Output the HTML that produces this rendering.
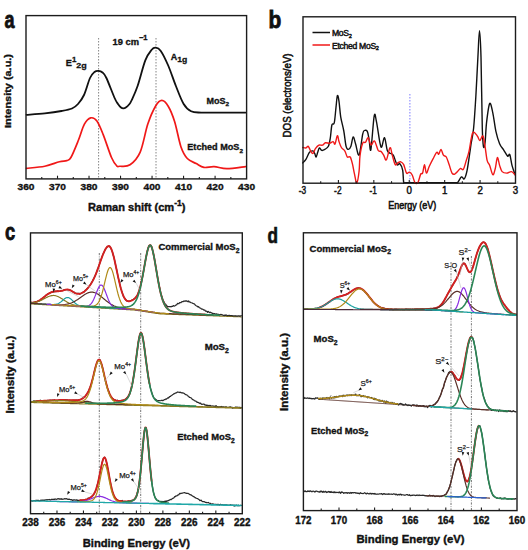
<!DOCTYPE html>
<html><head><meta charset="utf-8"><style>
html,body{margin:0;padding:0;background:#fff;width:528px;height:550px;overflow:hidden}
svg{display:block;font-family:"Liberation Sans", sans-serif}
</style></head><body>
<svg width="528" height="550" viewBox="0 0 528 550">
<line x1="98.6" y1="38" x2="98.6" y2="178.9" stroke="#666" stroke-width="0.8" stroke-dasharray="1.5,1.5"/>
<line x1="156" y1="38" x2="156" y2="178.9" stroke="#666" stroke-width="0.8" stroke-dasharray="1.5,1.5"/>
<path d="M26.5,114.8 C29.55,114.55 38.97,113.93 44.8,113.3 C50.63,112.67 56.97,111.8 61.5,111 C66.03,110.2 69.25,109.67 72,108.5 C74.75,107.33 76,106.25 78,104 C80,101.75 82,99.33 84,95 C86,90.67 88.25,81.83 90,78 C91.75,74.17 93.08,73.18 94.5,72 C95.92,70.82 97.17,70.82 98.5,70.9 C99.83,70.98 101.18,71.32 102.5,72.5 C103.82,73.68 104.38,73.75 106.4,78 C108.42,82.25 112.67,93.67 114.6,98 C116.53,102.33 116.93,102.42 118,104 C119.07,105.58 120.12,106.78 121,107.5 C121.88,108.22 122.5,108.28 123.3,108.3 C124.1,108.32 124.77,108.32 125.8,107.6 C126.83,106.88 128.55,105.18 129.5,104 C130.45,102.82 130.15,103.5 131.5,100.5 C132.85,97.5 135.3,92.68 137.6,86 C139.9,79.32 142.95,66.45 145.3,60.4 C147.65,54.35 150,51.83 151.7,49.7 C153.4,47.57 154.02,47.43 155.5,47.6 C156.98,47.77 158.48,47.72 160.6,50.7 C162.72,53.68 165.65,59.62 168.2,65.5 C170.75,71.38 173.35,79.63 175.9,86 C178.45,92.37 180.97,99.48 183.5,103.7 C186.03,107.92 188.13,109.82 191.1,111.3 C194.07,112.78 196.62,112.38 201.3,112.6 C205.98,112.82 211.83,112.6 219.2,112.6 C226.57,112.6 241.12,112.6 245.5,112.6" fill="none" stroke="#111" stroke-width="1.8" stroke-linejoin="round" stroke-linecap="round"/>
<path d="M26.5,168.3 C29.55,167.96 39.32,167.35 44.8,166.25 C50.28,165.15 55.75,162.64 59.4,161.7 C63.05,160.76 64.78,161.3 66.7,160.6 C68.62,159.9 68.98,160.8 70.9,157.5 C72.82,154.2 75.95,146.35 78.2,140.8 C80.45,135.25 82.32,128.02 84.4,124.2 C86.48,120.38 88.62,118.43 90.7,117.9 C92.78,117.37 94.82,118.22 96.9,121 C98.98,123.78 100.77,128.52 103.2,134.6 C105.63,140.68 109.25,152.3 111.5,157.5 C113.75,162.7 115.32,164.34 116.7,165.8 C118.08,167.26 117.58,166.42 119.8,166.25 C122.02,166.08 126.6,167.16 130,164.8 C133.4,162.44 137.23,158.88 140.2,152.1 C143.17,145.32 145.25,131.75 147.8,124.1 C150.35,116.45 153.17,110.15 155.5,106.2 C157.83,102.25 159.68,100.4 161.8,100.4 C163.92,100.4 166.07,102.68 168.2,106.2 C170.33,109.72 172.47,114.7 174.6,121.5 C176.73,128.3 178.88,140.83 181,147 C183.12,153.17 184.77,155.73 187.3,158.5 C189.83,161.27 193.43,162.12 196.2,163.6 C198.97,165.08 200.92,166.9 203.9,167.4 C206.88,167.9 210.28,166.38 214.1,166.6 C217.92,166.82 221.57,168.7 226.8,168.7 C232.03,168.7 242.38,166.95 245.5,166.6" fill="none" stroke="#f01818" stroke-width="1.7" stroke-linejoin="round" stroke-linecap="round"/>
<rect x="26" y="15.6" width="220.6" height="163.3" fill="none" stroke="#1c1c1c" stroke-width="1.4"/>
<line x1="41.76" y1="178.9" x2="41.76" y2="176.9" stroke="#1c1c1c" stroke-width="1.1" />
<line x1="57.51" y1="178.9" x2="57.51" y2="175.7" stroke="#1c1c1c" stroke-width="1.1" />
<line x1="73.27" y1="178.9" x2="73.27" y2="176.9" stroke="#1c1c1c" stroke-width="1.1" />
<line x1="89.03" y1="178.9" x2="89.03" y2="175.7" stroke="#1c1c1c" stroke-width="1.1" />
<line x1="104.79" y1="178.9" x2="104.79" y2="176.9" stroke="#1c1c1c" stroke-width="1.1" />
<line x1="120.54" y1="178.9" x2="120.54" y2="175.7" stroke="#1c1c1c" stroke-width="1.1" />
<line x1="136.3" y1="178.9" x2="136.3" y2="176.9" stroke="#1c1c1c" stroke-width="1.1" />
<line x1="152.06" y1="178.9" x2="152.06" y2="175.7" stroke="#1c1c1c" stroke-width="1.1" />
<line x1="167.81" y1="178.9" x2="167.81" y2="176.9" stroke="#1c1c1c" stroke-width="1.1" />
<line x1="183.57" y1="178.9" x2="183.57" y2="175.7" stroke="#1c1c1c" stroke-width="1.1" />
<line x1="199.33" y1="178.9" x2="199.33" y2="176.9" stroke="#1c1c1c" stroke-width="1.1" />
<line x1="215.09" y1="178.9" x2="215.09" y2="175.7" stroke="#1c1c1c" stroke-width="1.1" />
<line x1="230.84" y1="178.9" x2="230.84" y2="176.9" stroke="#1c1c1c" stroke-width="1.1" />
<text x="26" y="189.9" font-size="9.5" font-weight="bold" text-anchor="middle" fill="#111" textLength="17" lengthAdjust="spacingAndGlyphs"  stroke="#111" stroke-width="0.33">360</text>
<text x="57.51" y="189.9" font-size="9.5" font-weight="bold" text-anchor="middle" fill="#111" textLength="17" lengthAdjust="spacingAndGlyphs"  stroke="#111" stroke-width="0.33">370</text>
<text x="89.03" y="189.9" font-size="9.5" font-weight="bold" text-anchor="middle" fill="#111" textLength="17" lengthAdjust="spacingAndGlyphs"  stroke="#111" stroke-width="0.33">380</text>
<text x="120.54" y="189.9" font-size="9.5" font-weight="bold" text-anchor="middle" fill="#111" textLength="17" lengthAdjust="spacingAndGlyphs"  stroke="#111" stroke-width="0.33">390</text>
<text x="152.06" y="189.9" font-size="9.5" font-weight="bold" text-anchor="middle" fill="#111" textLength="17" lengthAdjust="spacingAndGlyphs"  stroke="#111" stroke-width="0.33">400</text>
<text x="183.57" y="189.9" font-size="9.5" font-weight="bold" text-anchor="middle" fill="#111" textLength="17" lengthAdjust="spacingAndGlyphs"  stroke="#111" stroke-width="0.33">410</text>
<text x="215.09" y="189.9" font-size="9.5" font-weight="bold" text-anchor="middle" fill="#111" textLength="17" lengthAdjust="spacingAndGlyphs"  stroke="#111" stroke-width="0.33">420</text>
<text x="246.6" y="189.9" font-size="9.5" font-weight="bold" text-anchor="middle" fill="#111" textLength="17" lengthAdjust="spacingAndGlyphs"  stroke="#111" stroke-width="0.33">430</text>
<text x="88" y="211.4" font-size="11" font-weight="bold" text-anchor="start" fill="#111" textLength="97.5" lengthAdjust="spacingAndGlyphs"  stroke="#111" stroke-width="0.39">Raman shift (cm<tspan font-size="8.5" dy="-5">-1</tspan><tspan dy="5">)</tspan></text>
<text x="11.2" y="128" font-size="9.6" font-weight="bold" text-anchor="start" fill="#111" textLength="74" lengthAdjust="spacingAndGlyphs" transform="rotate(-90 11.2 128)" stroke="#111" stroke-width="0.34">Intensity (a.u.)</text>
<text x="4.5" y="27.6" font-size="24" font-weight="bold" text-anchor="start" fill="#111" textLength="10" lengthAdjust="spacingAndGlyphs"  stroke="#111" stroke-width="0.84">a</text>
<text x="112.5" y="44.6" font-size="8.8" font-weight="bold" text-anchor="start" fill="#111" textLength="35" lengthAdjust="spacingAndGlyphs"  stroke="#111" stroke-width="0.31">19 cm<tspan font-size="7" dy="-4.2">−1</tspan></text>
<text x="65.8" y="66.3" font-size="8.3" font-weight="bold" text-anchor="start" fill="#111" textLength="21" lengthAdjust="spacingAndGlyphs"  stroke="#111" stroke-width="0.29">E<tspan font-size="7" dy="-4.5">1</tspan><tspan font-size="8" dy="6.5">2g</tspan></text>
<text x="170.8" y="59.7" font-size="8.3" font-weight="bold" text-anchor="start" fill="#111" textLength="16.5" lengthAdjust="spacingAndGlyphs"  stroke="#111" stroke-width="0.29">A<tspan font-size="8" dy="2">1g</tspan></text>
<text x="206.5" y="103.8" font-size="8.8" font-weight="bold" text-anchor="start" fill="#111" textLength="22.6" lengthAdjust="spacingAndGlyphs"  stroke="#111" stroke-width="0.31">MoS<tspan font-size="6.2" dy="2.2">2</tspan></text>
<text x="187.3" y="150.4" font-size="8.8" font-weight="bold" text-anchor="start" fill="#111" textLength="55.7" lengthAdjust="spacingAndGlyphs"  stroke="#111" stroke-width="0.31">Etched MoS<tspan font-size="6.2" dy="2.2">2</tspan></text>
<line x1="409.9" y1="94" x2="409.9" y2="183.2" stroke="#5a5aff" stroke-width="0.8" stroke-dasharray="1.5,1.5"/>
<path d="M302.8,162.9 C303.32,162.32 304.78,161.17 305.9,159.4 C307.02,157.63 308.32,153.7 309.5,152.3 C310.68,150.9 312.13,150.82 313,151 C313.87,151.18 314.18,152.4 314.7,153.4 C315.22,154.4 315.6,157.18 316.1,157 C316.6,156.82 317.15,153.8 317.7,152.3 C318.25,150.8 318.72,148.32 319.4,148 C320.08,147.68 320.9,150.17 321.8,150.4 C322.7,150.63 323.7,150.08 324.8,149.4 C325.9,148.72 327.48,148.2 328.4,146.3 C329.32,144.4 329.72,141.55 330.3,138 C330.88,134.45 331.23,127.55 331.9,125 C332.57,122.45 333.62,125.65 334.3,122.7 C334.98,119.75 335.48,111.83 336,107.3 C336.52,102.77 336.9,96.48 337.4,95.5 C337.9,94.52 338.45,97.85 339,101.4 C339.55,104.95 339.9,111.87 340.7,116.8 C341.5,121.73 342.9,126.08 343.8,131 C344.7,135.92 345.32,143.23 346.1,146.3 C346.88,149.37 347.7,149.4 348.5,149.4 C349.3,149.4 350.12,148.38 350.9,146.3 C351.68,144.22 352.42,137.28 353.2,136.9 C353.98,136.52 354.62,140.98 355.6,144 C356.58,147.02 357.92,156.65 359.1,155 C360.28,153.35 361.8,138.18 362.7,134.1 C363.6,130.02 363.73,130.95 364.5,130.5 C365.27,130.05 366.53,129.9 367.3,131.4 C368.07,132.9 368.5,136.48 369.1,139.5 C369.7,142.52 370.05,153.43 370.9,149.5 C371.75,145.57 373.28,120.58 374.2,115.9 C375.12,111.22 375.43,116.85 376.4,121.4 C377.37,125.95 379.1,138.97 380,143.2 C380.9,147.43 381.05,147.72 381.8,146.8 C382.55,145.88 383.58,137.08 384.5,137.7 C385.42,138.32 386.38,147.92 387.3,150.5 C388.22,153.08 389,152.42 390,153.2 C391,153.98 392.13,153.3 393.3,155.2 C394.47,157.1 395.9,163.18 397,164.6 C398.1,166.02 398.95,162.75 399.9,163.7 C400.85,164.65 402.07,167.18 402.7,170.3 C403.33,173.42 403.15,180.35 403.7,182.4 C404.25,184.45 401.62,182.57 406,182.6 C410.38,182.63 421.83,182.6 430,182.6 C438.17,182.6 450.38,182.63 455,182.6 C459.62,182.57 456.63,183.35 457.7,182.4 C458.77,181.45 460.3,177.5 461.4,176.9 C462.5,176.3 463.35,179.9 464.3,178.8 C465.25,177.7 466.15,174.87 467.1,170.3 C468.05,165.73 469.33,155.83 470,151.4 C470.67,146.97 470.5,147.55 471.1,143.7 C471.7,139.85 472.82,136.03 473.6,128.3 C474.38,120.57 475.08,109.17 475.8,97.3 C476.52,85.43 477.28,68.18 477.9,57.1 C478.52,46.02 478.98,30.8 479.5,30.8 C480.02,30.8 480.53,40.85 481,57.1 C481.47,73.35 481.88,113.35 482.3,128.3 C482.72,143.25 483.03,144.48 483.5,146.8 C483.97,149.12 484.58,146.32 485.1,142.2 C485.62,138.08 485.83,128.55 486.6,122.1 C487.37,115.65 488.67,105.05 489.7,103.5 C490.73,101.95 491.77,108.15 492.8,112.8 C493.83,117.45 494.77,126.25 495.9,131.4 C497.03,136.55 498.32,140.62 499.6,143.7 C500.88,146.78 502.27,147.83 503.6,149.9 C504.93,151.97 506.57,155.32 507.6,156.1 C508.63,156.88 509.07,153.05 509.8,154.6 C510.53,156.15 511.12,162.05 512,165.4 C512.88,168.75 514.58,173.15 515.1,174.7" fill="none" stroke="#111" stroke-width="1.4" stroke-linejoin="round" stroke-linecap="round"/>
<path d="M302.8,147.5 C303.32,147.58 304.98,148.2 305.9,148 C306.82,147.8 307.52,145.8 308.3,146.3 C309.08,146.8 309.82,149.82 310.6,151 C311.38,152.18 312.2,153.78 313,153.4 C313.8,153.02 314.42,150.07 315.4,148.7 C316.38,147.33 317.72,145.78 318.9,145.2 C320.08,144.62 321.4,145.6 322.5,145.2 C323.6,144.8 324.32,143.12 325.5,142.8 C326.68,142.48 328.33,143.5 329.6,143.3 C330.87,143.1 332.2,141.48 333.1,141.6 C334,141.72 334.28,144.98 335,144 C335.72,143.02 336.73,136.1 337.4,135.7 C338.07,135.3 338.33,139.63 339,141.6 C339.67,143.57 340.42,145.92 341.4,147.5 C342.38,149.08 343.92,149.52 344.9,151.1 C345.88,152.68 346.42,156.02 347.3,157 C348.18,157.98 349.33,155.82 350.2,157 C351.07,158.18 351.8,161.33 352.5,164.1 C353.2,166.87 353.68,170.45 354.4,173.6 C355.12,176.75 356.02,183.4 356.8,183 C357.58,182.6 358.57,175.72 359.1,171.2 C359.63,166.68 359.4,160.57 360,155.9 C360.6,151.23 361.78,145.47 362.7,143.2 C363.62,140.93 364.58,143.22 365.5,142.3 C366.42,141.38 367.3,137.25 368.2,137.7 C369.1,138.15 369.85,144.45 370.9,145 C371.95,145.55 373.28,140.08 374.5,141 C375.72,141.92 377.13,148.77 378.2,150.5 C379.27,152.23 380,150.65 380.9,151.4 C381.8,152.15 382.68,153.58 383.6,155 C384.52,156.42 385.33,161.12 386.4,159.9 C387.47,158.68 389.02,148.48 390,147.7 C390.98,146.92 391.43,152.38 392.3,155.2 C393.17,158.02 394.25,163.35 395.2,164.6 C396.15,165.85 397.07,163.17 398,162.7 C398.93,162.23 399.85,161.48 400.8,161.8 C401.75,162.12 402.75,162.72 403.7,164.6 C404.65,166.48 405.55,171.83 406.5,173.1 C407.45,174.37 408.45,171.88 409.4,172.2 C410.35,172.52 411.27,173.27 412.2,175 C413.13,176.73 414.05,181.33 415,182.6 C415.95,183.87 416.95,184.02 417.9,182.6 C418.85,181.18 419.92,175.68 420.7,174.1 C421.48,172.52 421.97,174.68 422.6,173.1 C423.23,171.52 423.87,164.6 424.5,164.6 C425.13,164.6 425.62,172.78 426.4,173.1 C427.18,173.42 428.1,168.87 429.2,166.5 C430.3,164.13 431.73,161.27 433,158.9 C434.27,156.53 435.85,153.08 436.8,152.3 C437.75,151.52 438,154.67 438.7,154.2 C439.4,153.73 440.22,149.33 441,149.5 C441.78,149.67 442.52,153.95 443.4,155.2 C444.28,156.45 445.35,155.43 446.3,157 C447.25,158.57 448.15,161.92 449.1,164.6 C450.05,167.28 451.05,171.52 452,173.1 C452.95,174.68 453.85,174.4 454.8,174.1 C455.75,173.8 456.75,172.25 457.7,171.3 C458.65,170.35 459.57,168.72 460.5,168.4 C461.43,168.08 462.35,170.67 463.3,169.4 C464.25,168.13 465.25,163.8 466.2,160.8 C467.15,157.8 467.92,156.05 469,151.4 C470.08,146.75 471.32,135.47 472.7,132.9 C474.08,130.33 476.12,134.72 477.3,136 C478.48,137.28 478.87,140.6 479.8,140.6 C480.73,140.6 482.02,134.97 482.9,136 C483.78,137.03 484.38,142.68 485.1,146.8 C485.82,150.92 486.43,157.6 487.2,160.7 C487.97,163.8 488.77,163.07 489.7,165.4 C490.63,167.73 491.87,174.18 492.8,174.7 C493.73,175.22 494.53,171.35 495.3,168.5 C496.07,165.65 496.68,158.12 497.4,157.6 C498.12,157.08 498.82,163.07 499.6,165.4 C500.38,167.73 500.92,170.32 502.1,171.6 C503.28,172.88 505.15,173.1 506.7,173.1 C508.25,173.1 510.02,171.33 511.4,171.6 C512.78,171.87 514.4,174.18 515,174.7" fill="none" stroke="#f01818" stroke-width="1.4" stroke-linejoin="round" stroke-linecap="round"/>
<rect x="303" y="16.8" width="212.5" height="166.4" fill="none" stroke="#1c1c1c" stroke-width="1.4"/>
<line x1="320.71" y1="183.2" x2="320.71" y2="181.2" stroke="#1c1c1c" stroke-width="1.1" />
<line x1="338.42" y1="183.2" x2="338.42" y2="180" stroke="#1c1c1c" stroke-width="1.1" />
<line x1="356.12" y1="183.2" x2="356.12" y2="181.2" stroke="#1c1c1c" stroke-width="1.1" />
<line x1="373.83" y1="183.2" x2="373.83" y2="180" stroke="#1c1c1c" stroke-width="1.1" />
<line x1="391.54" y1="183.2" x2="391.54" y2="181.2" stroke="#1c1c1c" stroke-width="1.1" />
<line x1="409.25" y1="183.2" x2="409.25" y2="180" stroke="#1c1c1c" stroke-width="1.1" />
<line x1="426.96" y1="183.2" x2="426.96" y2="181.2" stroke="#1c1c1c" stroke-width="1.1" />
<line x1="444.67" y1="183.2" x2="444.67" y2="180" stroke="#1c1c1c" stroke-width="1.1" />
<line x1="462.37" y1="183.2" x2="462.37" y2="181.2" stroke="#1c1c1c" stroke-width="1.1" />
<line x1="480.08" y1="183.2" x2="480.08" y2="180" stroke="#1c1c1c" stroke-width="1.1" />
<line x1="497.79" y1="183.2" x2="497.79" y2="181.2" stroke="#1c1c1c" stroke-width="1.1" />
<text x="302.4" y="194.2" font-size="10" font-weight="normal" text-anchor="middle" fill="#111" textLength="7.4" lengthAdjust="spacingAndGlyphs" stroke="#111" stroke-width="0.45">-3</text>
<text x="337.82" y="194.2" font-size="10" font-weight="normal" text-anchor="middle" fill="#111" textLength="7.4" lengthAdjust="spacingAndGlyphs" stroke="#111" stroke-width="0.45">-2</text>
<text x="373.23" y="194.2" font-size="10" font-weight="normal" text-anchor="middle" fill="#111" textLength="7.4" lengthAdjust="spacingAndGlyphs" stroke="#111" stroke-width="0.45">-1</text>
<text x="409.25" y="194.2" font-size="10" font-weight="normal" text-anchor="middle" fill="#111" textLength="5.4" lengthAdjust="spacingAndGlyphs" stroke="#111" stroke-width="0.45">0</text>
<text x="444.67" y="194.2" font-size="10" font-weight="normal" text-anchor="middle" fill="#111" textLength="5.4" lengthAdjust="spacingAndGlyphs" stroke="#111" stroke-width="0.45">1</text>
<text x="480.08" y="194.2" font-size="10" font-weight="normal" text-anchor="middle" fill="#111" textLength="5.4" lengthAdjust="spacingAndGlyphs" stroke="#111" stroke-width="0.45">2</text>
<text x="515.5" y="194.2" font-size="10" font-weight="normal" text-anchor="middle" fill="#111" textLength="5.4" lengthAdjust="spacingAndGlyphs" stroke="#111" stroke-width="0.45">3</text>
<text x="388.2" y="209" font-size="10.8" font-weight="normal" text-anchor="start" fill="#111" textLength="48" lengthAdjust="spacingAndGlyphs" stroke="#111" stroke-width="0.6">Energy (eV)</text>
<text x="291.5" y="137.4" font-size="10" font-weight="normal" text-anchor="start" fill="#111" textLength="84" lengthAdjust="spacingAndGlyphs" transform="rotate(-90 291.5 137.4)" stroke="#111" stroke-width="0.55">DOS (electrons/eV)</text>
<text x="268.5" y="27.6" font-size="24" font-weight="bold" text-anchor="start" fill="#111" textLength="12.8" lengthAdjust="spacingAndGlyphs"  stroke="#111" stroke-width="0.84">b</text>
<line x1="312.5" y1="32.5" x2="330" y2="32.5" stroke="#111" stroke-width="1.5" />
<line x1="312.5" y1="45" x2="330" y2="45" stroke="#f01818" stroke-width="1.5" />
<text x="332" y="36" font-size="8.6" font-weight="normal" text-anchor="start" fill="#111" letter-spacing="-0.3" stroke="#111" stroke-width="0.45">MoS<tspan font-size="5.5" dy="1.8">2</tspan></text>
<text x="332" y="48.5" font-size="8.6" font-weight="normal" text-anchor="start" fill="#111" letter-spacing="-0.3" stroke="#111" stroke-width="0.45">Etched MoS<tspan font-size="5.5" dy="1.8">2</tspan></text>
<line x1="99.3" y1="253" x2="99.3" y2="513.7" stroke="#666" stroke-width="0.9" stroke-dasharray="2.2,1.3,0.8,1.3"/>
<line x1="140.7" y1="253" x2="140.7" y2="513.7" stroke="#666" stroke-width="0.9" stroke-dasharray="2.2,1.3,0.8,1.3"/>
<polyline points="31.2,303.94 31.9,303.98 32.6,304.02 33.3,304.06 34,304.1 34.7,304.14 35.4,304.19 36.1,304.23 36.8,304.27 37.5,304.31 38.2,304.35 38.9,304.39 39.6,304.43 40.3,304.48 41,304.52 41.7,304.56 42.4,304.6 43.1,304.64 43.8,304.68 44.5,304.73 45.2,304.77 45.9,304.81 46.6,304.85 47.3,304.89 48,304.93 48.7,304.97 49.4,305.02 50.1,305.06 50.8,305.1 51.5,305.14 52.2,305.18 52.9,305.22 53.6,305.27 54.3,305.31 55,305.35 55.7,305.39 56.4,305.43 57.1,305.47 57.8,305.52 58.5,305.56 59.2,305.6 59.9,305.64 60.6,305.68 61.3,305.72 62,305.76 62.7,305.81 63.4,305.85 64.1,305.89 64.8,305.93 65.5,305.97 66.2,306.01 66.9,306.06 67.6,306.1 68.3,306.14 69,306.18 69.7,306.22 70.4,306.26 71.1,306.31 71.8,306.35 72.5,306.39 73.2,306.43 73.9,306.47 74.6,306.51 75.3,306.55 76,306.6 76.7,306.64 77.4,306.68 78.1,306.72 78.8,306.76 79.5,306.8 80.2,306.85 80.9,306.89 81.6,306.93 82.3,306.97 83,307.01 83.7,307.05 84.4,307.1 85.1,307.14 85.8,307.18 86.5,307.22 87.2,307.26 87.9,307.3 88.6,307.34 89.3,307.39 90,307.43 90.7,307.47 91.4,307.51 92.1,307.55 92.8,307.59 93.5,307.64 94.2,307.68 94.9,307.72 95.6,307.76 96.3,307.8 97,307.84 97.7,307.88 98.4,307.93 99.1,307.97 99.8,308.01 100.5,308.05 101.2,308.09 101.9,308.13 102.6,308.18 103.3,308.22 104,308.26 104.7,308.3 105.4,308.34 106.1,308.38 106.8,308.43 107.5,308.47 108.2,308.51 108.9,308.55 109.6,308.59 110.3,308.63 111,308.67 111.7,308.72 112.4,308.76 113.1,308.8 113.8,308.84 114.5,308.88 115.2,308.92 115.9,308.97 116.6,309.01 117.3,309.05 118,309.09 118.7,309.13 119.4,309.17 120.1,309.22 120.8,309.26 121.5,309.3 122.2,309.34 122.9,309.38 123.6,309.42 124.3,309.46 125,309.51 125.7,309.55 126.4,309.59 127.1,309.63 127.8,309.67 128.5,309.71 129.2,309.76 129.9,309.8 130.6,309.84 131.3,309.88 132,309.92 132.7,309.96 133.4,310 134.1,310.05 134.8,310.09 135.5,310.18 136.2,310.28 136.9,310.39 137.6,310.5 138.3,310.6 139,310.71 139.7,310.81 140.4,310.92 141.1,311.03 141.8,311.13 142.5,311.24 143.2,311.35 143.9,311.45 144.6,311.56 145.3,311.67 146,311.77 146.7,311.88 147.4,311.98 148.1,312.09 148.8,312.2 149.5,312.3 150.2,312.41 150.9,312.52 151.6,312.62 152.3,312.73 153,312.84 153.7,312.94 154.4,313.05 155.1,313.16 155.8,313.26 156.5,313.37 157.2,313.47 157.9,313.58 158.6,313.69 159.3,313.79 160,313.9 160.7,313.93 161.4,313.95 162.1,313.98 162.8,314 163.5,314.03 164.2,314.05 164.9,314.08 165.6,314.1 166.3,314.13 167,314.16 167.7,314.18 168.4,314.21 169.1,314.23 169.8,314.26 170.5,314.28 171.2,314.31 171.9,314.34 172.6,314.36 173.3,314.39 174,314.41 174.7,314.44 175.4,314.46 176.1,314.49 176.8,314.51 177.5,314.54 178.2,314.57 178.9,314.59 179.6,314.62 180.3,314.64 181,314.67 181.7,314.69 182.4,314.72 183.1,314.75 183.8,314.77 184.5,314.8 185.2,314.82 185.9,314.85 186.6,314.87 187.3,314.9 188,314.92 188.7,314.95 189.4,314.98 190.1,315 190.8,315.03 191.5,315.05 192.2,315.08 192.9,315.1 193.6,315.13 194.3,315.15 195,315.18 195.7,315.21 196.4,315.23 197.1,315.26 197.8,315.28 198.5,315.31 199.2,315.33 199.9,315.36 200.6,315.39 201.3,315.41 202,315.44 202.7,315.46 203.4,315.49 204.1,315.51 204.8,315.54 205.5,315.56 206.2,315.59 206.9,315.62 207.6,315.64 208.3,315.67 209,315.69 209.7,315.72 210.4,315.74 211.1,315.77 211.8,315.8 212.5,315.82 213.2,315.85 213.9,315.87 214.6,315.9 215.3,315.92 216,315.95 216.7,315.97 217.4,316 218.1,316.03 218.8,316.05 219.5,316.08 220.2,316.1 220.9,316.13 221.6,316.15 222.3,316.18 223,316.2 223.7,316.23 224.4,316.26 225.1,316.28 225.8,316.31 226.5,316.33 227.2,316.36 227.9,316.38 228.6,316.41 229.3,316.44 230,316.46 230.7,316.49 231.4,316.51 232.1,316.54 232.8,316.56 233.5,316.59 234.2,316.61 234.9,316.64 235.6,316.67 236.3,316.69 237,316.72 237.7,316.74 238.4,316.77 239.1,316.79 239.8,316.82 240.5,316.85 241.2,316.87" fill="none" stroke="#8a7a20" stroke-width="1.1" stroke-linejoin="round" stroke-linecap="round" />
<polyline points="31.2,302.33 31.9,302.83 32.6,302.74 33.3,302.78 34,302.17 34.7,302.82 35.4,301.64 36.1,302.07 36.8,301.56 37.5,301.43 38.2,300.69 38.9,301.21 39.6,300.38 40.3,299.96 41,299.11 41.7,299.16 42.4,298.39 43.1,298.01 43.8,297.21 44.5,296.5 45.2,296.36 45.9,295.24 46.6,294.77 47.3,294.36 48,293.79 48.7,293.75 49.4,293.21 50.1,293.05 50.8,292.56 51.5,292.08 52.2,292.15 52.9,291.87 53.6,291.78 54.3,291.68 55,291.54 55.7,291.31 56.4,291.54 57.1,291.17 57.8,290.79 58.5,290.99 59.2,291.19 59.9,291.31 60.6,291.19 61.3,290.47 62,290.73 62.7,290.72 63.4,290.32 64.1,289.63 64.8,289.92 65.5,289.62 66.2,289.56 66.9,289.65 67.6,289.84 68.3,289.72 69,289.84 69.7,289.88 70.4,290.13 71.1,290.47 71.8,291.04 72.5,291.32 73.2,292.16 73.9,292.08 74.6,292.65 75.3,293.19 76,293.27 76.7,293.63 77.4,293.47 78.1,293.45 78.8,293.27 79.5,294.09 80.2,293.96 80.9,293.51 81.6,293.06 82.3,292.54 83,292.28 83.7,292.41 84.4,291.47 85.1,290.61 85.8,290.13 86.5,289.31 87.2,288.81 87.9,288.01 88.6,287.05 89.3,286.08 90,285.15 90.7,284.13 91.4,283.22 92.1,281.78 92.8,280.58 93.5,278.99 94.2,277.53 94.9,276.25 95.6,274.75 96.3,273.07 97,270.97 97.7,269.15 98.4,267.28 99.1,265.18 99.8,263.32 100.5,260.99 101.2,259.31 101.9,256.99 102.6,255.37 103.3,253.6 104,252.41 104.7,250.61 105.4,249.13 106.1,248.4 106.8,247.28 107.5,246.51 108.2,246.46 108.9,245.98 109.6,246.18 110.3,247.36 111,248.26 111.7,250.3 112.4,252.01 113.1,254.79 113.8,256.8 114.5,259.93 115.2,263.18 115.9,266.63 116.6,269.44 117.3,272.61 118,276.85 118.7,279.27 119.4,282.23 120.1,285.42 120.8,288.47 121.5,290.39 122.2,292.83 122.9,294.85 123.6,296.66 124.3,297.61 125,298.68 125.7,299.92 126.4,300.3 127.1,301.17 127.8,300.96 128.5,301.26 129.2,301.3 129.9,301.15 130.6,300.69 131.3,300.44 132,300.17 132.7,299.89 133.4,299.47 134.1,298.84 134.8,298.35 135.5,297.57 136.2,297 136.9,296.5 137.6,294.35 138.3,292.48 139,291.02 139.7,288.91 140.4,286.34 141.1,283.41 141.8,280.15 142.5,276.93 143.2,273.07 143.9,269.33 144.6,265.1 145.3,261.35 146,257.41 146.7,254.11 147.4,250.74 148.1,248.39 148.8,245.99 149.5,245.87 150.2,245.24 150.9,245.38 151.6,246.32 152.3,249.12 153,251.8 153.7,255.15 154.4,258.44 155.1,262.8 155.8,266.66 156.5,271.05 157.2,275.39 157.9,278.96 158.6,282.7 159.3,286.06 160,289.69 160.7,292.72 161.4,295.02 162.1,297.39 162.8,299.38 163.5,301.16 164.2,302.29 164.9,303.66 165.6,304.23 166.3,305.18 167,305.85 167.7,306.83 168.4,306.54 169.1,306.74 169.8,306.68 170.5,306.59 171.2,306.83 171.9,306.35 172.6,306.47 173.3,305.56 174,306.08 174.7,305.85 175.4,305.47 176.1,304.92 176.8,304.6 177.5,303.46 178.2,303.66 178.9,303.55 179.6,302.59 180.3,302.7 181,302.56 181.7,301.77 182.4,301.6 183.1,301.67 183.8,301.06 184.5,301.27 185.2,300.84 185.9,301.1 186.6,300.87 187.3,301.31 188,301.76 188.7,301.01 189.4,301.97 190.1,302.14 190.8,302.55 191.5,302.74 192.2,302.98 192.9,303.37 193.6,303.65 194.3,303.78 195,304.69 195.7,305.41 196.4,305.84 197.1,306.16 197.8,306.86 198.5,306.69 199.2,307.46 199.9,307.84 200.6,308.19 201.3,308.95 202,309.22 202.7,309.22 203.4,309.6 204.1,310.22 204.8,310 205.5,311.11 206.2,311.18 206.9,311.44 207.6,312.37 208.3,311.45 209,312.1 209.7,312.69 210.4,312.14 211.1,312.72 211.8,312.96 212.5,313.41 213.2,313.42 213.9,313.99 214.6,313.57 215.3,314.02 216,314.03 216.7,313.9 217.4,314.25 218.1,314.37 218.8,314.48 219.5,314.83 220.2,314.54 220.9,314.45 221.6,314.73 222.3,314.78 223,315.29 223.7,315.36 224.4,315.56 225.1,314.95 225.8,315.38 226.5,315.02 227.2,315.62 227.9,315.58 228.6,315.49 229.3,315.33 230,315.58 230.7,315.59 231.4,315.67 232.1,315.67 232.8,316.03 233.5,315.76 234.2,315.86 234.9,315.86 235.6,315.75 236.3,316.08 237,315.96 237.7,316.04 238.4,315.89 239.1,315.83 239.8,316.3 240.5,315.94 241.2,315.6" fill="none" stroke="#2a2a2a" stroke-width="1.25" stroke-linejoin="round" stroke-linecap="round" />
<polyline points="31.2,302.74 31.9,302.68 32.6,302.6 33.3,302.51 34,302.39 34.7,302.25 35.4,302.08 36.1,301.88 36.8,301.64 37.5,301.36 38.2,301.05 38.9,300.7 39.6,300.3 40.3,299.87 41,299.39 41.7,298.88 42.4,298.35 43.1,297.79 43.8,297.22 44.5,296.65 45.2,296.08 45.9,295.53 46.6,294.99 47.3,294.49 48,294.01 48.7,293.58 49.4,293.18 50.1,292.82 50.8,292.5 51.5,292.22 52.2,291.97 52.9,291.77 53.6,291.6 54.3,291.47 55,291.37 55.7,291.3 56.4,291.26 57.1,291.23 57.8,291.2 58.5,291.18 59.2,291.14 59.9,291.09 60.6,291.01 61.3,290.89 62,290.74 62.7,290.56 63.4,290.36 64.1,290.15 64.8,289.95 65.5,289.77 66.2,289.64 66.9,289.56 67.6,289.56 68.3,289.63 69,289.79 69.7,290.03 70.4,290.34 71.1,290.7 71.8,291.11 72.5,291.54 73.2,291.97 73.9,292.39 74.6,292.78 75.3,293.11 76,293.4 76.7,293.61 77.4,293.76 78.1,293.83 78.8,293.82 79.5,293.74 80.2,293.6 80.9,293.38 81.6,293.1 82.3,292.76 83,292.36 83.7,291.91 84.4,291.39 85.1,290.82 85.8,290.19 86.5,289.5 87.2,288.76 87.9,287.96 88.6,287.1 89.3,286.18 90,285.2 90.7,284.16 91.4,283.06 92.1,281.87 92.8,280.62 93.5,279.27 94.2,277.83 94.9,276.29 95.6,274.65 96.3,272.91 97,271.08 97.7,269.17 98.4,267.2 99.1,265.19 99.8,263.17 100.5,261.16 101.2,259.2 101.9,257.3 102.6,255.47 103.3,253.75 104,252.13 104.7,250.65 105.4,249.32 106.1,248.16 106.8,247.21 107.5,246.52 108.2,246.11 108.9,246.06 109.6,246.39 110.3,247.15 111,248.34 111.7,249.97 112.4,252 113.1,254.39 113.8,257.08 114.5,260.03 115.2,263.17 115.9,266.43 116.6,269.76 117.3,273.1 118,276.39 118.7,279.58 119.4,282.63 120.1,285.51 120.8,288.17 121.5,290.6 122.2,292.79 122.9,294.7 123.6,296.36 124.3,297.75 125,298.88 125.7,299.77 126.4,300.43 127.1,300.89 127.8,301.16 128.5,301.27 129.2,301.25 129.9,301.12 130.6,300.91 131.3,300.63 132,300.3 132.7,299.92 133.4,299.49 134.1,298.99 134.8,298.41 135.5,297.74 136.2,296.92 136.9,295.89 137.6,294.61 138.3,293.03 139,291.13 139.7,288.89 140.4,286.3 141.1,283.38 141.8,280.15 142.5,276.66 143.2,272.94 143.9,269.09 144.6,265.17 145.3,261.28 146,257.54 146.7,254.07 147.4,251 148.1,248.45 148.8,246.56 149.5,245.42 150.2,245.11 150.9,245.64 151.6,247 152.3,249.12 153,251.88 153.7,255.18 154.4,258.89 155.1,262.86 155.8,266.99 156.5,271.17 157.2,275.31 157.9,279.33 158.6,283.18 159.3,286.8 160,290.16 160.7,293.15 161.4,295.86 162.1,298.27 162.8,300.4 163.5,302.25 164.2,303.85 164.9,305.23 165.6,306.39 166.3,307.38 167,308.2 167.7,308.89 168.4,309.47 169.1,309.95 169.8,310.36 170.5,310.7 171.2,310.98 171.9,311.23 172.6,311.44 173.3,311.62 174,311.79 174.7,311.93 175.4,312.07 176.1,312.19 176.8,312.3 177.5,312.4 178.2,312.5 178.9,312.59 179.6,312.68 180.3,312.76 181,312.84 181.7,312.92 182.4,312.99 183.1,313.06 183.8,313.13 184.5,313.2 185.2,313.26 185.9,313.32 186.6,313.38 187.3,313.43 188,313.49 188.7,313.54 189.4,313.6 190.1,313.65 190.8,313.7 191.5,313.75 192.2,313.79 192.9,313.84 193.6,313.89 194.3,313.93 195,313.98 195.7,314.02 196.4,314.06 197.1,314.1 197.8,314.14 198.5,314.19 199.2,314.23 199.9,314.26 200.6,314.3 201.3,314.34 202,314.38 202.7,314.42 203.4,314.45 204.1,314.49 204.8,314.53" fill="none" stroke="#d42020" stroke-width="1.9" stroke-linejoin="round" stroke-linecap="round" />
<polyline points="31.2,302.85 31.9,302.8 32.6,302.73 33.3,302.65 34,302.55 34.7,302.43 35.4,302.29 36.1,302.13 36.8,301.95 37.5,301.74 38.2,301.51 38.9,301.26 39.6,300.98 40.3,300.69 41,300.37 41.7,300.04 42.4,299.69 43.1,299.33 43.8,298.96 44.5,298.58 45.2,298.2 45.9,297.83 46.6,297.47 47.3,297.12 48,296.8 48.7,296.5 49.4,296.22 50.1,295.99 50.8,295.79 51.5,295.64 52.2,295.53 52.9,295.48 53.6,295.47 54.3,295.52 55,295.61 55.7,295.76 56.4,295.96 57.1,296.2 57.8,296.48 58.5,296.81 59.2,297.17 59.9,297.55 60.6,297.97 61.3,298.4 62,298.85 62.7,299.3 63.4,299.76 64.1,300.22 64.8,300.67 65.5,301.12 66.2,301.55 66.9,301.96 67.6,302.36 68.3,302.73 69,303.09 69.7,303.42 70.4,303.73 71.1,304.02 71.8,304.28 72.5,304.52 73.2,304.74 73.9,304.94 74.6,305.12 75.3,305.29 76,305.44 76.7,305.57 77.4,305.69 78.1,305.8 78.8,305.9 79.5,305.99 80.2,306.07 80.9,306.15 81.6,306.22 82.3,306.28 83,306.34 83.7,306.4 84.4,306.45 85.1,306.5 85.8,306.55 86.5,306.6 87.2,306.65 87.9,306.69 88.6,306.74 89.3,306.78 90,306.82 90.7,306.87 91.4,306.91 92.1,306.95 92.8,306.99 93.5,307.03 94.2,307.08 94.9,307.12 95.6,307.16 96.3,307.2 97,307.24 97.7,307.28 98.4,307.33 99.1,307.37 99.8,307.41 100.5,307.45 101.2,307.49 101.9,307.53 102.6,307.58 103.3,307.62 104,307.66 104.7,307.7 105.4,307.74 106.1,307.78 106.8,307.83 107.5,307.87 108.2,307.91 108.9,307.95 109.6,307.99 110.3,308.03 111,308.07 111.7,308.12 112.4,308.16 113.1,308.2 113.8,308.24 114.5,308.28 115.2,308.32 115.9,308.37 116.6,308.41 117.3,308.45 118,308.49 118.7,308.53 119.4,308.57 120.1,308.62 120.8,308.66 121.5,308.7 122.2,308.74 122.9,308.78 123.6,308.82 124.3,308.86 125,308.91 125.7,308.95 126.4,308.99 127.1,309.03 127.8,309.07 128.5,309.11 129.2,309.16 129.9,309.2 130.6,309.24 131.3,309.28 132,309.32 132.7,309.36 133.4,309.4 134.1,309.45 134.8,309.49 135.5,309.58 136.2,309.68 136.9,309.79 137.6,309.9 138.3,310 139,310.11 139.7,310.21 140.4,310.32 141.1,310.43 141.8,310.53 142.5,310.64 143.2,310.75 143.9,310.85 144.6,310.96 145.3,311.07 146,311.17 146.7,311.28 147.4,311.38 148.1,311.49 148.8,311.6 149.5,311.7 150.2,311.81 150.9,311.92 151.6,312.02 152.3,312.13" fill="none" stroke="#8a7a20" stroke-width="1.2" stroke-linejoin="round" stroke-linecap="round" />
<polyline points="31.2,303.34 31.9,303.38 32.6,303.42 33.3,303.46 34,303.5 34.7,303.54 35.4,303.59 36.1,303.63 36.8,303.67 37.5,303.71 38.2,303.75 38.9,303.79 39.6,303.83 40.3,303.88 41,303.92 41.7,303.96 42.4,304 43.1,304.04 43.8,304.08 44.5,304.13 45.2,304.17 45.9,304.21 46.6,304.25 47.3,304.29 48,304.33 48.7,304.37 49.4,304.4 50.1,304.44 50.8,304.47 51.5,304.49 52.2,304.51 52.9,304.51 53.6,304.5 54.3,304.47 55,304.41 55.7,304.31 56.4,304.18 57.1,303.99 57.8,303.75 58.5,303.44 59.2,303.07 59.9,302.63 60.6,302.13 61.3,301.58 62,300.98 62.7,300.36 63.4,299.74 64.1,299.14 64.8,298.6 65.5,298.15 66.2,297.8 66.9,297.58 67.6,297.5 68.3,297.58 69,297.8 69.7,298.16 70.4,298.64 71.1,299.22 71.8,299.87 72.5,300.56 73.2,301.27 73.9,301.96 74.6,302.63 75.3,303.25 76,303.8 76.7,304.3 77.4,304.72 78.1,305.08 78.8,305.38 79.5,305.63 80.2,305.83 80.9,305.99 81.6,306.12 82.3,306.23 83,306.32 83.7,306.39 84.4,306.46 85.1,306.51 85.8,306.56 86.5,306.61 87.2,306.66 87.9,306.7 88.6,306.74 89.3,306.78 90,306.83 90.7,306.87 91.4,306.91 92.1,306.95 92.8,306.99 93.5,307.04 94.2,307.08 94.9,307.12 95.6,307.16 96.3,307.2 97,307.24 97.7,307.28 98.4,307.33 99.1,307.37 99.8,307.41 100.5,307.45 101.2,307.49 101.9,307.53 102.6,307.58 103.3,307.62 104,307.66 104.7,307.7 105.4,307.74 106.1,307.78 106.8,307.83 107.5,307.87 108.2,307.91 108.9,307.95 109.6,307.99 110.3,308.03 111,308.07 111.7,308.12 112.4,308.16 113.1,308.2 113.8,308.24 114.5,308.28 115.2,308.32 115.9,308.37 116.6,308.41 117.3,308.45 118,308.49 118.7,308.53 119.4,308.57 120.1,308.62 120.8,308.66 121.5,308.7" fill="none" stroke="#1aa0a0" stroke-width="1.2" stroke-linejoin="round" stroke-linecap="round" />
<polyline points="31.2,303.34 31.9,303.38 32.6,303.42 33.3,303.46 34,303.5 34.7,303.54 35.4,303.58 36.1,303.63 36.8,303.67 37.5,303.71 38.2,303.75 38.9,303.79 39.6,303.83 40.3,303.88 41,303.92 41.7,303.96 42.4,304 43.1,304.04 43.8,304.08 44.5,304.12 45.2,304.16 45.9,304.2 46.6,304.24 47.3,304.28 48,304.32 48.7,304.36 49.4,304.4 50.1,304.44 50.8,304.48 51.5,304.51 52.2,304.55 52.9,304.58 53.6,304.61 54.3,304.64 55,304.67 55.7,304.7 56.4,304.72 57.1,304.74 57.8,304.75 58.5,304.76 59.2,304.76 59.9,304.76 60.6,304.75 61.3,304.73 62,304.7 62.7,304.67 63.4,304.62 64.1,304.55 64.8,304.48 65.5,304.39 66.2,304.28 66.9,304.16 67.6,304.02 68.3,303.85 69,303.67 69.7,303.46 70.4,303.24 71.1,302.98 71.8,302.71 72.5,302.41 73.2,302.08 73.9,301.73 74.6,301.36 75.3,300.96 76,300.54 76.7,300.1 77.4,299.65 78.1,299.17 78.8,298.69 79.5,298.19 80.2,297.69 80.9,297.18 81.6,296.68 82.3,296.18 83,295.69 83.7,295.21 84.4,294.75 85.1,294.32 85.8,293.91 86.5,293.54 87.2,293.2 87.9,292.91 88.6,292.66 89.3,292.45 90,292.3 90.7,292.2 91.4,292.15 92.1,292.15 92.8,292.21 93.5,292.33 94.2,292.5 94.9,292.72 95.6,293 96.3,293.32 97,293.68 97.7,294.09 98.4,294.54 99.1,295.02 99.8,295.53 100.5,296.06 101.2,296.62 101.9,297.19 102.6,297.77 103.3,298.35 104,298.94 104.7,299.53 105.4,300.11 106.1,300.69 106.8,301.25 107.5,301.79 108.2,302.32 108.9,302.83 109.6,303.31 110.3,303.78 111,304.22 111.7,304.63 112.4,305.02 113.1,305.39 113.8,305.73 114.5,306.05 115.2,306.34 115.9,306.62 116.6,306.87 117.3,307.1 118,307.31 118.7,307.51 119.4,307.69 120.1,307.85 120.8,308 121.5,308.13 122.2,308.26 122.9,308.37 123.6,308.47 124.3,308.57 125,308.66 125.7,308.74 126.4,308.82 127.1,308.89 127.8,308.95 128.5,309.02 129.2,309.07 129.9,309.13 130.6,309.18 131.3,309.24 132,309.29 132.7,309.33 133.4,309.38 134.1,309.43 134.8,309.47 135.5,309.56 136.2,309.67 136.9,309.78 137.6,309.89 138.3,310 139,310.1 139.7,310.21 140.4,310.32 141.1,310.43 141.8,310.53 142.5,310.64 143.2,310.75 143.9,310.85 144.6,310.96 145.3,311.07 146,311.17 146.7,311.28 147.4,311.38 148.1,311.49 148.8,311.6 149.5,311.7 150.2,311.81 150.9,311.92 151.6,312.02 152.3,312.13 153,312.24 153.7,312.34 154.4,312.45 155.1,312.56 155.8,312.66 156.5,312.77 157.2,312.87 157.9,312.98 158.6,313.09 159.3,313.19 160,313.3 160.7,313.33 161.4,313.35 162.1,313.38 162.8,313.4 163.5,313.43 164.2,313.45 164.9,313.48 165.6,313.5 166.3,313.53 167,313.56 167.7,313.58 168.4,313.61 169.1,313.63 169.8,313.66 170.5,313.68 171.2,313.71 171.9,313.74 172.6,313.76 173.3,313.79 174,313.81 174.7,313.84 175.4,313.86 176.1,313.89 176.8,313.91 177.5,313.94 178.2,313.97 178.9,313.99 179.6,314.02 180.3,314.04 181,314.07 181.7,314.09 182.4,314.12 183.1,314.15 183.8,314.17 184.5,314.2 185.2,314.22 185.9,314.25 186.6,314.27 187.3,314.3 188,314.32 188.7,314.35 189.4,314.38 190.1,314.4 190.8,314.43 191.5,314.45 192.2,314.48 192.9,314.5 193.6,314.53 194.3,314.55 195,314.58 195.7,314.61 196.4,314.63 197.1,314.66 197.8,314.68 198.5,314.71 199.2,314.73 199.9,314.76 200.6,314.79 201.3,314.81 202,314.84 202.7,314.86 203.4,314.89 204.1,314.91 204.8,314.94 205.5,314.96 206.2,314.99 206.9,315.02 207.6,315.04 208.3,315.07 209,315.09 209.7,315.12 210.4,315.14 211.1,315.17 211.8,315.2 212.5,315.22 213.2,315.25" fill="none" stroke="#5a3028" stroke-width="1.2" stroke-linejoin="round" stroke-linecap="round" />
<polyline points="47.3,304.29 48,304.33 48.7,304.37 49.4,304.42 50.1,304.46 50.8,304.5 51.5,304.54 52.2,304.58 52.9,304.62 53.6,304.67 54.3,304.71 55,304.75 55.7,304.79 56.4,304.83 57.1,304.87 57.8,304.92 58.5,304.96 59.2,305 59.9,305.04 60.6,305.08 61.3,305.12 62,305.16 62.7,305.21 63.4,305.25 64.1,305.29 64.8,305.33 65.5,305.37 66.2,305.41 66.9,305.46 67.6,305.5 68.3,305.54 69,305.58 69.7,305.62 70.4,305.66 71.1,305.71 71.8,305.75 72.5,305.79 73.2,305.83 73.9,305.87 74.6,305.91 75.3,305.95 76,306 76.7,306.04 77.4,306.08 78.1,306.12 78.8,306.16 79.5,306.2 80.2,306.24 80.9,306.28 81.6,306.31 82.3,306.35 83,306.37 83.7,306.39 84.4,306.4 85.1,306.38 85.8,306.34 86.5,306.27 87.2,306.14 87.9,305.96 88.6,305.69 89.3,305.31 90,304.82 90.7,304.18 91.4,303.37 92.1,302.38 92.8,301.21 93.5,299.85 94.2,298.32 94.9,296.64 95.6,294.86 96.3,293.03 97,291.22 97.7,289.51 98.4,287.98 99.1,286.7 99.8,285.74 100.5,285.16 101.2,284.99 101.9,285.25 102.6,285.91 103.3,286.95 104,288.31 104.7,289.93 105.4,291.72 106.1,293.61 106.8,295.52 107.5,297.39 108.2,299.15 108.9,300.77 109.6,302.21 110.3,303.46 111,304.53 111.7,305.42 112.4,306.15 113.1,306.73 113.8,307.18 114.5,307.54 115.2,307.81 115.9,308.01 116.6,308.17 117.3,308.3 118,308.39 118.7,308.47 119.4,308.54 120.1,308.59 120.8,308.64 121.5,308.69 122.2,308.74 122.9,308.78 123.6,308.82 124.3,308.86 125,308.91 125.7,308.95 126.4,308.99 127.1,309.03 127.8,309.07 128.5,309.11 129.2,309.16 129.9,309.2 130.6,309.24 131.3,309.28 132,309.32 132.7,309.36 133.4,309.4 134.1,309.45 134.8,309.49 135.5,309.58 136.2,309.68 136.9,309.79 137.6,309.9 138.3,310 139,310.11 139.7,310.21 140.4,310.32 141.1,310.43 141.8,310.53 142.5,310.64 143.2,310.75 143.9,310.85 144.6,310.96 145.3,311.07 146,311.17 146.7,311.28 147.4,311.38 148.1,311.49 148.8,311.6 149.5,311.7 150.2,311.81 150.9,311.92 151.6,312.02 152.3,312.13 153,312.24 153.7,312.34 154.4,312.45 155.1,312.56" fill="none" stroke="#8a2be2" stroke-width="1.2" stroke-linejoin="round" stroke-linecap="round" />
<polyline points="52.2,304.53 52.9,304.57 53.6,304.61 54.3,304.65 55,304.69 55.7,304.73 56.4,304.77 57.1,304.81 57.8,304.85 58.5,304.89 59.2,304.93 59.9,304.97 60.6,305.01 61.3,305.05 62,305.09 62.7,305.13 63.4,305.17 64.1,305.21 64.8,305.25 65.5,305.29 66.2,305.33 66.9,305.37 67.6,305.4 68.3,305.44 69,305.48 69.7,305.52 70.4,305.56 71.1,305.6 71.8,305.63 72.5,305.67 73.2,305.71 73.9,305.74 74.6,305.78 75.3,305.82 76,305.85 76.7,305.89 77.4,305.93 78.1,305.96 78.8,306 79.5,306.03 80.2,306.06 80.9,306.1 81.6,306.13 82.3,306.16 83,306.19 83.7,306.22 84.4,306.25 85.1,306.28 85.8,306.31 86.5,306.33 87.2,306.35 87.9,306.37 88.6,306.39 89.3,306.4 90,306.4 90.7,306.38 91.4,306.36 92.1,306.31 92.8,306.22 93.5,306.1 94.2,305.92 94.9,305.67 95.6,305.32 96.3,304.86 97,304.26 97.7,303.49 98.4,302.51 99.1,301.31 99.8,299.86 100.5,298.14 101.2,296.15 101.9,293.88 102.6,291.35 103.3,288.61 104,285.71 104.7,282.71 105.4,279.71 106.1,276.81 106.8,274.12 107.5,271.75 108.2,269.82 108.9,268.43 109.6,267.66 110.3,267.56 111,268.13 111.7,269.35 112.4,271.14 113.1,273.41 113.8,276.06 114.5,278.97 115.2,282.03 115.9,285.12 116.6,288.16 117.3,291.06 118,293.76 118.7,296.23 119.4,298.42 120.1,300.35 120.8,301.99 121.5,303.38 122.2,304.53 122.9,305.47 123.6,306.23 124.3,306.83 125,307.3 125.7,307.68 126.4,307.97 127.1,308.2 127.8,308.38 128.5,308.52 129.2,308.64 129.9,308.74 130.6,308.83 131.3,308.91 132,308.98 132.7,309.05 133.4,309.11 134.1,309.17 134.8,309.22 135.5,309.33 136.2,309.45 136.9,309.56 137.6,309.68 138.3,309.8 139,309.91 139.7,310.03 140.4,310.14 141.1,310.26 141.8,310.37 142.5,310.48 143.2,310.6 143.9,310.71 144.6,310.82 145.3,310.93 146,311.04 146.7,311.15 147.4,311.27 148.1,311.38 148.8,311.49 149.5,311.6 150.2,311.71 150.9,311.82 151.6,311.93 152.3,312.04 153,312.15 153.7,312.25 154.4,312.36 155.1,312.47 155.8,312.58 156.5,312.69 157.2,312.8 157.9,312.91 158.6,313.02 159.3,313.12 160,313.23 160.7,313.26 161.4,313.29 162.1,313.31 162.8,313.34 163.5,313.37 164.2,313.4 164.9,313.42 165.6,313.45 166.3,313.48 167,313.5 167.7,313.53 168.4,313.56" fill="none" stroke="#b08a18" stroke-width="1.2" stroke-linejoin="round" stroke-linecap="round" />
<polyline points="80.9,306.04 81.6,306.08 82.3,306.11 83,306.15 83.7,306.19 84.4,306.22 85.1,306.26 85.8,306.29 86.5,306.33 87.2,306.36 87.9,306.4 88.6,306.43 89.3,306.47 90,306.5 90.7,306.54 91.4,306.57 92.1,306.6 92.8,306.64 93.5,306.67 94.2,306.7 94.9,306.73 95.6,306.77 96.3,306.8 97,306.83 97.7,306.86 98.4,306.89 99.1,306.92 99.8,306.95 100.5,306.98 101.2,307.01 101.9,307.03 102.6,307.06 103.3,307.09 104,307.11 104.7,307.14 105.4,307.16 106.1,307.19 106.8,307.21 107.5,307.23 108.2,307.25 108.9,307.27 109.6,307.29 110.3,307.31 111,307.32 111.7,307.34 112.4,307.35 113.1,307.36 113.8,307.37 114.5,307.38 115.2,307.39 115.9,307.4 116.6,307.4 117.3,307.4 118,307.4 118.7,307.39 119.4,307.38 120.1,307.37 120.8,307.36 121.5,307.34 122.2,307.31 122.9,307.28 123.6,307.25 124.3,307.2 125,307.15 125.7,307.08 126.4,307.01 127.1,306.91 127.8,306.79 128.5,306.65 129.2,306.47 129.9,306.25 130.6,305.98 131.3,305.65 132,305.24 132.7,304.73 133.4,304.1 134.1,303.35 134.8,302.43 135.5,301.38 136.2,300.14 136.9,298.67 137.6,296.95 138.3,294.96 139,292.68 139.7,290.11 140.4,287.24 141.1,284.1 141.8,280.7 142.5,277.07 143.2,273.26 143.9,269.33 144.6,265.37 145.3,261.45 146,257.69 146.7,254.21 147.4,251.12 148.1,248.57 148.8,246.67 149.5,245.53 150.2,245.21 150.9,245.74 151.6,247.1 152.3,249.21 153,251.98 153.7,255.27 154.4,258.97 155.1,262.94 155.8,267.07 156.5,271.25 157.2,275.39 157.9,279.41 158.6,283.25 159.3,286.87 160,290.22 160.7,293.22 161.4,295.92 162.1,298.33 162.8,300.46 163.5,302.31 164.2,303.91 164.9,305.28 165.6,306.45 166.3,307.43 167,308.26 167.7,308.95 168.4,309.52 169.1,310 169.8,310.4 170.5,310.74 171.2,311.03 171.9,311.27 172.6,311.48 173.3,311.67 174,311.83 174.7,311.97 175.4,312.11 176.1,312.23 176.8,312.34 177.5,312.44 178.2,312.54 178.9,312.63 179.6,312.72 180.3,312.8 181,312.88 181.7,312.95 182.4,313.03 183.1,313.09 183.8,313.16 184.5,313.23 185.2,313.29 185.9,313.35 186.6,313.41 187.3,313.46 188,313.52 188.7,313.57 189.4,313.62 190.1,313.67 190.8,313.72 191.5,313.77 192.2,313.82 192.9,313.87 193.6,313.91 194.3,313.96 195,314 195.7,314.04 196.4,314.08 197.1,314.13 197.8,314.17 198.5,314.21 199.2,314.25 199.9,314.29 200.6,314.32 201.3,314.36 202,314.4 202.7,314.44 203.4,314.47 204.1,314.51 204.8,314.54 205.5,314.58 206.2,314.61 206.9,314.65 207.6,314.68 208.3,314.72 209,314.75 209.7,314.78 210.4,314.82 211.1,314.85 211.8,314.88 212.5,314.92 213.2,314.95 213.9,314.98 214.6,315.01 215.3,315.04 216,315.08 216.7,315.11 217.4,315.14 218.1,315.17 218.8,315.2 219.5,315.23" fill="none" stroke="#2a8656" stroke-width="1.6" stroke-linejoin="round" stroke-linecap="round" />
<polyline points="31.2,402.52 31.9,402.54 32.6,402.55 33.3,402.57 34,402.59 34.7,402.61 35.4,402.63 36.1,402.65 36.8,402.67 37.5,402.69 38.2,402.71 38.9,402.73 39.6,402.75 40.3,402.77 41,402.79 41.7,402.8 42.4,402.82 43.1,402.84 43.8,402.86 44.5,402.88 45.2,402.9 45.9,402.92 46.6,402.94 47.3,402.96 48,402.98 48.7,403 49.4,403.02 50.1,403.04 50.8,403.05 51.5,403.07 52.2,403.09 52.9,403.11 53.6,403.13 54.3,403.15 55,403.17 55.7,403.19 56.4,403.21 57.1,403.23 57.8,403.25 58.5,403.27 59.2,403.28 59.9,403.3 60.6,403.32 61.3,403.34 62,403.36 62.7,403.38 63.4,403.4 64.1,403.42 64.8,403.44 65.5,403.46 66.2,403.48 66.9,403.5 67.6,403.52 68.3,403.53 69,403.55 69.7,403.57 70.4,403.59 71.1,403.61 71.8,403.63 72.5,403.65 73.2,403.67 73.9,403.69 74.6,403.71 75.3,403.73 76,403.75 76.7,403.76 77.4,403.78 78.1,403.8 78.8,403.82 79.5,403.84 80.2,403.86 80.9,403.88 81.6,403.9 82.3,403.92 83,403.94 83.7,403.96 84.4,403.98 85.1,404 85.8,404.01 86.5,404.03 87.2,404.05 87.9,404.07 88.6,404.09 89.3,404.11 90,404.13 90.7,404.15 91.4,404.17 92.1,404.19 92.8,404.21 93.5,404.23 94.2,404.24 94.9,404.26 95.6,404.28 96.3,404.3 97,404.32 97.7,404.34 98.4,404.36 99.1,404.38 99.8,404.4 100.5,404.42 101.2,404.44 101.9,404.46 102.6,404.48 103.3,404.49 104,404.51 104.7,404.53 105.4,404.55 106.1,404.57 106.8,404.59 107.5,404.61 108.2,404.63 108.9,404.65 109.6,404.67 110.3,404.69 111,404.71 111.7,404.73 112.4,404.74 113.1,404.76 113.8,404.78 114.5,404.8 115.2,404.82 115.9,404.84 116.6,404.86 117.3,404.88 118,404.9 118.7,404.92 119.4,404.94 120.1,404.96 120.8,404.97 121.5,404.99 122.2,405.01 122.9,405.03 123.6,405.05 124.3,405.07 125,405.09 125.7,405.11 126.4,405.13 127.1,405.15 127.8,405.17 128.5,405.19 129.2,405.21 129.9,405.22 130.6,405.24 131.3,405.26 132,405.28 132.7,405.3 133.4,405.32 134.1,405.34 134.8,405.36 135.5,405.38 136.2,405.4 136.9,405.42 137.6,405.44 138.3,405.45 139,405.47 139.7,405.49 140.4,405.51 141.1,405.53 141.8,405.55 142.5,405.57 143.2,405.59 143.9,405.61 144.6,405.63 145.3,405.65 146,405.67 146.7,405.69 147.4,405.7 148.1,405.72 148.8,405.74 149.5,405.76 150.2,405.78 150.9,405.8 151.6,405.82 152.3,405.84 153,405.86 153.7,405.88 154.4,405.9 155.1,405.92 155.8,405.94 156.5,405.95 157.2,405.97 157.9,405.99 158.6,406.01 159.3,406.03 160,406.05 160.7,406.07 161.4,406.09 162.1,406.11 162.8,406.13 163.5,406.15 164.2,406.17 164.9,406.18 165.6,406.2 166.3,406.22 167,406.24 167.7,406.26 168.4,406.28 169.1,406.3 169.8,406.32 170.5,406.34 171.2,406.36 171.9,406.38 172.6,406.4 173.3,406.42 174,406.43 174.7,406.45 175.4,406.47 176.1,406.49 176.8,406.51 177.5,406.53 178.2,406.55 178.9,406.57 179.6,406.59 180.3,406.61 181,406.63 181.7,406.65 182.4,406.66 183.1,406.68 183.8,406.7 184.5,406.72 185.2,406.74 185.9,406.76 186.6,406.78 187.3,406.8 188,406.82 188.7,406.84 189.4,406.86 190.1,406.88 190.8,406.9 191.5,406.91 192.2,406.93 192.9,406.95 193.6,406.97 194.3,406.99 195,407.01 195.7,407.03 196.4,407.05 197.1,407.07 197.8,407.09 198.5,407.11 199.2,407.13 199.9,407.14 200.6,407.16 201.3,407.18 202,407.2 202.7,407.22 203.4,407.24 204.1,407.26 204.8,407.28 205.5,407.3 206.2,407.32 206.9,407.34 207.6,407.36 208.3,407.38 209,407.39 209.7,407.41 210.4,407.43 211.1,407.45 211.8,407.47 212.5,407.49 213.2,407.51 213.9,407.53 214.6,407.55 215.3,407.57 216,407.59 216.7,407.61 217.4,407.63 218.1,407.64 218.8,407.66 219.5,407.68 220.2,407.7 220.9,407.72 221.6,407.74 222.3,407.76 223,407.78 223.7,407.8 224.4,407.82 225.1,407.84 225.8,407.86 226.5,407.87 227.2,407.89 227.9,407.91 228.6,407.93 229.3,407.95 230,407.97 230.7,407.99 231.4,408.01 232.1,408.03 232.8,408.05 233.5,408.07 234.2,408.09 234.9,408.11 235.6,408.12 236.3,408.14 237,408.16 237.7,408.18 238.4,408.2 239.1,408.22 239.8,408.24 240.5,408.26 241.2,408.28" fill="none" stroke="#8a7a20" stroke-width="1.1" stroke-linejoin="round" stroke-linecap="round" />
<polyline points="31.2,401.67 31.9,401.5 32.6,401.49 33.3,401.33 34,400.83 34.7,401.21 35.4,401.37 36.1,401.02 36.8,401.3 37.5,400.84 38.2,401.02 38.9,400.72 39.6,401.2 40.3,400.24 41,400.76 41.7,400.77 42.4,400.91 43.1,401.04 43.8,401.04 44.5,400.82 45.2,400.94 45.9,400.63 46.6,400.87 47.3,400.47 48,400.34 48.7,400.72 49.4,400.2 50.1,400.52 50.8,400.13 51.5,400.27 52.2,400.06 52.9,400.56 53.6,400.3 54.3,399.88 55,400.36 55.7,400.69 56.4,400.64 57.1,400.76 57.8,400.64 58.5,400.2 59.2,399.76 59.9,400.18 60.6,399.98 61.3,400.08 62,400.05 62.7,400.09 63.4,400.1 64.1,399.95 64.8,400.37 65.5,399.83 66.2,399.87 66.9,400.17 67.6,399.94 68.3,400.33 69,400.31 69.7,400.16 70.4,400.27 71.1,400.35 71.8,400.43 72.5,400.41 73.2,400.05 73.9,400.78 74.6,400.2 75.3,400.34 76,400.08 76.7,400.09 77.4,400.85 78.1,399.93 78.8,399.87 79.5,399.79 80.2,399.71 80.9,399.12 81.6,399.12 82.3,398.17 83,398.04 83.7,397.11 84.4,397.21 85.1,396.74 85.8,395.31 86.5,394.35 87.2,393.51 87.9,392.71 88.6,391.07 89.3,389.24 90,387.65 90.7,385.6 91.4,383.35 92.1,381.04 92.8,378.26 93.5,375.66 94.2,371.97 94.9,369.67 95.6,366.71 96.3,364.61 97,362.08 97.7,361.18 98.4,359.56 99.1,359.58 99.8,359.55 100.5,361.6 101.2,363.07 101.9,365.31 102.6,367.77 103.3,371.11 104,374.02 104.7,377.64 105.4,380.31 106.1,382.85 106.8,385.35 107.5,388.14 108.2,389.76 108.9,391.77 109.6,393.9 110.3,395.93 111,396.98 111.7,397.73 112.4,398.07 113.1,398.93 113.8,400.05 114.5,399.98 115.2,399.83 115.9,400.56 116.6,400.83 117.3,400.24 118,400.81 118.7,400.98 119.4,400.78 120.1,400.83 120.8,400.89 121.5,400.4 122.2,400.3 122.9,400.21 123.6,400.24 124.3,399.66 125,399.62 125.7,399.06 126.4,398.37 127.1,397.72 127.8,396.59 128.5,395.8 129.2,394.95 129.9,393.1 130.6,390.39 131.3,388.31 132,385.18 132.7,382.06 133.4,377.69 134.1,373.66 134.8,368.41 135.5,363.77 136.2,358 136.9,352.69 137.6,347.75 138.3,342.41 139,338.7 139.7,335.45 140.4,333.11 141.1,332.93 141.8,333.92 142.5,336.26 143.2,340.02 143.9,344 144.6,349.2 145.3,354.78 146,360.27 146.7,365.49 147.4,370.26 148.1,375.21 148.8,379.85 149.5,383.35 150.2,386.9 150.9,389.78 151.6,391.67 152.3,394.24 153,395.89 153.7,397.58 154.4,398.48 155.1,398.84 155.8,399.75 156.5,399.93 157.2,400.68 157.9,400.83 158.6,400.63 159.3,400.51 160,400.73 160.7,400.54 161.4,400.31 162.1,400.32 162.8,400.62 163.5,400.17 164.2,399.71 164.9,399.65 165.6,399.07 166.3,399.19 167,398.58 167.7,397.8 168.4,398.02 169.1,397.26 169.8,396.5 170.5,396.44 171.2,395.51 171.9,395.25 172.6,394.66 173.3,394.22 174,393.71 174.7,393.53 175.4,393.05 176.1,392.95 176.8,392.44 177.5,391.98 178.2,392.25 178.9,392.21 179.6,392.56 180.3,392.16 181,392.66 181.7,392.86 182.4,392.75 183.1,393.14 183.8,393.24 184.5,393.53 185.2,394.43 185.9,394.7 186.6,394.75 187.3,395.42 188,395.97 188.7,396.32 189.4,397.29 190.1,397.48 190.8,397.78 191.5,398.2 192.2,399.28 192.9,399.6 193.6,399.88 194.3,400.47 195,400.9 195.7,401.01 196.4,401.64 197.1,402.35 197.8,402.14 198.5,402.65 199.2,403.03 199.9,403.52 200.6,403.14 201.3,404.2 202,404.3 202.7,404.17 203.4,404.01 204.1,404.19 204.8,404.99 205.5,404.93 206.2,405.43 206.9,404.96 207.6,405.73 208.3,405.53 209,405.37 209.7,405.81 210.4,405.5 211.1,406.19 211.8,405.99 212.5,405.96 213.2,406.29 213.9,405.99 214.6,406.28 215.3,406.9 216,405.56 216.7,406.45 217.4,406.65 218.1,407.07 218.8,406.75 219.5,406.94 220.2,406.7 220.9,406.81 221.6,406.48 222.3,406.94 223,406.88 223.7,406.95 224.4,407.11 225.1,407.15 225.8,406.86 226.5,406.96 227.2,407.34 227.9,407.49 228.6,407.25 229.3,406.97 230,407.29 230.7,406.87 231.4,407.52 232.1,407.32 232.8,408 233.5,407.54 234.2,407.5 234.9,407.31 235.6,407.03 236.3,407.47 237,407.14 237.7,407.36 238.4,407.3 239.1,407.69 239.8,407.24 240.5,407.88 241.2,407.51" fill="none" stroke="#2a2a2a" stroke-width="1.25" stroke-linejoin="round" stroke-linecap="round" />
<polyline points="36.1,401.17 36.8,401.15 37.5,401.12 38.2,401.09 38.9,401.06 39.6,401.03 40.3,401 41,400.97 41.7,400.93 42.4,400.9 43.1,400.86 43.8,400.82 44.5,400.78 45.2,400.74 45.9,400.7 46.6,400.66 47.3,400.62 48,400.58 48.7,400.54 49.4,400.5 50.1,400.46 50.8,400.42 51.5,400.38 52.2,400.34 52.9,400.31 53.6,400.27 54.3,400.24 55,400.21 55.7,400.18 56.4,400.16 57.1,400.13 57.8,400.11 58.5,400.09 59.2,400.08 59.9,400.07 60.6,400.06 61.3,400.05 62,400.05 62.7,400.05 63.4,400.06 64.1,400.06 64.8,400.07 65.5,400.09 66.2,400.1 66.9,400.12 67.6,400.14 68.3,400.16 69,400.18 69.7,400.2 70.4,400.22 71.1,400.24 71.8,400.26 72.5,400.27 73.2,400.29 73.9,400.29 74.6,400.29 75.3,400.28 76,400.26 76.7,400.22 77.4,400.16 78.1,400.07 78.8,399.95 79.5,399.79 80.2,399.59 80.9,399.33 81.6,399.02 82.3,398.63 83,398.18 83.7,397.64 84.4,397.02 85.1,396.3 85.8,395.49 86.5,394.57 87.2,393.52 87.9,392.33 88.6,390.96 89.3,389.4 90,387.6 90.7,385.57 91.4,383.3 92.1,380.81 92.8,378.13 93.5,375.3 94.2,372.42 94.9,369.55 95.6,366.82 96.3,364.35 97,362.27 97.7,360.71 98.4,359.79 99.1,359.57 99.8,360.07 100.5,361.28 101.2,363.09 101.9,365.4 102.6,368.08 103.3,371 104,374.05 104.7,377.11 105.4,380.1 106.1,382.96 106.8,385.63 107.5,388.07 108.2,390.27 108.9,392.21 109.6,393.89 110.3,395.33 111,396.53 111.7,397.53 112.4,398.35 113.1,399 113.8,399.52 114.5,399.93 115.2,400.24 115.9,400.47 116.6,400.64 117.3,400.75 118,400.83 118.7,400.86 119.4,400.87 120.1,400.84 120.8,400.78 121.5,400.7 122.2,400.58 122.9,400.42 123.6,400.21 124.3,399.95 125,399.61 125.7,399.18 126.4,398.62 127.1,397.92 127.8,397.03 128.5,395.92 129.2,394.53 129.9,392.81 130.6,390.73 131.3,388.23 132,385.28 132.7,381.85 133.4,377.94 134.1,373.57 134.8,368.77 135.5,363.64 136.2,358.28 136.9,352.86 137.6,347.57 138.3,342.68 139,338.47 139.7,335.25 140.4,333.29 141.1,332.78 141.8,333.78 142.5,336.18 143.2,339.78 143.9,344.28 144.6,349.37 145.3,354.78 146,360.27 146.7,365.64 147.4,370.75 148.1,375.49 148.8,379.8 149.5,383.64" fill="none" stroke="#d42020" stroke-width="1.9" stroke-linejoin="round" stroke-linecap="round" />
<polyline points="31.2,401.52 31.9,401.51 32.6,401.5 33.3,401.49 34,401.47 34.7,401.46 35.4,401.44 36.1,401.42 36.8,401.4 37.5,401.38 38.2,401.36 38.9,401.33 39.6,401.31 40.3,401.28 41,401.25 41.7,401.23 42.4,401.2 43.1,401.17 43.8,401.13 44.5,401.1 45.2,401.07 45.9,401.04 46.6,401 47.3,400.97 48,400.94 48.7,400.91 49.4,400.87 50.1,400.84 50.8,400.81 51.5,400.78 52.2,400.76 52.9,400.73 53.6,400.71 54.3,400.69 55,400.67 55.7,400.65 56.4,400.64 57.1,400.63 57.8,400.62 58.5,400.62 59.2,400.62 59.9,400.62 60.6,400.63 61.3,400.64 62,400.66 62.7,400.68 63.4,400.71 64.1,400.74 64.8,400.77 65.5,400.81 66.2,400.85 66.9,400.9 67.6,400.94 68.3,401 69,401.05 69.7,401.11 70.4,401.17 71.1,401.23 71.8,401.29 72.5,401.36 73.2,401.43 73.9,401.5 74.6,401.57 75.3,401.64 76,401.71 76.7,401.78 77.4,401.85 78.1,401.92 78.8,401.99 79.5,402.06 80.2,402.13 80.9,402.2 81.6,402.27 82.3,402.34 83,402.41 83.7,402.47 84.4,402.54 85.1,402.6 85.8,402.66 86.5,402.73 87.2,402.79 87.9,402.84 88.6,402.9 89.3,402.96 90,403.01 90.7,403.06 91.4,403.11 92.1,403.16 92.8,403.21 93.5,403.26 94.2,403.31 94.9,403.35 95.6,403.39 96.3,403.43 97,403.47 97.7,403.51 98.4,403.55 99.1,403.59 99.8,403.62 100.5,403.66 101.2,403.69 101.9,403.73 102.6,403.76 103.3,403.79 104,403.82 104.7,403.85 105.4,403.88 106.1,403.91 106.8,403.93 107.5,403.96 108.2,403.99 108.9,404.01 109.6,404.04 110.3,404.06 111,404.09 111.7,404.11 112.4,404.14 113.1,404.16 113.8,404.18 114.5,404.21 115.2,404.23 115.9,404.25 116.6,404.27 117.3,404.29 118,404.32 118.7,404.34 119.4,404.36 120.1,404.38 120.8,404.4 121.5,404.42 122.2,404.44 122.9,404.47 123.6,404.49 124.3,404.51 125,404.53 125.7,404.55 126.4,404.57 127.1,404.59 127.8,404.61 128.5,404.63 129.2,404.65 129.9,404.67 130.6,404.69 131.3,404.71 132,404.73 132.7,404.75 133.4,404.77 134.1,404.79 134.8,404.81 135.5,404.83 136.2,404.85 136.9,404.87 137.6,404.89 138.3,404.91 139,404.93 139.7,404.95 140.4,404.97 141.1,404.99 141.8,405.01 142.5,405.03 143.2,405.05 143.9,405.07 144.6,405.09 145.3,405.11 146,405.13 146.7,405.15 147.4,405.17 148.1,405.19 148.8,405.21 149.5,405.23 150.2,405.25 150.9,405.27 151.6,405.29 152.3,405.31 153,405.33 153.7,405.35 154.4,405.37 155.1,405.39 155.8,405.41 156.5,405.43 157.2,405.45 157.9,405.47 158.6,405.48 159.3,405.5 160,405.52 160.7,405.54 161.4,405.56 162.1,405.58 162.8,405.6 163.5,405.62 164.2,405.64 164.9,405.66 165.6,405.68 166.3,405.7 167,405.72 167.7,405.74 168.4,405.76 169.1,405.78 169.8,405.8 170.5,405.82 171.2,405.84 171.9,405.86 172.6,405.88 173.3,405.89 174,405.91 174.7,405.93 175.4,405.95 176.1,405.97 176.8,405.99 177.5,406.01 178.2,406.03 178.9,406.05 179.6,406.07 180.3,406.09 181,406.11 181.7,406.13 182.4,406.15 183.1,406.17 183.8,406.19 184.5,406.21 185.2,406.22 185.9,406.24 186.6,406.26 187.3,406.28 188,406.3 188.7,406.32 189.4,406.34 190.1,406.36 190.8,406.38 191.5,406.4 192.2,406.42 192.9,406.44 193.6,406.46 194.3,406.48 195,406.5 195.7,406.52 196.4,406.53 197.1,406.55 197.8,406.57 198.5,406.59 199.2,406.61 199.9,406.63 200.6,406.65 201.3,406.67 202,406.69 202.7,406.71 203.4,406.73 204.1,406.75 204.8,406.77 205.5,406.79 206.2,406.81 206.9,406.82 207.6,406.84 208.3,406.86 209,406.88 209.7,406.9 210.4,406.92 211.1,406.94 211.8,406.96 212.5,406.98 213.2,407 213.9,407.02 214.6,407.04 215.3,407.06 216,407.08 216.7,407.1 217.4,407.11 218.1,407.13 218.8,407.15 219.5,407.17 220.2,407.19 220.9,407.21 221.6,407.23 222.3,407.25 223,407.27 223.7,407.29 224.4,407.31 225.1,407.33 225.8,407.35 226.5,407.37 227.2,407.38 227.9,407.4 228.6,407.42 229.3,407.44 230,407.46 230.7,407.48 231.4,407.5 232.1,407.52 232.8,407.54 233.5,407.56 234.2,407.58 234.9,407.6 235.6,407.62 236.3,407.64 237,407.65 237.7,407.67 238.4,407.69 239.1,407.71 239.8,407.73 240.5,407.75 241.2,407.77" fill="none" stroke="#8a7a20" stroke-width="1.2" stroke-linejoin="round" stroke-linecap="round" />
<polyline points="42.4,402.32 43.1,402.33 43.8,402.35 44.5,402.37 45.2,402.39 45.9,402.41 46.6,402.43 47.3,402.45 48,402.47 48.7,402.49 49.4,402.5 50.1,402.52 50.8,402.54 51.5,402.56 52.2,402.58 52.9,402.6 53.6,402.62 54.3,402.64 55,402.65 55.7,402.67 56.4,402.69 57.1,402.71 57.8,402.73 58.5,402.75 59.2,402.76 59.9,402.78 60.6,402.8 61.3,402.82 62,402.84 62.7,402.85 63.4,402.87 64.1,402.89 64.8,402.91 65.5,402.92 66.2,402.94 66.9,402.96 67.6,402.97 68.3,402.99 69,403.01 69.7,403.02 70.4,403.04 71.1,403.05 71.8,403.06 72.5,403.07 73.2,403.08 73.9,403.09 74.6,403.09 75.3,403.09 76,403.08 76.7,403.06 77.4,403.02 78.1,402.97 78.8,402.9 79.5,402.81 80.2,402.7 80.9,402.57 81.6,402.41 82.3,402.23 83,402.05 83.7,401.86 84.4,401.68 85.1,401.53 85.8,401.41 86.5,401.35 87.2,401.36 87.9,401.43 88.6,401.56 89.3,401.74 90,401.94 90.7,402.17 91.4,402.4 92.1,402.62 92.8,402.82 93.5,403 94.2,403.16 94.9,403.3 95.6,403.42 96.3,403.51 97,403.59 97.7,403.66 98.4,403.71 99.1,403.76 99.8,403.79 100.5,403.83 101.2,403.86 101.9,403.89 102.6,403.91 103.3,403.94 104,403.96 104.7,403.98 105.4,404.01 106.1,404.03 106.8,404.05 107.5,404.07 108.2,404.09 108.9,404.12 109.6,404.14 110.3,404.16 111,404.18 111.7,404.2 112.4,404.22 113.1,404.24 113.8,404.26 114.5,404.28 115.2,404.3 115.9,404.32 116.6,404.34 117.3,404.36 118,404.38 118.7,404.4 119.4,404.42 120.1,404.44 120.8,404.46 121.5,404.48 122.2,404.5 122.9,404.52 123.6,404.54 124.3,404.56 125,404.58 125.7,404.6 126.4,404.62 127.1,404.64 127.8,404.66 128.5,404.68 129.2,404.7 129.9,404.72 130.6,404.74 131.3,404.75 132,404.77" fill="none" stroke="#5a3028" stroke-width="1.2" stroke-linejoin="round" stroke-linecap="round" />
<polyline points="38.9,402.07 39.6,402.08 40.3,402.1 41,402.11 41.7,402.13 42.4,402.14 43.1,402.16 43.8,402.17 44.5,402.19 45.2,402.2 45.9,402.22 46.6,402.23 47.3,402.24 48,402.26 48.7,402.27 49.4,402.28 50.1,402.3 50.8,402.31 51.5,402.32 52.2,402.33 52.9,402.34 53.6,402.35 54.3,402.36 55,402.38 55.7,402.38 56.4,402.39 57.1,402.4 57.8,402.41 58.5,402.42 59.2,402.43 59.9,402.43 60.6,402.44 61.3,402.44 62,402.45 62.7,402.45 63.4,402.46 64.1,402.46 64.8,402.46 65.5,402.46 66.2,402.46 66.9,402.45 67.6,402.45 68.3,402.44 69,402.44 69.7,402.43 70.4,402.42 71.1,402.4 71.8,402.39 72.5,402.37 73.2,402.35 73.9,402.32 74.6,402.29 75.3,402.26 76,402.22 76.7,402.18 77.4,402.12 78.1,402.06 78.8,401.98 79.5,401.88 80.2,401.77 80.9,401.62 81.6,401.44 82.3,401.21 83,400.92 83.7,400.55 84.4,400.09 85.1,399.51 85.8,398.8 86.5,397.92 87.2,396.86 87.9,395.58 88.6,394.08 89.3,392.32 90,390.32 90.7,388.06 91.4,385.56 92.1,382.85 92.8,379.97 93.5,376.97 94.2,373.92 94.9,370.93 95.6,368.1 96.3,365.54 97,363.4 97.7,361.79 98.4,360.83 99.1,360.59 99.8,361.08 100.5,362.27 101.2,364.08 101.9,366.4 102.6,369.08 103.3,372.01 104,375.07 104.7,378.14 105.4,381.16 106.1,384.04 106.8,386.73 107.5,389.2 108.2,391.42 108.9,393.39 109.6,395.11 110.3,396.59 111,397.84 111.7,398.88 112.4,399.75 113.1,400.46 113.8,401.04 114.5,401.51 115.2,401.9 115.9,402.21 116.6,402.46 117.3,402.67 118,402.85 118.7,402.99 119.4,403.12 120.1,403.23 120.8,403.33 121.5,403.42 122.2,403.51 122.9,403.58 123.6,403.65 124.3,403.72 125,403.78 125.7,403.84 126.4,403.9 127.1,403.95 127.8,404 128.5,404.05 129.2,404.1 129.9,404.14 130.6,404.18 131.3,404.23 132,404.27 132.7,404.31 133.4,404.35 134.1,404.38 134.8,404.42 135.5,404.45 136.2,404.49 136.9,404.52 137.6,404.56 138.3,404.59 139,404.62 139.7,404.65 140.4,404.68 141.1,404.71 141.8,404.74 142.5,404.77 143.2,404.8 143.9,404.83 144.6,404.85 145.3,404.88 146,404.91 146.7,404.93 147.4,404.96 148.1,404.99 148.8,405.01 149.5,405.04 150.2,405.06 150.9,405.09 151.6,405.11 152.3,405.14 153,405.16 153.7,405.19 154.4,405.21 155.1,405.23 155.8,405.26 156.5,405.28 157.2,405.3 157.9,405.33 158.6,405.35 159.3,405.37" fill="none" stroke="#b08a18" stroke-width="1.2" stroke-linejoin="round" stroke-linecap="round" />
<polyline points="85.8,403.16 86.5,403.17 87.2,403.18 87.9,403.19 88.6,403.2 89.3,403.21 90,403.22 90.7,403.23 91.4,403.23 92.1,403.24 92.8,403.25 93.5,403.25 94.2,403.26 94.9,403.26 95.6,403.27 96.3,403.27 97,403.27 97.7,403.27 98.4,403.27 99.1,403.27 99.8,403.27 100.5,403.27 101.2,403.27 101.9,403.26 102.6,403.26 103.3,403.25 104,403.24 104.7,403.23 105.4,403.22 106.1,403.21 106.8,403.19 107.5,403.17 108.2,403.15 108.9,403.13 109.6,403.1 110.3,403.08 111,403.05 111.7,403.01 112.4,402.97 113.1,402.93 113.8,402.88 114.5,402.83 115.2,402.77 115.9,402.71 116.6,402.64 117.3,402.56 118,402.48 118.7,402.38 119.4,402.27 120.1,402.15 120.8,402.01 121.5,401.85 122.2,401.67 122.9,401.45 123.6,401.19 124.3,400.88 125,400.49 125.7,400.02 126.4,399.43 127.1,398.69 127.8,397.77 128.5,396.62 129.2,395.2 129.9,393.46 130.6,391.35 131.3,388.82 132,385.85 132.7,382.4 133.4,378.47 134.1,374.08 134.8,369.27 135.5,364.12 136.2,358.74 136.9,353.3 137.6,348 138.3,343.1 139,338.87 139.7,335.64 140.4,333.67 141.1,333.15 141.8,334.13 142.5,336.53 143.2,340.11 143.9,344.6 144.6,349.69 145.3,355.09 146,360.57 146.7,365.93 147.4,371.03 148.1,375.77 148.8,380.07 149.5,383.9 150.2,387.25 150.9,390.13 151.6,392.57 152.3,394.61 153,396.29 153.7,397.67 154.4,398.79 155.1,399.69 155.8,400.42 156.5,401.01 157.2,401.5 157.9,401.9 158.6,402.23 159.3,402.52 160,402.76 160.7,402.98 161.4,403.17 162.1,403.34 162.8,403.5 163.5,403.64 164.2,403.77 164.9,403.9 165.6,404.01 166.3,404.12 167,404.22 167.7,404.31 168.4,404.4 169.1,404.49 169.8,404.56 170.5,404.64 171.2,404.71 171.9,404.78 172.6,404.85 173.3,404.91 174,404.97 174.7,405.03 175.4,405.08 176.1,405.14 176.8,405.19 177.5,405.24 178.2,405.28 178.9,405.33 179.6,405.38 180.3,405.42 181,405.46 181.7,405.5 182.4,405.54 183.1,405.58 183.8,405.62 184.5,405.66 185.2,405.7 185.9,405.73 186.6,405.77 187.3,405.8 188,405.83 188.7,405.87 189.4,405.9 190.1,405.93 190.8,405.96 191.5,405.99 192.2,406.02 192.9,406.05 193.6,406.08 194.3,406.11 195,406.14 195.7,406.17" fill="none" stroke="#2a8656" stroke-width="1.6" stroke-linejoin="round" stroke-linecap="round" />
<polyline points="31.2,500.94 31.9,500.83 32.6,501.06 33.3,500.81 34,500.58 34.7,500.67 35.4,500.98 36.1,500.25 36.8,500.51 37.5,500.32 38.2,500.34 38.9,500.67 39.6,500.96 40.3,500.66 41,500.08 41.7,500.61 42.4,500.09 43.1,500.39 43.8,500.09 44.5,500.58 45.2,499.77 45.9,500.01 46.6,499.71 47.3,499.82 48,499.6 48.7,499.75 49.4,499.47 50.1,499.96 50.8,499.79 51.5,499.27 52.2,499.39 52.9,499.37 53.6,499.3 54.3,499.07 55,499.29 55.7,498.96 56.4,499.27 57.1,499.1 57.8,498.72 58.5,498.67 59.2,499.19 59.9,498.69 60.6,499.15 61.3,498.71 62,499.37 62.7,499.19 63.4,499.06 64.1,499 64.8,498.64 65.5,498.81 66.2,498.69 66.9,498.84 67.6,499.27 68.3,499.33 69,499.07 69.7,499.4 70.4,499.52 71.1,499.89 71.8,499.66 72.5,500.41 73.2,499.91 73.9,500.12 74.6,499.77 75.3,500.14 76,500.16 76.7,499.8 77.4,500.45 78.1,500.15 78.8,500.74 79.5,500.26 80.2,500.18 80.9,500.05 81.6,500.46 82.3,500.1 83,500.03 83.7,500.02 84.4,499.85 85.1,499.62 85.8,499.46 86.5,499.6 87.2,499.41 87.9,498.22 88.6,498.06 89.3,498.54 90,497.68 90.7,497.18 91.4,496.63 92.1,496.16 92.8,495.69 93.5,494.61 94.2,493.61 94.9,492.13 95.6,490.63 96.3,488.68 97,486.12 97.7,483.43 98.4,481.06 99.1,477.6 99.8,474.2 100.5,470.11 101.2,466.91 101.9,463.29 102.6,461 103.3,458.8 104,457.99 104.7,457.21 105.4,458.6 106.1,460.85 106.8,463.43 107.5,467.27 108.2,470.49 108.9,474.4 109.6,478.27 110.3,481.7 111,485.57 111.7,488.35 112.4,491.11 113.1,493.46 113.8,495.76 114.5,496.48 115.2,498 115.9,498.76 116.6,499.77 117.3,499.9 118,500.34 118.7,500.65 119.4,500.91 120.1,500.78 120.8,500.92 121.5,501.07 122.2,500.49 122.9,501.52 123.6,501.49 124.3,501.66 125,501.3 125.7,501.57 126.4,502.05 127.1,501.65 127.8,501.27 128.5,500.98 129.2,501.54 129.9,501.21 130.6,500.97 131.3,500.96 132,500.45 132.7,500.33 133.4,499.91 134.1,499.71 134.8,498.48 135.5,497.94 136.2,496.31 136.9,494.93 137.6,492.21 138.3,489.25 139,485.11 139.7,479.83 140.4,473.41 141.1,466.28 141.8,457.99 142.5,450.52 143.2,442.62 143.9,434.99 144.6,430.08 145.3,428.01 146,427.65 146.7,430.84 147.4,436.95 148.1,443.66 148.8,451.57 149.5,459.56 150.2,467.31 150.9,474.62 151.6,480.52 152.3,485.93 153,490.21 153.7,493.41 154.4,495.43 155.1,497.82 155.8,498.43 156.5,499.78 157.2,500.24 157.9,500.48 158.6,500.63 159.3,501.66 160,501.55 160.7,501.46 161.4,501.71 162.1,501.39 162.8,502.15 163.5,501.52 164.2,501.45 164.9,501.47 165.6,501.09 166.3,501.53 167,500.77 167.7,501.01 168.4,500.41 169.1,500.39 169.8,499.8 170.5,499.47 171.2,499.66 171.9,498.93 172.6,498.49 173.3,498.09 174,497.76 174.7,496.64 175.4,496.58 176.1,495.78 176.8,495.84 177.5,495.52 178.2,494.79 178.9,494.57 179.6,493.46 180.3,493.67 181,493.16 181.7,493.26 182.4,493.11 183.1,492.9 183.8,492.74 184.5,492.6 185.2,492.88 185.9,493.12 186.6,493.37 187.3,493.32 188,493.41 188.7,493.73 189.4,494.17 190.1,494.68 190.8,494.87 191.5,495.17 192.2,495.74 192.9,496.14 193.6,496.64 194.3,496.8 195,497.57 195.7,497.84 196.4,498.2 197.1,498.52 197.8,498.72 198.5,499.3 199.2,499.68 199.9,500.53 200.6,500.34 201.3,500.22 202,501.3 202.7,501.62 203.4,501.68 204.1,501.61 204.8,501.97 205.5,502.44 206.2,502.53 206.9,502.46 207.6,502.73 208.3,502.47 209,502.98 209.7,503.3 210.4,503.38 211.1,503.75 211.8,504.03 212.5,503.86 213.2,503.89 213.9,504.46 214.6,504.34 215.3,504.39 216,504.31 216.7,504.51 217.4,504.41 218.1,504.56 218.8,504.37 219.5,505.12 220.2,504.33 220.9,504.43 221.6,504.81 222.3,504.7 223,504.75 223.7,505.12 224.4,504.92 225.1,504.8 225.8,504.94 226.5,504.78 227.2,505.04 227.9,505.07 228.6,505.3 229.3,505.22 230,505.26 230.7,504.74 231.4,505.13 232.1,505.46 232.8,505.12 233.5,505.29 234.2,506.02 234.9,505.15 235.6,505.68 236.3,505.16 237,505.56 237.7,505.71 238.4,505.23 239.1,505.75 239.8,505.5 240.5,505.35 241.2,505.27" fill="none" stroke="#2a2a2a" stroke-width="1.25" stroke-linejoin="round" stroke-linecap="round" />
<polyline points="80.2,500.28 80.9,500.27 81.6,500.24 82.3,500.18 83,500.11 83.7,500.01 84.4,499.89 85.1,499.74 85.8,499.56 86.5,499.35 87.2,499.12 87.9,498.84 88.6,498.54 89.3,498.19 90,497.79 90.7,497.34 91.4,496.82 92.1,496.2 92.8,495.46 93.5,494.57 94.2,493.48 94.9,492.16 95.6,490.56 96.3,488.64 97,486.37 97.7,483.74 98.4,480.76 99.1,477.49 99.8,474 100.5,470.41 101.2,466.9 101.9,463.65 102.6,460.88 103.3,458.81 104,457.65 104.7,457.54 105.4,458.51 106.1,460.48 106.8,463.28 107.5,466.69 108.2,470.48 108.9,474.43 109.6,478.34 110.3,482.07 111,485.5 111.7,488.55 112.4,491.19 113.1,493.41 113.8,495.24 114.5,496.71 115.2,497.87 115.9,498.77 116.6,499.46 117.3,499.97 118,500.37 118.7,500.66 119.4,500.88 120.1,501.04 120.8,501.16 121.5,501.25 122.2,501.32 122.9,501.37 123.6,501.4 124.3,501.41 125,501.41 125.7,501.4 126.4,501.38 127.1,501.34 127.8,501.29 128.5,501.23 129.2,501.15 129.9,501.05 130.6,500.93 131.3,500.78 132,500.59 132.7,500.33 133.4,499.99 134.1,499.52 134.8,498.87 135.5,497.94 136.2,496.63 136.9,494.82 137.6,492.35 138.3,489.08 139,484.87 139.7,479.65 140.4,473.4 141.1,466.23 141.8,458.38 142.5,450.23 143.2,442.34 143.9,435.41 144.6,430.23 145.3,427.54 146,427.77 146.7,430.9 147.4,436.42 148.1,443.57 148.8,451.58 149.5,459.75 150.2,467.56 150.9,474.65 151.6,480.8" fill="none" stroke="#d42020" stroke-width="1.9" stroke-linejoin="round" stroke-linecap="round" />
<polyline points="50.8,501.34 51.5,501.35 52.2,501.37 52.9,501.39 53.6,501.4 54.3,501.42 55,501.43 55.7,501.45 56.4,501.46 57.1,501.48 57.8,501.49 58.5,501.51 59.2,501.52 59.9,501.54 60.6,501.55 61.3,501.57 62,501.58 62.7,501.6 63.4,501.61 64.1,501.63 64.8,501.64 65.5,501.66 66.2,501.67 66.9,501.69 67.6,501.7 68.3,501.72 69,501.73 69.7,501.74 70.4,501.76 71.1,501.77 71.8,501.78 72.5,501.79 73.2,501.8 73.9,501.8 74.6,501.81 75.3,501.81 76,501.8 76.7,501.8 77.4,501.78 78.1,501.76 78.8,501.73 79.5,501.69 80.2,501.65 80.9,501.59 81.6,501.51 82.3,501.42 83,501.32 83.7,501.19 84.4,501.05 85.1,500.89 85.8,500.71 86.5,500.51 87.2,500.29 87.9,500.05 88.6,499.79 89.3,499.52 90,499.24 90.7,498.94 91.4,498.64 92.1,498.34 92.8,498.05 93.5,497.76 94.2,497.49 94.9,497.24 95.6,497.01 96.3,496.81 97,496.65 97.7,496.52 98.4,496.44 99.1,496.4 99.8,496.41 100.5,496.46 101.2,496.55 101.9,496.69 102.6,496.87 103.3,497.08 104,497.33 104.7,497.6 105.4,497.89 106.1,498.21 106.8,498.53 107.5,498.86 108.2,499.19 108.9,499.52 109.6,499.84 110.3,500.14 111,500.44 111.7,500.72 112.4,500.98 113.1,501.22 113.8,501.44 114.5,501.64 115.2,501.82 115.9,501.98 116.6,502.12 117.3,502.25 118,502.36 118.7,502.45 119.4,502.54 120.1,502.61 120.8,502.67 121.5,502.73 122.2,502.77 122.9,502.82 123.6,502.85 124.3,502.88 125,502.91 125.7,502.94 126.4,502.96 127.1,502.98 127.8,503 128.5,503.02 129.2,503.04 129.9,503.06 130.6,503.07 131.3,503.09 132,503.1 132.7,503.12 133.4,503.14 134.1,503.15 134.8,503.17 135.5,503.18 136.2,503.2 136.9,503.21 137.6,503.23 138.3,503.24 139,503.26 139.7,503.27 140.4,503.29 141.1,503.3 141.8,503.32 142.5,503.33 143.2,503.35 143.9,503.37 144.6,503.38 145.3,503.4 146,503.41 146.7,503.43 147.4,503.44 148.1,503.46 148.8,503.47" fill="none" stroke="#8a2be2" stroke-width="1.2" stroke-linejoin="round" stroke-linecap="round" />
<polyline points="77.4,501.64 78.1,501.64 78.8,501.64 79.5,501.64 80.2,501.64 80.9,501.64 81.6,501.63 82.3,501.62 83,501.61 83.7,501.6 84.4,501.58 85.1,501.57 85.8,501.54 86.5,501.51 87.2,501.48 87.9,501.43 88.6,501.37 89.3,501.29 90,501.17 90.7,501.01 91.4,500.79 92.1,500.49 92.8,500.06 93.5,499.49 94.2,498.71 94.9,497.69 95.6,496.37 96.3,494.72 97,492.7 97.7,490.3 98.4,487.52 99.1,484.42 99.8,481.07 100.5,477.59 101.2,474.13 101.9,470.89 102.6,468.07 103.3,465.9 104,464.57 104.7,464.22 105.4,464.89 106.1,466.51 106.8,468.91 107.5,471.9 108.2,475.26 108.9,478.77 109.6,482.26 110.3,485.58 111,488.63 111.7,491.33 112.4,493.66 113.1,495.6 113.8,497.18 114.5,498.44 115.2,499.42 115.9,500.16 116.6,500.72 117.3,501.14 118,501.45 118.7,501.68 119.4,501.85 120.1,501.99 120.8,502.09 121.5,502.18 122.2,502.25 122.9,502.32 123.6,502.38 124.3,502.43 125,502.48 125.7,502.52 126.4,502.56 127.1,502.6 127.8,502.64 128.5,502.68 129.2,502.71 129.9,502.74 130.6,502.78 131.3,502.81" fill="none" stroke="#b08a18" stroke-width="1.2" stroke-linejoin="round" stroke-linecap="round" />
<polyline points="122.9,502.08 123.6,502.05 124.3,502.01 125,501.96 125.7,501.91 126.4,501.85 127.1,501.78 127.8,501.7 128.5,501.61 129.2,501.51 129.9,501.39 130.6,501.25 131.3,501.08 132,500.88 132.7,500.61 133.4,500.25 134.1,499.77 134.8,499.1 135.5,498.17 136.2,496.85 136.9,495.03 137.6,492.55 138.3,489.27 139,485.06 139.7,479.83 140.4,473.57 141.1,466.39 141.8,458.54 142.5,450.39 143.2,442.49 143.9,435.56 144.6,430.37 145.3,427.67 146,427.9 146.7,431.02 147.4,436.54 148.1,443.69 148.8,451.69 149.5,459.86 150.2,467.67 150.9,474.75 151.6,480.9 152.3,486.01 153,490.12 153.7,493.31 154.4,495.71 155.1,497.48 155.8,498.76 156.5,499.69 157.2,500.36 157.9,500.85 158.6,501.22 159.3,501.5 160,501.74 160.7,501.93 161.4,502.1 162.1,502.24 162.8,502.37 163.5,502.49 164.2,502.6 164.9,502.7 165.6,502.78 166.3,502.87 167,502.94 167.7,503.01 168.4,503.08" fill="none" stroke="#2a8656" stroke-width="1.6" stroke-linejoin="round" stroke-linecap="round" />
<polyline points="150.2,503.5 150.9,503.52 151.6,503.53 152.3,503.55 153,503.56 153.7,503.58 154.4,503.59 155.1,503.61 155.8,503.62 156.5,503.64 157.2,503.65 157.9,503.67 158.6,503.69 159.3,503.7 160,503.72 160.7,503.73 161.4,503.75 162.1,503.76 162.8,503.78 163.5,503.79 164.2,503.81 164.9,503.82 165.6,503.84 166.3,503.85 167,503.87 167.7,503.88 168.4,503.9 169.1,503.91 169.8,503.93 170.5,503.94 171.2,503.96 171.9,503.97 172.6,503.99 173.3,504.01 174,504.02 174.7,504.04 175.4,504.05 176.1,504.07 176.8,504.08 177.5,504.1 178.2,504.11 178.9,504.13 179.6,504.14 180.3,504.16 181,504.17 181.7,504.19 182.4,504.2 183.1,504.22 183.8,504.23 184.5,504.25 185.2,504.26 185.9,504.28 186.6,504.29 187.3,504.31 188,504.32 188.7,504.34 189.4,504.36 190.1,504.37 190.8,504.39 191.5,504.4 192.2,504.42 192.9,504.43 193.6,504.45 194.3,504.46 195,504.48 195.7,504.49 196.4,504.51 197.1,504.52 197.8,504.54 198.5,504.55 199.2,504.57 199.9,504.58 200.6,504.6 201.3,504.61 202,504.63 202.7,504.64 203.4,504.66 204.1,504.68 204.8,504.69 205.5,504.71 206.2,504.72 206.9,504.74 207.6,504.75 208.3,504.77 209,504.78 209.7,504.8 210.4,504.81 211.1,504.83 211.8,504.84 212.5,504.86 213.2,504.87 213.9,504.89 214.6,504.9 215.3,504.92 216,504.93 216.7,504.95 217.4,504.96 218.1,504.98 218.8,505 219.5,505.01 220.2,505.03 220.9,505.04 221.6,505.06 222.3,505.07 223,505.09 223.7,505.1 224.4,505.12 225.1,505.13 225.8,505.15 226.5,505.16 227.2,505.18 227.9,505.19 228.6,505.21 229.3,505.22 230,505.24 230.7,505.25 231.4,505.27 232.1,505.28 232.8,505.3 233.5,505.32 234.2,505.33 234.9,505.35 235.6,505.36 236.3,505.38 237,505.39 237.7,505.41 238.4,505.42 239.1,505.44 239.8,505.45 240.5,505.47 241.2,505.48" fill="none" stroke="#20a8a8" stroke-width="1.6" stroke-linejoin="round" stroke-linecap="round" />
<polyline points="31.2,500.91 31.9,500.93 32.6,500.94 33.3,500.96 34,500.97 34.7,500.99 35.4,501 36.1,501.02 36.8,501.03 37.5,501.05 38.2,501.07 38.9,501.08 39.6,501.1 40.3,501.11 41,501.13 41.7,501.14 42.4,501.16 43.1,501.17 43.8,501.19 44.5,501.2 45.2,501.22 45.9,501.23 46.6,501.25 47.3,501.26 48,501.28 48.7,501.29 49.4,501.31 50.1,501.32 50.8,501.34 51.5,501.35 52.2,501.37 52.9,501.39 53.6,501.4 54.3,501.42 55,501.43 55.7,501.45 56.4,501.46 57.1,501.48 57.8,501.49 58.5,501.51 59.2,501.52 59.9,501.54 60.6,501.55 61.3,501.57 62,501.58 62.7,501.6 63.4,501.61 64.1,501.63 64.8,501.64 65.5,501.66 66.2,501.67 66.9,501.69 67.6,501.71 68.3,501.72 69,501.74 69.7,501.75 70.4,501.77 71.1,501.78 71.8,501.8 72.5,501.81 73.2,501.83 73.9,501.84 74.6,501.86 75.3,501.87 76,501.89 76.7,501.9 77.4,501.92 78.1,501.93 78.8,501.95 79.5,501.96 80.2,501.98 80.9,501.99 81.6,502.01 82.3,502.02 83,502.04 83.7,502.06 84.4,502.07 85.1,502.09 85.8,502.1 86.5,502.12 87.2,502.13 87.9,502.15 88.6,502.16 89.3,502.18 90,502.19 90.7,502.21 91.4,502.22 92.1,502.24 92.8,502.25 93.5,502.27 94.2,502.28 94.9,502.3 95.6,502.31 96.3,502.33 97,502.34 97.7,502.36 98.4,502.38 99.1,502.39 99.8,502.41 100.5,502.42 101.2,502.44 101.9,502.45 102.6,502.47 103.3,502.48 104,502.5 104.7,502.51 105.4,502.53 106.1,502.54 106.8,502.56 107.5,502.57 108.2,502.59 108.9,502.6 109.6,502.62 110.3,502.63 111,502.65 111.7,502.66 112.4,502.68 113.1,502.7 113.8,502.71 114.5,502.73 115.2,502.74 115.9,502.76 116.6,502.77 117.3,502.79 118,502.8 118.7,502.82 119.4,502.83 120.1,502.85 120.8,502.86 121.5,502.88 122.2,502.89 122.9,502.91 123.6,502.92 124.3,502.94 125,502.95 125.7,502.97 126.4,502.98 127.1,503 127.8,503.02 128.5,503.03 129.2,503.05 129.9,503.06 130.6,503.08 131.3,503.09 132,503.11 132.7,503.12 133.4,503.14 134.1,503.15 134.8,503.17 135.5,503.18 136.2,503.2 136.9,503.21 137.6,503.23 138.3,503.24 139,503.26 139.7,503.27 140.4,503.29 141.1,503.3 141.8,503.32 142.5,503.33 143.2,503.35 143.9,503.37 144.6,503.38 145.3,503.4 146,503.41 146.7,503.43 147.4,503.44 148.1,503.46 148.8,503.47 149.5,503.49" fill="none" stroke="#20a8a8" stroke-width="1.3" stroke-linejoin="round" stroke-linecap="round" />
<rect x="30.5" y="232.9" width="211.8" height="280.8" fill="none" stroke="#1c1c1c" stroke-width="1.4"/>
<line x1="43.74" y1="513.7" x2="43.74" y2="511.7" stroke="#1c1c1c" stroke-width="1.1" />
<line x1="56.98" y1="513.7" x2="56.98" y2="510.5" stroke="#1c1c1c" stroke-width="1.1" />
<line x1="70.21" y1="513.7" x2="70.21" y2="511.7" stroke="#1c1c1c" stroke-width="1.1" />
<line x1="83.45" y1="513.7" x2="83.45" y2="510.5" stroke="#1c1c1c" stroke-width="1.1" />
<line x1="96.69" y1="513.7" x2="96.69" y2="511.7" stroke="#1c1c1c" stroke-width="1.1" />
<line x1="109.93" y1="513.7" x2="109.93" y2="510.5" stroke="#1c1c1c" stroke-width="1.1" />
<line x1="123.16" y1="513.7" x2="123.16" y2="511.7" stroke="#1c1c1c" stroke-width="1.1" />
<line x1="136.4" y1="513.7" x2="136.4" y2="510.5" stroke="#1c1c1c" stroke-width="1.1" />
<line x1="149.64" y1="513.7" x2="149.64" y2="511.7" stroke="#1c1c1c" stroke-width="1.1" />
<line x1="162.88" y1="513.7" x2="162.88" y2="510.5" stroke="#1c1c1c" stroke-width="1.1" />
<line x1="176.11" y1="513.7" x2="176.11" y2="511.7" stroke="#1c1c1c" stroke-width="1.1" />
<line x1="189.35" y1="513.7" x2="189.35" y2="510.5" stroke="#1c1c1c" stroke-width="1.1" />
<line x1="202.59" y1="513.7" x2="202.59" y2="511.7" stroke="#1c1c1c" stroke-width="1.1" />
<line x1="215.83" y1="513.7" x2="215.83" y2="510.5" stroke="#1c1c1c" stroke-width="1.1" />
<line x1="229.06" y1="513.7" x2="229.06" y2="511.7" stroke="#1c1c1c" stroke-width="1.1" />
<text x="30.5" y="526.2" font-size="10.2" font-weight="bold" text-anchor="middle" fill="#111" textLength="16.5" lengthAdjust="spacingAndGlyphs"  stroke="#111" stroke-width="0.36">238</text>
<text x="56.98" y="526.2" font-size="10.2" font-weight="bold" text-anchor="middle" fill="#111" textLength="16.5" lengthAdjust="spacingAndGlyphs"  stroke="#111" stroke-width="0.36">236</text>
<text x="83.45" y="526.2" font-size="10.2" font-weight="bold" text-anchor="middle" fill="#111" textLength="16.5" lengthAdjust="spacingAndGlyphs"  stroke="#111" stroke-width="0.36">234</text>
<text x="109.93" y="526.2" font-size="10.2" font-weight="bold" text-anchor="middle" fill="#111" textLength="16.5" lengthAdjust="spacingAndGlyphs"  stroke="#111" stroke-width="0.36">232</text>
<text x="136.4" y="526.2" font-size="10.2" font-weight="bold" text-anchor="middle" fill="#111" textLength="16.5" lengthAdjust="spacingAndGlyphs"  stroke="#111" stroke-width="0.36">230</text>
<text x="162.88" y="526.2" font-size="10.2" font-weight="bold" text-anchor="middle" fill="#111" textLength="16.5" lengthAdjust="spacingAndGlyphs"  stroke="#111" stroke-width="0.36">228</text>
<text x="189.35" y="526.2" font-size="10.2" font-weight="bold" text-anchor="middle" fill="#111" textLength="16.5" lengthAdjust="spacingAndGlyphs"  stroke="#111" stroke-width="0.36">226</text>
<text x="215.83" y="526.2" font-size="10.2" font-weight="bold" text-anchor="middle" fill="#111" textLength="16.5" lengthAdjust="spacingAndGlyphs"  stroke="#111" stroke-width="0.36">224</text>
<text x="242.3" y="526.2" font-size="10.2" font-weight="bold" text-anchor="middle" fill="#111" textLength="16.5" lengthAdjust="spacingAndGlyphs"  stroke="#111" stroke-width="0.36">222</text>
<text x="82.7" y="546.5" font-size="11.4" font-weight="bold" text-anchor="start" fill="#111" textLength="107.2" lengthAdjust="spacingAndGlyphs"  stroke="#111" stroke-width="0.4">Binding Energy (eV)</text>
<text x="14.2" y="413.6" font-size="10" font-weight="bold" text-anchor="start" fill="#111" textLength="78" lengthAdjust="spacingAndGlyphs" transform="rotate(-90 14.2 413.6)" stroke="#111" stroke-width="0.35">Intensity (a.u.)</text>
<text x="5" y="239.8" font-size="23" font-weight="bold" text-anchor="start" fill="#111" textLength="10.2" lengthAdjust="spacingAndGlyphs"  stroke="#111" stroke-width="0.81">c</text>
<text x="158.4" y="250.3" font-size="9.9" font-weight="bold" text-anchor="start" fill="#111" textLength="81" lengthAdjust="spacingAndGlyphs"  stroke="#111" stroke-width="0.35">Commercial MoS<tspan font-size="7" dy="2.5">2</tspan></text>
<text x="204.7" y="350.2" font-size="9.9" font-weight="bold" text-anchor="start" fill="#111" textLength="24.2" lengthAdjust="spacingAndGlyphs"  stroke="#111" stroke-width="0.35">MoS<tspan font-size="7" dy="2.5">2</tspan></text>
<text x="177.2" y="440.2" font-size="9.9" font-weight="bold" text-anchor="start" fill="#111" textLength="57.5" lengthAdjust="spacingAndGlyphs"  stroke="#111" stroke-width="0.35">Etched MoS<tspan font-size="7" dy="2.5">2</tspan></text>
<text x="45.1" y="286.8" font-size="7.9" font-weight="normal" text-anchor="start" fill="#111" textLength="16.5" lengthAdjust="spacingAndGlyphs" stroke="#222" stroke-width="0.25">Mo<tspan font-size="5.2" dy="-2.9">6+</tspan></text>
<text x="73" y="280.8" font-size="7.9" font-weight="normal" text-anchor="start" fill="#111" textLength="15.3" lengthAdjust="spacingAndGlyphs" stroke="#222" stroke-width="0.25">Mo<tspan font-size="5.2" dy="-2.9">5+</tspan></text>
<text x="122.9" y="277" font-size="7.9" font-weight="normal" text-anchor="start" fill="#111" textLength="16.3" lengthAdjust="spacingAndGlyphs" stroke="#222" stroke-width="0.25">Mo<tspan font-size="5.2" dy="-2.9">4+</tspan></text>
<polygon points="53.6,292.2 52.62,288.5 55.21,288.73" fill="#111"/>
<polygon points="62.2,288.8 58.43,288.13 59.73,285.87" fill="#111"/>
<polygon points="71.8,288.2 72.47,284.43 74.73,285.73" fill="#111"/>
<polygon points="86.6,284.8 82.98,283.54 84.62,281.52" fill="#111"/>
<line x1="86.6" y1="284.8" x2="95.7" y2="291.6" stroke="#b0b0b0" stroke-width="0.5" />
<line x1="67.3" y1="291" x2="78.6" y2="296.7" stroke="#b0b0b0" stroke-width="0.5" />
<polygon points="120.2,282.7 121.52,279.11 123.51,280.78" fill="#111"/>
<polygon points="136.1,283.1 132.64,281.47 134.47,279.64" fill="#111"/>
<line x1="136.1" y1="283.1" x2="139.5" y2="289.5" stroke="#b0b0b0" stroke-width="0.5" />
<text x="59" y="392.1" font-size="7.9" font-weight="normal" text-anchor="start" fill="#111" textLength="16.1" lengthAdjust="spacingAndGlyphs" stroke="#222" stroke-width="0.25">Mo<tspan font-size="5.2" dy="-2.9">6+</tspan></text>
<text x="114.3" y="369" font-size="7.9" font-weight="normal" text-anchor="start" fill="#111" textLength="16.7" lengthAdjust="spacingAndGlyphs" stroke="#222" stroke-width="0.25">Mo<tspan font-size="5.2" dy="-2.9">4+</tspan></text>
<polygon points="57.1,397 57.11,393.17 59.55,394.06" fill="#111"/>
<polygon points="77.9,394.2 74.13,393.53 75.43,391.27" fill="#111"/>
<line x1="77.9" y1="394.2" x2="84.1" y2="397.5" stroke="#b0b0b0" stroke-width="0.5" />
<polygon points="109.4,375.2 110.72,371.61 112.71,373.28" fill="#111"/>
<polygon points="126.4,374.5 123.09,372.58 125.08,370.91" fill="#111"/>
<line x1="126.4" y1="374.5" x2="131.8" y2="386" stroke="#b0b0b0" stroke-width="0.5" />
<line x1="109.4" y1="375.2" x2="104" y2="382" stroke="#b0b0b0" stroke-width="0.5" />
<text x="70.5" y="490" font-size="7.9" font-weight="normal" text-anchor="start" fill="#111" textLength="16.1" lengthAdjust="spacingAndGlyphs" stroke="#222" stroke-width="0.25">Mo<tspan font-size="5.2" dy="-2.9">5+</tspan></text>
<text x="119.2" y="477.9" font-size="7.9" font-weight="normal" text-anchor="start" fill="#111" textLength="16.5" lengthAdjust="spacingAndGlyphs" stroke="#222" stroke-width="0.25">Mo<tspan font-size="5.2" dy="-2.9">4+</tspan></text>
<polygon points="67.2,494.8 67.87,491.03 70.13,492.33" fill="#111"/>
<polygon points="85,492 81.19,491.66 82.29,489.3" fill="#111"/>
<line x1="85" y1="492" x2="92.2" y2="494" stroke="#b0b0b0" stroke-width="0.5" />
<polygon points="114.7,481.9 115.7,478.21 117.83,479.7" fill="#111"/>
<polygon points="134,481.9 130.87,479.7 133,478.21" fill="#111"/>
<line x1="134" y1="481.9" x2="138.9" y2="489.1" stroke="#b0b0b0" stroke-width="0.5" />
<line x1="451" y1="262" x2="451" y2="510.6" stroke="#666" stroke-width="0.9" stroke-dasharray="2.2,1.3,0.8,1.3"/>
<line x1="471.4" y1="256" x2="471.4" y2="510.6" stroke="#666" stroke-width="0.9" stroke-dasharray="2.2,1.3,0.8,1.3"/>
<polyline points="304.1,308.89 304.7,309.05 305.3,309.21 305.9,308.65 306.5,309.15 307.1,308.66 307.7,309.1 308.3,308.77 308.9,308.77 309.5,309.18 310.1,308.88 310.7,308.77 311.3,308.75 311.9,308.89 312.5,308.75 313.1,308.84 313.7,308.93 314.3,308.43 314.9,308.66 315.5,308.18 316.1,308.24 316.7,308.42 317.3,308.14 317.9,308.02 318.5,307.98 319.1,307.52 319.7,307.52 320.3,306.88 320.9,306.8 321.5,306.89 322.1,306.44 322.7,306.19 323.3,306.14 323.9,305.31 324.5,304.95 325.1,304.59 325.7,304.48 326.3,303.77 326.9,303.62 327.5,302.97 328.1,302.37 328.7,302.27 329.3,302.15 329.9,301.5 330.5,300.88 331.1,300.34 331.7,300.4 332.3,299.82 332.9,299.35 333.5,298.94 334.1,298.5 334.7,298.54 335.3,298.13 335.9,297.56 336.5,297.42 337.1,297.16 337.7,296.8 338.3,296.8 338.9,296.52 339.5,296.51 340.1,296.55 340.7,296.38 341.3,295.94 341.9,295.84 342.5,295.77 343.1,295.4 343.7,295.46 344.3,295.06 344.9,294.88 345.5,294.81 346.1,294.85 346.7,293.82 347.3,293.75 347.9,294.02 348.5,293.23 349.1,292.71 349.7,292.45 350.3,291.9 350.9,291.81 351.5,291.17 352.1,290.81 352.7,290.44 353.3,290.06 353.9,289.61 354.5,289.12 355.1,289.1 355.7,288.8 356.3,288.45 356.9,288.32 357.5,288.09 358.1,287.95 358.7,287.82 359.3,288.15 359.9,288.69 360.5,288.43 361.1,288.59 361.7,289.01 362.3,289.37 362.9,290.26 363.5,290.16 364.1,290.86 364.7,291.69 365.3,292.2 365.9,292.87 366.5,293.27 367.1,294.01 367.7,294.57 368.3,295.51 368.9,296.68 369.5,297.46 370.1,297.72 370.7,298.4 371.3,299.5 371.9,300.07 372.5,301.19 373.1,301.96 373.7,302.47 374.3,302.93 374.9,303.55 375.5,304.05 376.1,304.63 376.7,304.88 377.3,305.19 377.9,305.89 378.5,305.88 379.1,306.76 379.7,307.07 380.3,307.18 380.9,307.59 381.5,307.52 382.1,308.1 382.7,307.9 383.3,308.29 383.9,307.97 384.5,308.7 385.1,308.77 385.7,308.8 386.3,309.35 386.9,308.87 387.5,308.96 388.1,309.09 388.7,309.47 389.3,309.51 389.9,309.11 390.5,309.03 391.1,308.97 391.7,309.48 392.3,309.53 392.9,309.39 393.5,309.74 394.1,309.47 394.7,309.19 395.3,309.04 395.9,309.32 396.5,309.05 397.1,309.3 397.7,309.35 398.3,309.42 398.9,309.35 399.5,309.44 400.1,309.42 400.7,309.52 401.3,309.33 401.9,309.38 402.5,309.68 403.1,309.43 403.7,309.55 404.3,309.79 404.9,309.28 405.5,309.06 406.1,308.9 406.7,309.06 407.3,309.54 407.9,309.13 408.5,309.14 409.1,309.76 409.7,309.18 410.3,309.23 410.9,309.32 411.5,309.29 412.1,309.33 412.7,309.01 413.3,309.41 413.9,309.37 414.5,309.32 415.1,309.26 415.7,309.66 416.3,309.02 416.9,309.25 417.5,309.17 418.1,309.24 418.7,309.31 419.3,309.33 419.9,309.23 420.5,309.21 421.1,309 421.7,309.15 422.3,309.23 422.9,308.79 423.5,309.43 424.1,309.43 424.7,309.07 425.3,309.16 425.9,309.45 426.5,309.13 427.1,309.18 427.7,308.77 428.3,309.09 428.9,308.71 429.5,308.78 430.1,308.86 430.7,308.78 431.3,308.67 431.9,309.17 432.5,308.58 433.1,308.65 433.7,308.13 434.3,308.52 434.9,308.03 435.5,308.62 436.1,307.78 436.7,307.69 437.3,307.55 437.9,307.25 438.5,306.96 439.1,306.44 439.7,306.11 440.3,305.93 440.9,305.03 441.5,303.88 442.1,303.57 442.7,302.7 443.3,301.95 443.9,300.87 444.5,299.85 445.1,298.88 445.7,297.57 446.3,296.83 446.9,295.56 447.5,294.32 448.1,293.36 448.7,292.45 449.3,291 449.9,290.23 450.5,289.04 451.1,288.05 451.7,286.86 452.3,285.88 452.9,284.87 453.5,283.64 454.1,282.43 454.7,281.86 455.3,280.68 455.9,279.82 456.5,278.62 457.1,277.23 457.7,276.14 458.3,274.9 458.9,273.35 459.5,271.7 460.1,269.9 460.7,268.08 461.3,266.98 461.9,265.57 462.5,264.5 463.1,263.97 463.7,263.08 464.3,263.51 464.9,263.69 465.5,265.28 466.1,265.93 466.7,267.67 467.3,268.97 467.9,270.34 468.5,271.37 469.1,272.16 469.7,272.18 470.3,272.4 470.9,271.66 471.5,270.68 472.1,269.24 472.7,267.74 473.3,265.83 473.9,263.77 474.5,261.76 475.1,259.54 475.7,257.7 476.3,255.62 476.9,253.17 477.5,251.76 478.1,250.25 478.7,248.33 479.3,247.28 479.9,246.17 480.5,245.27 481.1,243.91 481.7,243.53 482.3,242.86 482.9,242.25 483.5,242.21 484.1,242.38 484.7,242.79 485.3,243.19 485.9,243.93 486.5,245.74 487.1,247.04 487.7,248.55 488.3,250.73 488.9,253.29 489.5,255.61 490.1,258.15 490.7,260.81 491.3,263.41 491.9,265.94 492.5,268.82 493.1,271.23 493.7,274.05 494.3,276.79 494.9,279.09 495.5,281.7 496.1,284.11 496.7,286.25 497.3,288.53 497.9,290.73 498.5,292.45 499.1,294.36 499.7,295.49 500.3,297.35 500.9,298.7 501.5,299.9 502.1,301.26 502.7,302.02 503.3,303.21 503.9,304.25 504.5,305.02 505.1,305.61 505.7,306.81 506.3,307.24 506.9,308.2 507.5,308.67 508.1,309.7 508.7,309.88 509.3,310.76 509.9,311.77 510.5,311.71 511.1,312.58 511.7,313.09 512.3,313.5 512.9,313.47 513.5,313.53 514.1,314.15 514.7,314.4 515.3,314.57 515.9,314.16" fill="none" stroke="#2a2a2a" stroke-width="1.25" stroke-linejoin="round" stroke-linecap="round" />
<polyline points="318.5,307.8 319.1,307.62 319.7,307.42 320.3,307.21 320.9,306.97 321.5,306.71 322.1,306.44 322.7,306.14 323.3,305.83 323.9,305.49 324.5,305.14 325.1,304.77 325.7,304.39 326.3,303.99 326.9,303.58 327.5,303.16 328.1,302.73 328.7,302.3 329.3,301.87 329.9,301.44 330.5,301.01 331.1,300.59 331.7,300.18 332.3,299.78 332.9,299.4 333.5,299.03 334.1,298.68 334.7,298.35 335.3,298.05 335.9,297.76 336.5,297.5 337.1,297.25 337.7,297.03 338.3,296.82 338.9,296.63 339.5,296.45 340.1,296.28 340.7,296.12 341.3,295.96 341.9,295.8 342.5,295.64 343.1,295.47 343.7,295.28 344.3,295.09 344.9,294.87 345.5,294.64 346.1,294.39 346.7,294.11 347.3,293.81 347.9,293.49 348.5,293.15 349.1,292.78 349.7,292.41 350.3,292.01 350.9,291.61 351.5,291.21 352.1,290.8 352.7,290.4 353.3,290.02 353.9,289.65 354.5,289.31 355.1,288.99 355.7,288.72 356.3,288.49 356.9,288.3 357.5,288.17 358.1,288.09 358.7,288.08 359.3,288.13 359.9,288.24 360.5,288.42 361.1,288.66 361.7,288.97 362.3,289.34 362.9,289.77 363.5,290.26 364.1,290.8 364.7,291.39 365.3,292.02 365.9,292.69 366.5,293.4 367.1,294.13 367.7,294.87 368.3,295.64 368.9,296.41 369.5,297.18 370.1,297.95 370.7,298.71 371.3,299.46 371.9,300.19 372.5,300.89 373.1,301.58 373.7,302.23 374.3,302.85 374.9,303.45 375.5,304 376.1,304.53 376.7,305.02 377.3,305.47 377.9,305.89 378.5,306.28 379.1,306.64 379.7,306.96 380.3,307.25 380.9,307.52 381.5,307.76 382.1,307.97 382.7,308.16 383.3,308.33 383.9,308.48 384.5,308.61 385.1,308.73 385.7,308.83 386.3,308.91 386.9,308.99 387.5,309.05 388.1,309.11 388.7,309.16 389.3,309.2 389.9,309.23 390.5,309.26 391.1,309.28 391.7,309.3 392.3,309.32 392.9,309.34 393.5,309.35 394.1,309.36 394.7,309.36 395.3,309.37 395.9,309.37 396.5,309.38 397.1,309.38 397.7,309.38 398.3,309.39 398.9,309.39 399.5,309.39 400.1,309.39 400.7,309.39 401.3,309.39 401.9,309.39 402.5,309.38 403.1,309.38 403.7,309.38 404.3,309.38 404.9,309.38 405.5,309.38 406.1,309.37 406.7,309.37 407.3,309.37 407.9,309.37 408.5,309.36 409.1,309.36 409.7,309.36 410.3,309.35 410.9,309.35 411.5,309.35 412.1,309.34 412.7,309.34 413.3,309.33 413.9,309.33 414.5,309.32 415.1,309.31 415.7,309.31 416.3,309.3 416.9,309.3 417.5,309.29 418.1,309.28 418.7,309.27 419.3,309.26 419.9,309.25 420.5,309.24 421.1,309.23 421.7,309.22 422.3,309.21 422.9,309.19 423.5,309.17 424.1,309.16 424.7,309.14 425.3,309.12 425.9,309.09 426.5,309.06 427.1,309.03 427.7,309 428.3,308.96 428.9,308.92 429.5,308.87 430.1,308.82 430.7,308.79 431.3,308.75 431.9,308.7 432.5,308.65 433.1,308.57 433.7,308.49 434.3,308.38 434.9,308.26 435.5,308.11 436.1,307.94 436.7,307.74 437.3,307.51 437.9,307.23 438.5,306.9 439.1,306.52 439.7,306.08 440.3,305.57 440.9,304.99 441.5,304.32 442.1,303.58 442.7,302.76 443.3,301.86 443.9,300.9 444.5,299.89 445.1,298.83 445.7,297.75 446.3,296.64 446.9,295.53 447.5,294.42 448.1,293.31 448.7,292.21 449.3,291.12 449.9,290.03 450.5,288.95 451.1,287.89 451.7,286.84 452.3,285.8 452.9,284.78 453.5,283.77 454.1,282.78 454.7,281.79 455.3,280.79 455.9,279.74 456.5,278.64 457.1,277.45 457.7,276.15 458.3,274.73 458.9,273.2 459.5,271.57 460.1,269.9 460.7,268.25 461.3,266.71 461.9,265.37 462.5,264.31 463.1,263.62 463.7,263.35 464.3,263.5 464.9,264.07 465.5,265 466.1,266.19 466.7,267.53 467.3,268.89 467.9,270.14 468.5,271.18 469.1,271.89 469.7,272.23 470.3,272.14 470.9,271.61 471.5,270.68 472.1,269.37 472.7,267.76 473.3,265.9 473.9,263.87 474.5,261.76 475.1,259.61 475.7,257.5 476.3,255.47 476.9,253.55 477.5,251.76 478.1,250.11 478.7,248.61 479.3,247.25 479.9,246.04 480.5,244.98 481.1,244.07 481.7,243.32 482.3,242.75 482.9,242.38 483.5,242.25 484.1,242.36 484.7,242.74 485.3,243.42 485.9,244.38 486.5,245.63 487.1,247.15 487.7,248.94 488.3,250.95 488.9,253.15 489.5,255.53 490.1,258.03 490.7,260.63 491.3,263.29 491.9,265.99 492.5,268.7 493.1,271.41 493.7,274.08 494.3,276.71 494.9,279.27 495.5,281.76 496.1,284.16 496.7,286.46 497.3,288.65 497.9,290.71 498.5,292.64 499.1,294.43 499.7,296.07 500.3,297.57 500.9,298.93 501.5,300.16 502.1,301.27 502.7,302.28 503.3,303.21 503.9,304.08 504.5,304.91 505.1,305.71 505.7,306.5 506.3,307.28 506.9,308.05 507.5,308.81 508.1,309.55 508.7,310.25 509.3,310.91 509.9,311.52 510.5,312.06 511.1,312.54 511.7,312.95 512.3,313.3 512.9,313.59 513.5,313.83 514.1,314.03 514.7,314.2 515.3,314.34 515.9,314.46" fill="none" stroke="#d42020" stroke-width="1.9" stroke-linejoin="round" stroke-linecap="round" />
<polyline points="304.1,309.09 304.7,309.09 305.3,309.08 305.9,309.08 306.5,309.07 307.1,309.07 307.7,309.06 308.3,309.05 308.9,309.03 309.5,309.02 310.1,308.99 310.7,308.97 311.3,308.94 311.9,308.9 312.5,308.86 313.1,308.81 313.7,308.75 314.3,308.68 314.9,308.6 315.5,308.51 316.1,308.41 316.7,308.29 317.3,308.16 317.9,308.02 318.5,307.86 319.1,307.68 319.7,307.48 320.3,307.27 320.9,307.03 321.5,306.78 322.1,306.5 322.7,306.21 323.3,305.9 323.9,305.57 324.5,305.23 325.1,304.87 325.7,304.49 326.3,304.11 326.9,303.71 327.5,303.31 328.1,302.91 328.7,302.5 329.3,302.1 329.9,301.7 330.5,301.32 331.1,300.95 331.7,300.6 332.3,300.27 332.9,299.96 333.5,299.69 334.1,299.44 334.7,299.23 335.3,299.06 335.9,298.93 336.5,298.84 337.1,298.8 337.7,298.79 338.3,298.83 338.9,298.91 339.5,299.04 340.1,299.2 340.7,299.4 341.3,299.64 341.9,299.92 342.5,300.22 343.1,300.55 343.7,300.9 344.3,301.27 344.9,301.66 345.5,302.06 346.1,302.46 346.7,302.87 347.3,303.29 347.9,303.7 348.5,304.1 349.1,304.49 349.7,304.88 350.3,305.25 350.9,305.61 351.5,305.95 352.1,306.27 352.7,306.58 353.3,306.86 353.9,307.13 354.5,307.38 355.1,307.61 355.7,307.81 356.3,308.01 356.9,308.18 357.5,308.34 358.1,308.48 358.7,308.61 359.3,308.72 359.9,308.82 360.5,308.91 361.1,308.99 361.7,309.06 362.3,309.12 362.9,309.17 363.5,309.21 364.1,309.25 364.7,309.29 365.3,309.32 365.9,309.34 366.5,309.36 367.1,309.38 367.7,309.4 368.3,309.41 368.9,309.43 369.5,309.44 370.1,309.44 370.7,309.45 371.3,309.46 371.9,309.47 372.5,309.47 373.1,309.48 373.7,309.48 374.3,309.49 374.9,309.49 375.5,309.5 376.1,309.5 376.7,309.5 377.3,309.51 377.9,309.51 378.5,309.51 379.1,309.52 379.7,309.52 380.3,309.52 380.9,309.53 381.5,309.53 382.1,309.54 382.7,309.54 383.3,309.54 383.9,309.55 384.5,309.55 385.1,309.55 385.7,309.56 386.3,309.56 386.9,309.56 387.5,309.57 388.1,309.57 388.7,309.57 389.3,309.57 389.9,309.58 390.5,309.58 391.1,309.58 391.7,309.59 392.3,309.59 392.9,309.59 393.5,309.6 394.1,309.6 394.7,309.6 395.3,309.61 395.9,309.61 396.5,309.61 397.1,309.62 397.7,309.62 398.3,309.62 398.9,309.63 399.5,309.63 400.1,309.63 400.7,309.64 401.3,309.64 401.9,309.64 402.5,309.65 403.1,309.65 403.7,309.65 404.3,309.66 404.9,309.66 405.5,309.66 406.1,309.67 406.7,309.67 407.3,309.67 407.9,309.68 408.5,309.68 409.1,309.68 409.7,309.69 410.3,309.69 410.9,309.69 411.5,309.7 412.1,309.7 412.7,309.7 413.3,309.71 413.9,309.71 414.5,309.71 415.1,309.72 415.7,309.72 416.3,309.72 416.9,309.73 417.5,309.73 418.1,309.73 418.7,309.74 419.3,309.74 419.9,309.74 420.5,309.75 421.1,309.75 421.7,309.75 422.3,309.76 422.9,309.76 423.5,309.76 424.1,309.77 424.7,309.77 425.3,309.77 425.9,309.78 426.5,309.78 427.1,309.78 427.7,309.79 428.3,309.79 428.9,309.79 429.5,309.8 430.1,309.81 430.7,309.85 431.3,309.89 431.9,309.92 432.5,309.96 433.1,310 433.7,310.04 434.3,310.08 434.9,310.12 435.5,310.16 436.1,310.2" fill="none" stroke="#1aa0a0" stroke-width="1.2" stroke-linejoin="round" stroke-linecap="round" />
<polyline points="304.1,309.1 304.7,309.11 305.3,309.11 305.9,309.11 306.5,309.12 307.1,309.12 307.7,309.12 308.3,309.13 308.9,309.13 309.5,309.13 310.1,309.14 310.7,309.14 311.3,309.14 311.9,309.15 312.5,309.15 313.1,309.15 313.7,309.16 314.3,309.16 314.9,309.16 315.5,309.17 316.1,309.17 316.7,309.17 317.3,309.18 317.9,309.18 318.5,309.18 319.1,309.18 319.7,309.19 320.3,309.19 320.9,309.19 321.5,309.19 322.1,309.19 322.7,309.19 323.3,309.19 323.9,309.19 324.5,309.18 325.1,309.18 325.7,309.17 326.3,309.16 326.9,309.15 327.5,309.14 328.1,309.12 328.7,309.1 329.3,309.07 329.9,309.04 330.5,309 331.1,308.95 331.7,308.9 332.3,308.84 332.9,308.76 333.5,308.67 334.1,308.57 334.7,308.46 335.3,308.32 335.9,308.17 336.5,308 337.1,307.81 337.7,307.59 338.3,307.35 338.9,307.08 339.5,306.78 340.1,306.45 340.7,306.09 341.3,305.7 341.9,305.27 342.5,304.81 343.1,304.31 343.7,303.78 344.3,303.22 344.9,302.62 345.5,301.99 346.1,301.34 346.7,300.65 347.3,299.95 347.9,299.22 348.5,298.48 349.1,297.72 349.7,296.96 350.3,296.2 350.9,295.45 351.5,294.71 352.1,293.98 352.7,293.28 353.3,292.62 353.9,291.99 354.5,291.4 355.1,290.86 355.7,290.38 356.3,289.96 356.9,289.61 357.5,289.32 358.1,289.11 358.7,288.97 359.3,288.91 359.9,288.93 360.5,289.02 361.1,289.19 361.7,289.44 362.3,289.75 362.9,290.13 363.5,290.58 364.1,291.09 364.7,291.65 365.3,292.26 365.9,292.91 366.5,293.59 367.1,294.31 367.7,295.04 368.3,295.8 368.9,296.56 369.5,297.33 370.1,298.09 370.7,298.85 371.3,299.59 371.9,300.32 372.5,301.03 373.1,301.71 373.7,302.36 374.3,302.99 374.9,303.58 375.5,304.14 376.1,304.67 376.7,305.16 377.3,305.61 377.9,306.04 378.5,306.42 379.1,306.78 379.7,307.11 380.3,307.4 380.9,307.67 381.5,307.91 382.1,308.13 382.7,308.32 383.3,308.49 383.9,308.64 384.5,308.77 385.1,308.89 385.7,308.99 386.3,309.08 386.9,309.16 387.5,309.23 388.1,309.29 388.7,309.34 389.3,309.38 389.9,309.42 390.5,309.45 391.1,309.48 391.7,309.5 392.3,309.52 392.9,309.54 393.5,309.55 394.1,309.56 394.7,309.57 395.3,309.58 395.9,309.59 396.5,309.6 397.1,309.61 397.7,309.61 398.3,309.62 398.9,309.62 399.5,309.63 400.1,309.63 400.7,309.64 401.3,309.64 401.9,309.64 402.5,309.65 403.1,309.65 403.7,309.65 404.3,309.66 404.9,309.66 405.5,309.66 406.1,309.67 406.7,309.67 407.3,309.67 407.9,309.68 408.5,309.68 409.1,309.68 409.7,309.69 410.3,309.69 410.9,309.69 411.5,309.7 412.1,309.7 412.7,309.7 413.3,309.71 413.9,309.71 414.5,309.71 415.1,309.72 415.7,309.72 416.3,309.72 416.9,309.73 417.5,309.73 418.1,309.73 418.7,309.74 419.3,309.74 419.9,309.74 420.5,309.75 421.1,309.75 421.7,309.75 422.3,309.76 422.9,309.76 423.5,309.76 424.1,309.77 424.7,309.77 425.3,309.77 425.9,309.78 426.5,309.78 427.1,309.78 427.7,309.79 428.3,309.79 428.9,309.79 429.5,309.8 430.1,309.81 430.7,309.85 431.3,309.89 431.9,309.92 432.5,309.96 433.1,310 433.7,310.04 434.3,310.08 434.9,310.12 435.5,310.16 436.1,310.2 436.7,310.24 437.3,310.28 437.9,310.32 438.5,310.36 439.1,310.4 439.7,310.44 440.3,310.47 440.9,310.51 441.5,310.55 442.1,310.59 442.7,310.63 443.3,310.67 443.9,310.71 444.5,310.75 445.1,310.79 445.7,310.83 446.3,310.87 446.9,310.91 447.5,310.95 448.1,310.99 448.7,311.03 449.3,311.06 449.9,311.1 450.5,311.14 451.1,311.18 451.7,311.22 452.3,311.26 452.9,311.3 453.5,311.34 454.1,311.38 454.7,311.42 455.3,311.46 455.9,311.5 456.5,311.54 457.1,311.58 457.7,311.61 458.3,311.65 458.9,311.69 459.5,311.73 460.1,311.77 460.7,311.81 461.3,311.85 461.9,311.89 462.5,311.93" fill="none" stroke="#b08a18" stroke-width="1.2" stroke-linejoin="round" stroke-linecap="round" />
<polyline points="360.5,309.37 361.1,309.37 361.7,309.37 362.3,309.37 362.9,309.38 363.5,309.38 364.1,309.38 364.7,309.38 365.3,309.39 365.9,309.39 366.5,309.39 367.1,309.4 367.7,309.4 368.3,309.4 368.9,309.4 369.5,309.41 370.1,309.41 370.7,309.41 371.3,309.41 371.9,309.42 372.5,309.42 373.1,309.42 373.7,309.42 374.3,309.42 374.9,309.43 375.5,309.43 376.1,309.43 376.7,309.43 377.3,309.44 377.9,309.44 378.5,309.44 379.1,309.44 379.7,309.45 380.3,309.45 380.9,309.45 381.5,309.45 382.1,309.45 382.7,309.46 383.3,309.46 383.9,309.46 384.5,309.46 385.1,309.46 385.7,309.47 386.3,309.47 386.9,309.47 387.5,309.47 388.1,309.47 388.7,309.47 389.3,309.48 389.9,309.48 390.5,309.48 391.1,309.48 391.7,309.48 392.3,309.48 392.9,309.48 393.5,309.49 394.1,309.49 394.7,309.49 395.3,309.49 395.9,309.49 396.5,309.49 397.1,309.49 397.7,309.49 398.3,309.49 398.9,309.49 399.5,309.5 400.1,309.5 400.7,309.5 401.3,309.5 401.9,309.5 402.5,309.5 403.1,309.5 403.7,309.5 404.3,309.5 404.9,309.5 405.5,309.5 406.1,309.5 406.7,309.5 407.3,309.5 407.9,309.49 408.5,309.49 409.1,309.49 409.7,309.49 410.3,309.49 410.9,309.49 411.5,309.49 412.1,309.48 412.7,309.48 413.3,309.48 413.9,309.48 414.5,309.47 415.1,309.47 415.7,309.47 416.3,309.46 416.9,309.46 417.5,309.45 418.1,309.45 418.7,309.44 419.3,309.44 419.9,309.43 420.5,309.42 421.1,309.42 421.7,309.41 422.3,309.4 422.9,309.39 423.5,309.37 424.1,309.36 424.7,309.35 425.3,309.33 425.9,309.31 426.5,309.29 427.1,309.26 427.7,309.23 428.3,309.2 428.9,309.16 429.5,309.11 430.1,309.07 430.7,309.04 431.3,309.01 431.9,308.97 432.5,308.92 433.1,308.85 433.7,308.77 434.3,308.68 434.9,308.57 435.5,308.44 436.1,308.28 436.7,308.11 437.3,307.91 437.9,307.68 438.5,307.43 439.1,307.14 439.7,306.83 440.3,306.48 440.9,306.1 441.5,305.68 442.1,305.23 442.7,304.74 443.3,304.22 443.9,303.66 444.5,303.07 445.1,302.45 445.7,301.81 446.3,301.13 446.9,300.44 447.5,299.73 448.1,299 448.7,298.27 449.3,297.54 449.9,296.81 450.5,296.1 451.1,295.4 451.7,294.74 452.3,294.11 452.9,293.53 453.5,293 454.1,292.54 454.7,292.14 455.3,291.82 455.9,291.59 456.5,291.44 457.1,291.39 457.7,291.43 458.3,291.56 458.9,291.78 459.5,292.1 460.1,292.49 460.7,292.97 461.3,293.51 461.9,294.12 462.5,294.78 463.1,295.49 463.7,296.23 464.3,297 464.9,297.79 465.5,298.6 466.1,299.41 466.7,300.22 467.3,301.02 467.9,301.81 468.5,302.59 469.1,303.34 469.7,304.07 470.3,304.76 470.9,305.43 471.5,306.07 472.1,306.67 472.7,307.23 473.3,307.76 473.9,308.26 474.5,308.72 475.1,309.15 475.7,309.54 476.3,309.9 476.9,310.24 477.5,310.54 478.1,310.82 478.7,311.07 479.3,311.31 479.9,311.51 480.5,311.71 481.1,311.88 481.7,312.04 482.3,312.18 482.9,312.31 483.5,312.43 484.1,312.54 484.7,312.64 485.3,312.74 485.9,312.83 486.5,312.91 487.1,312.98 487.7,313.06 488.3,313.12 488.9,313.19 489.5,313.25 490.1,313.31 490.7,313.37 491.3,313.43 491.9,313.48 492.5,313.53 493.1,313.59 493.7,313.64 494.3,313.69 494.9,313.74 495.5,313.79 496.1,313.84 496.7,313.88 497.3,313.93 497.9,313.98 498.5,314.03 499.1,314.07 499.7,314.12 500.3,314.16 500.9,314.21 501.5,314.26 502.1,314.3 502.7,314.35 503.3,314.39 503.9,314.43 504.5,314.48 505.1,314.52 505.7,314.57 506.3,314.61 506.9,314.65 507.5,314.7 508.1,314.74 508.7,314.78 509.3,314.83 509.9,314.87 510.5,314.91 511.1,314.96 511.7,315 512.3,315.04 512.9,315.08 513.5,315.13 514.1,315.17 514.7,315.21 515.3,315.25 515.9,315.29" fill="none" stroke="#5a3028" stroke-width="1.2" stroke-linejoin="round" stroke-linecap="round" />
<polyline points="423.5,309.76 424.1,309.77 424.7,309.77 425.3,309.77 425.9,309.78 426.5,309.78 427.1,309.78 427.7,309.79 428.3,309.79 428.9,309.79 429.5,309.8 430.1,309.81 430.7,309.85 431.3,309.89 431.9,309.92 432.5,309.96 433.1,310 433.7,310.04 434.3,310.08 434.9,310.12 435.5,310.16 436.1,310.2 436.7,310.24 437.3,310.28 437.9,310.32 438.5,310.36 439.1,310.4 439.7,310.44 440.3,310.47 440.9,310.51 441.5,310.55 442.1,310.59 442.7,310.63 443.3,310.67 443.9,310.71 444.5,310.75 445.1,310.79 445.7,310.83 446.3,310.87 446.9,310.91 447.5,310.94 448.1,310.98 448.7,311.01 449.3,311.04 449.9,311.07 450.5,311.08 451.1,311.08 451.7,311.05 452.3,310.98 452.9,310.85 453.5,310.65 454.1,310.34 454.7,309.9 455.3,309.29 455.9,308.47 456.5,307.42 457.1,306.1 457.7,304.53 458.3,302.7 458.9,300.65 459.5,298.45 460.1,296.18 460.7,293.95 461.3,291.9 461.9,290.14 462.5,288.8 463.1,287.97 463.7,287.71 464.3,288.04 464.9,288.96 465.5,290.38 466.1,292.21 466.7,294.35 467.3,296.65 467.9,299 468.5,301.28 469.1,303.41 469.7,305.31 470.3,306.97 470.9,308.36 471.5,309.49 472.1,310.39 472.7,311.08 473.3,311.6 473.9,311.99 474.5,312.27 475.1,312.47 475.7,312.62 476.3,312.73 476.9,312.81 477.5,312.88 478.1,312.93 478.7,312.98 479.3,313.02 479.9,313.07 480.5,313.11 481.1,313.15 481.7,313.19 482.3,313.23 482.9,313.27 483.5,313.31 484.1,313.34 484.7,313.38 485.3,313.42 485.9,313.46 486.5,313.5 487.1,313.54 487.7,313.58 488.3,313.62 488.9,313.66 489.5,313.7 490.1,313.74 490.7,313.78 491.3,313.82 491.9,313.86 492.5,313.89 493.1,313.93 493.7,313.97 494.3,314.01 494.9,314.05 495.5,314.09 496.1,314.13 496.7,314.17 497.3,314.21 497.9,314.25 498.5,314.29 499.1,314.33 499.7,314.37 500.3,314.41 500.9,314.45 501.5,314.48 502.1,314.52 502.7,314.56 503.3,314.6 503.9,314.64" fill="none" stroke="#8a2be2" stroke-width="1.2" stroke-linejoin="round" stroke-linecap="round" />
<polyline points="389.3,309.49 389.9,309.49 390.5,309.5 391.1,309.5 391.7,309.5 392.3,309.5 392.9,309.51 393.5,309.51 394.1,309.51 394.7,309.51 395.3,309.51 395.9,309.52 396.5,309.52 397.1,309.52 397.7,309.52 398.3,309.52 398.9,309.53 399.5,309.53 400.1,309.53 400.7,309.53 401.3,309.53 401.9,309.53 402.5,309.54 403.1,309.54 403.7,309.54 404.3,309.54 404.9,309.54 405.5,309.54 406.1,309.55 406.7,309.55 407.3,309.55 407.9,309.55 408.5,309.55 409.1,309.55 409.7,309.55 410.3,309.55 410.9,309.56 411.5,309.56 412.1,309.56 412.7,309.56 413.3,309.56 413.9,309.56 414.5,309.56 415.1,309.56 415.7,309.56 416.3,309.56 416.9,309.56 417.5,309.56 418.1,309.56 418.7,309.57 419.3,309.57 419.9,309.57 420.5,309.57 421.1,309.57 421.7,309.57 422.3,309.57 422.9,309.56 423.5,309.56 424.1,309.56 424.7,309.56 425.3,309.56 425.9,309.56 426.5,309.56 427.1,309.56 427.7,309.56 428.3,309.56 428.9,309.55 429.5,309.55 430.1,309.56 430.7,309.59 431.3,309.62 431.9,309.66 432.5,309.69 433.1,309.72 433.7,309.76 434.3,309.79 434.9,309.82 435.5,309.85 436.1,309.89 436.7,309.92 437.3,309.95 437.9,309.98 438.5,310.01 439.1,310.04 439.7,310.07 440.3,310.1 440.9,310.13 441.5,310.16 442.1,310.19 442.7,310.22 443.3,310.24 443.9,310.27 444.5,310.3 445.1,310.32 445.7,310.35 446.3,310.37 446.9,310.39 447.5,310.41 448.1,310.43 448.7,310.45 449.3,310.46 449.9,310.47 450.5,310.48 451.1,310.48 451.7,310.48 452.3,310.48 452.9,310.46 453.5,310.44 454.1,310.41 454.7,310.36 455.3,310.31 455.9,310.23 456.5,310.14 457.1,310.03 457.7,309.89 458.3,309.72 458.9,309.51 459.5,309.27 460.1,308.99 460.7,308.66 461.3,308.27 461.9,307.82 462.5,307.3 463.1,306.71 463.7,306.04 464.3,305.28 464.9,304.42 465.5,303.46 466.1,302.39 466.7,301.21 467.3,299.91 467.9,298.48 468.5,296.93 469.1,295.25 469.7,293.44 470.3,291.51 470.9,289.46 471.5,287.29 472.1,285.01 472.7,282.63 473.3,280.17 473.9,277.63 474.5,275.04 475.1,272.42 475.7,269.78 476.3,267.16 476.9,264.56 477.5,262.03 478.1,259.59 478.7,257.26 479.3,255.08 479.9,253.07 480.5,251.26 481.1,249.68 481.7,248.34 482.3,247.27 482.9,246.5 483.5,246.02 484.1,245.85 484.7,245.99 485.3,246.45 485.9,247.21 486.5,248.26 487.1,249.58 487.7,251.17 488.3,252.98 488.9,255.01 489.5,257.21 490.1,259.57 490.7,262.06 491.3,264.64 491.9,267.3 492.5,269.99 493.1,272.71 493.7,275.42 494.3,278.1 494.9,280.73 495.5,283.3 496.1,285.78 496.7,288.18 497.3,290.46 497.9,292.64 498.5,294.69 499.1,296.62 499.7,298.42 500.3,300.09 500.9,301.63 501.5,303.05 502.1,304.35 502.7,305.54 503.3,306.61 503.9,307.58 504.5,308.45 505.1,309.23 505.7,309.93 506.3,310.55 506.9,311.1 507.5,311.59 508.1,312.02 508.7,312.39 509.3,312.73 509.9,313.02 510.5,313.28 511.1,313.51 511.7,313.71 512.3,313.89 512.9,314.04 513.5,314.19 514.1,314.31 514.7,314.43 515.3,314.53 515.9,314.63" fill="none" stroke="#2a8656" stroke-width="1.6" stroke-linejoin="round" stroke-linecap="round" />
<polyline points="304.1,309.4 304.7,309.41 305.3,309.41 305.9,309.41 306.5,309.42 307.1,309.42 307.7,309.42 308.3,309.43 308.9,309.43 309.5,309.43 310.1,309.44 310.7,309.44 311.3,309.44 311.9,309.45 312.5,309.45 313.1,309.45 313.7,309.46 314.3,309.46 314.9,309.46 315.5,309.47 316.1,309.47 316.7,309.47 317.3,309.48 317.9,309.48 318.5,309.48 319.1,309.49 319.7,309.49 320.3,309.49 320.9,309.5 321.5,309.5 322.1,309.5 322.7,309.51 323.3,309.51 323.9,309.51 324.5,309.52 325.1,309.52 325.7,309.52 326.3,309.53 326.9,309.53 327.5,309.53 328.1,309.54 328.7,309.54 329.3,309.54 329.9,309.55 330.5,309.55 331.1,309.55 331.7,309.56 332.3,309.56 332.9,309.56 333.5,309.57 334.1,309.57 334.7,309.57 335.3,309.58 335.9,309.58 336.5,309.58 337.1,309.59 337.7,309.59 338.3,309.59 338.9,309.6 339.5,309.6 340.1,309.6 340.7,309.61 341.3,309.61 341.9,309.61 342.5,309.62 343.1,309.62 343.7,309.62 344.3,309.63 344.9,309.63 345.5,309.63 346.1,309.64 346.7,309.64 347.3,309.64 347.9,309.65 348.5,309.65 349.1,309.65 349.7,309.66 350.3,309.66 350.9,309.66 351.5,309.67 352.1,309.67 352.7,309.67 353.3,309.68 353.9,309.68 354.5,309.68 355.1,309.69 355.7,309.69 356.3,309.69 356.9,309.7 357.5,309.7 358.1,309.7 358.7,309.71 359.3,309.71 359.9,309.71 360.5,309.72 361.1,309.72 361.7,309.72 362.3,309.73 362.9,309.73 363.5,309.73 364.1,309.74 364.7,309.74 365.3,309.74 365.9,309.75 366.5,309.75 367.1,309.75 367.7,309.76 368.3,309.76 368.9,309.76 369.5,309.77 370.1,309.77 370.7,309.77 371.3,309.78 371.9,309.78 372.5,309.78 373.1,309.79 373.7,309.79 374.3,309.79 374.9,309.8 375.5,309.8 376.1,309.8 376.7,309.81 377.3,309.81 377.9,309.81 378.5,309.82 379.1,309.82 379.7,309.82 380.3,309.83 380.9,309.83 381.5,309.83 382.1,309.84 382.7,309.84 383.3,309.84 383.9,309.85 384.5,309.85 385.1,309.85 385.7,309.86 386.3,309.86 386.9,309.86 387.5,309.87 388.1,309.87 388.7,309.87 389.3,309.87 389.9,309.88 390.5,309.88 391.1,309.88 391.7,309.89 392.3,309.89 392.9,309.89 393.5,309.9 394.1,309.9 394.7,309.9 395.3,309.91 395.9,309.91 396.5,309.91 397.1,309.92 397.7,309.92 398.3,309.92 398.9,309.93 399.5,309.93 400.1,309.93 400.7,309.94 401.3,309.94 401.9,309.94 402.5,309.95 403.1,309.95 403.7,309.95 404.3,309.96 404.9,309.96 405.5,309.96 406.1,309.97 406.7,309.97 407.3,309.97 407.9,309.98 408.5,309.98 409.1,309.98 409.7,309.99 410.3,309.99 410.9,309.99 411.5,310 412.1,310 412.7,310 413.3,310.01 413.9,310.01 414.5,310.01 415.1,310.02 415.7,310.02 416.3,310.02 416.9,310.03 417.5,310.03 418.1,310.03 418.7,310.04 419.3,310.04 419.9,310.04 420.5,310.05 421.1,310.05 421.7,310.05 422.3,310.06 422.9,310.06 423.5,310.06 424.1,310.07 424.7,310.07 425.3,310.07 425.9,310.08 426.5,310.08 427.1,310.08 427.7,310.09 428.3,310.09 428.9,310.09 429.5,310.1 430.1,310.11 430.7,310.15 431.3,310.19 431.9,310.22" fill="none" stroke="#4a2a3a" stroke-width="1.1" stroke-linejoin="round" stroke-linecap="round" />
<polyline points="425.3,309.77 425.9,309.78 426.5,309.78 427.1,309.78 427.7,309.79 428.3,309.79 428.9,309.79 429.5,309.8 430.1,309.81 430.7,309.85 431.3,309.89 431.9,309.92 432.5,309.96 433.1,310 433.7,310.04 434.3,310.08 434.9,310.12 435.5,310.16 436.1,310.2 436.7,310.24 437.3,310.28 437.9,310.32 438.5,310.36 439.1,310.4 439.7,310.44 440.3,310.47 440.9,310.51 441.5,310.55 442.1,310.59 442.7,310.63 443.3,310.67 443.9,310.71 444.5,310.75 445.1,310.79 445.7,310.83 446.3,310.87 446.9,310.91 447.5,310.95 448.1,310.99 448.7,311.03 449.3,311.06 449.9,311.1 450.5,311.14 451.1,311.18 451.7,311.22 452.3,311.26 452.9,311.3 453.5,311.34 454.1,311.38 454.7,311.42 455.3,311.46 455.9,311.5 456.5,311.54 457.1,311.58 457.7,311.61 458.3,311.65 458.9,311.69 459.5,311.73 460.1,311.77 460.7,311.81 461.3,311.85 461.9,311.89 462.5,311.93 463.1,311.97 463.7,312.01 464.3,312.05 464.9,312.09 465.5,312.13 466.1,312.17 466.7,312.2 467.3,312.24 467.9,312.28 468.5,312.32 469.1,312.36 469.7,312.4 470.3,312.44 470.9,312.48 471.5,312.52 472.1,312.56 472.7,312.6 473.3,312.64 473.9,312.68 474.5,312.72 475.1,312.75 475.7,312.79 476.3,312.83 476.9,312.87 477.5,312.91 478.1,312.95 478.7,312.99 479.3,313.03 479.9,313.07 480.5,313.11 481.1,313.15 481.7,313.19 482.3,313.23 482.9,313.27 483.5,313.31 484.1,313.34 484.7,313.38 485.3,313.42 485.9,313.46 486.5,313.5 487.1,313.54 487.7,313.58 488.3,313.62 488.9,313.66 489.5,313.7 490.1,313.74 490.7,313.78 491.3,313.82 491.9,313.86 492.5,313.89 493.1,313.93 493.7,313.97 494.3,314.01 494.9,314.05 495.5,314.09 496.1,314.13 496.7,314.17 497.3,314.21 497.9,314.25 498.5,314.29 499.1,314.33 499.7,314.37 500.3,314.41 500.9,314.45 501.5,314.48 502.1,314.52 502.7,314.56 503.3,314.6 503.9,314.64 504.5,314.68 505.1,314.72 505.7,314.76 506.3,314.8 506.9,314.84 507.5,314.88 508.1,314.92 508.7,314.96 509.3,315 509.9,315.03 510.5,315.07 511.1,315.11 511.7,315.15 512.3,315.19 512.9,315.23 513.5,315.27 514.1,315.31 514.7,315.35 515.3,315.39 515.9,315.43" fill="none" stroke="#1aa0a0" stroke-width="1.3" stroke-linejoin="round" stroke-linecap="round" />
<polyline points="318.5,399.2 319.1,399.24 319.7,399.28 320.3,399.32 320.9,399.36 321.5,399.41 322.1,399.45 322.7,399.49 323.3,399.53 323.9,399.57 324.5,399.61 325.1,399.65 325.7,399.69 326.3,399.73 326.9,399.77 327.5,399.81 328.1,399.85 328.7,399.89 329.3,399.93 329.9,399.97 330.5,400.01 331.1,400.05 331.7,400.09 332.3,400.13 332.9,400.17 333.5,400.21 334.1,400.25 334.7,400.29 335.3,400.33 335.9,400.37 336.5,400.41 337.1,400.45 337.7,400.49 338.3,400.53 338.9,400.57 339.5,400.61 340.1,400.65 340.7,400.69 341.3,400.73 341.9,400.77 342.5,400.81 343.1,400.85 343.7,400.89 344.3,400.93 344.9,400.97 345.5,401.01 346.1,401.05 346.7,401.09 347.3,401.13 347.9,401.17 348.5,401.21 349.1,401.25 349.7,401.29 350.3,401.33 350.9,401.37 351.5,401.41 352.1,401.45 352.7,401.49 353.3,401.53 353.9,401.57 354.5,401.61 355.1,401.65 355.7,401.69 356.3,401.74 356.9,401.78 357.5,401.82 358.1,401.86 358.7,401.9 359.3,401.94 359.9,401.98 360.5,402.02 361.1,402.06 361.7,402.1 362.3,402.14 362.9,402.18 363.5,402.22 364.1,402.26 364.7,402.3 365.3,402.34 365.9,402.38 366.5,402.42 367.1,402.46 367.7,402.5 368.3,402.54 368.9,402.58 369.5,402.62 370.1,402.66 370.7,402.7 371.3,402.74 371.9,402.78 372.5,402.82 373.1,402.86 373.7,402.9 374.3,402.94 374.9,402.98 375.5,403.02 376.1,403.06 376.7,403.1 377.3,403.14 377.9,403.18 378.5,403.22 379.1,403.26 379.7,403.3 380.3,403.34 380.9,403.38 381.5,403.42 382.1,403.46 382.7,403.5 383.3,403.54 383.9,403.58 384.5,403.62 385.1,403.66 385.7,403.7 386.3,403.74 386.9,403.78 387.5,403.82 388.1,403.86 388.7,403.9 389.3,403.94 389.9,403.98 390.5,404.02 391.1,404.07 391.7,404.11 392.3,404.15 392.9,404.19 393.5,404.23 394.1,404.27 394.7,404.31 395.3,404.35 395.9,404.39 396.5,404.43 397.1,404.47 397.7,404.51 398.3,404.55 398.9,404.59 399.5,404.63 400.1,404.67 400.7,404.71 401.3,404.75 401.9,404.79 402.5,404.83 403.1,404.87 403.7,404.91 404.3,404.95 404.9,404.99 405.5,405.03 406.1,405.07 406.7,405.11 407.3,405.15 407.9,405.19 408.5,405.23 409.1,405.27 409.7,405.31 410.3,405.35 410.9,405.39 411.5,405.43 412.1,405.47 412.7,405.51 413.3,405.55 413.9,405.59 414.5,405.63 415.1,405.67 415.7,405.71 416.3,405.75 416.9,405.79 417.5,405.83 418.1,405.87 418.7,405.91 419.3,405.95 419.9,405.99 420.5,406.03 421.1,406.06 421.7,406.1 422.3,406.13 422.9,406.17 423.5,406.2 424.1,406.24 424.7,406.27 425.3,406.31 425.9,406.34 426.5,406.38 427.1,406.41 427.7,406.44 428.3,406.48 428.9,406.51 429.5,406.55 430.1,406.58 430.7,406.62 431.3,406.65 431.9,406.69 432.5,406.72 433.1,406.76 433.7,406.79 434.3,406.83 434.9,406.86 435.5,406.89 436.1,406.93 436.7,406.96 437.3,407 437.9,407.03 438.5,407.07 439.1,407.1 439.7,407.14 440.3,407.17 440.9,407.21 441.5,407.24 442.1,407.28 442.7,407.31 443.3,407.35 443.9,407.38 444.5,407.41 445.1,407.45 445.7,407.48 446.3,407.52 446.9,407.55 447.5,407.59 448.1,407.62 448.7,407.66 449.3,407.69 449.9,407.73 450.5,407.76 451.1,407.8 451.7,407.83 452.3,407.86 452.9,407.9 453.5,407.93 454.1,407.97 454.7,408 455.3,408.04 455.9,408.07 456.5,408.11 457.1,408.14 457.7,408.18 458.3,408.21 458.9,408.25 459.5,408.28 460.1,408.32 460.7,408.35 461.3,408.38 461.9,408.42 462.5,408.45 463.1,408.49 463.7,408.52 464.3,408.56 464.9,408.59 465.5,408.63 466.1,408.66 466.7,408.7 467.3,408.73 467.9,408.77 468.5,408.8 469.1,408.83 469.7,408.87 470.3,408.9 470.9,408.94 471.5,408.97 472.1,409.01 472.7,409.04 473.3,409.08 473.9,409.11 474.5,409.15 475.1,409.18 475.7,409.22 476.3,409.25 476.9,409.28 477.5,409.32 478.1,409.35 478.7,409.39 479.3,409.42 479.9,409.46 480.5,409.49 481.1,409.53 481.7,409.56 482.3,409.6 482.9,409.63 483.5,409.67 484.1,409.7 484.7,409.74 485.3,409.77 485.9,409.8 486.5,409.84 487.1,409.87 487.7,409.91 488.3,409.94 488.9,409.98 489.5,410.01 490.1,410.05 490.7,410.08 491.3,410.12 491.9,410.15 492.5,410.19 493.1,410.22 493.7,410.25 494.3,410.29 494.9,410.32 495.5,410.36 496.1,410.39 496.7,410.43 497.3,410.46 497.9,410.5 498.5,410.53 499.1,410.57 499.7,410.6 500.3,410.64 500.9,410.67 501.5,410.71 502.1,410.74 502.7,410.77 503.3,410.81 503.9,410.84 504.5,410.88 505.1,410.91 505.7,410.95 506.3,410.98 506.9,411.02 507.5,411.05 508.1,411.09 508.7,411.12 509.3,411.16 509.9,411.19 510.5,411.22 511.1,411.26 511.7,411.29 512.3,411.33 512.9,411.36 513.5,411.4 514.1,411.43 514.7,411.47 515.3,411.5 515.9,411.54" fill="none" stroke="#5a3028" stroke-width="1.0" stroke-linejoin="round" stroke-linecap="round" />
<polyline points="304.1,397.49 304.7,398.33 305.3,398 305.9,398.25 306.5,398.3 307.1,397.92 307.7,398.16 308.3,398.23 308.9,398.5 309.5,398.08 310.1,398.54 310.7,398.43 311.3,398.38 311.9,398.97 312.5,398.62 313.1,398.64 313.7,398.49 314.3,398.99 314.9,399.03 315.5,397.91 316.1,398.1 316.7,398.21 317.3,397.83 317.9,398.39 318.5,398.59 319.1,398.36 319.7,399.29 320.3,398.96 320.9,398.2 321.5,398.48 322.1,398.98 322.7,398.18 323.3,398.01 323.9,398.11 324.5,398.36 325.1,398.64 325.7,398.22 326.3,398.05 326.9,398.32 327.5,397.88 328.1,397.94 328.7,397.87 329.3,398.76 329.9,397.45 330.5,397.13 331.1,397.91 331.7,398.26 332.3,397.34 332.9,397.71 333.5,397.83 334.1,396.87 334.7,397.83 335.3,396.9 335.9,397.6 336.5,396.42 337.1,396.71 337.7,396.93 338.3,396.67 338.9,396.41 339.5,396.22 340.1,396.13 340.7,396.15 341.3,396.47 341.9,395.92 342.5,396.62 343.1,395.61 343.7,395.58 344.3,395.29 344.9,396 345.5,395.62 346.1,395.28 346.7,395.43 347.3,395.66 347.9,395.31 348.5,395.35 349.1,394.93 349.7,395.54 350.3,395.12 350.9,395.1 351.5,394.89 352.1,395.2 352.7,395.11 353.3,395.19 353.9,395.15 354.5,395.17 355.1,395.31 355.7,394.08 356.3,395.58 356.9,395.74 357.5,395.64 358.1,395.66 358.7,395.43 359.3,394.93 359.9,394.9 360.5,395.56 361.1,396.74 361.7,395.68 362.3,396.46 362.9,396.25 363.5,396.62 364.1,396.11 364.7,396.66 365.3,396.23 365.9,396.48 366.5,396.91 367.1,396.92 367.7,396.74 368.3,397.41 368.9,397.05 369.5,397.58 370.1,397.63 370.7,397.58 371.3,397.54 371.9,398.03 372.5,398.38 373.1,398.29 373.7,399.37 374.3,398.27 374.9,399.63 375.5,398.91 376.1,399.67 376.7,399.41 377.3,399.83 377.9,399.83 378.5,400.44 379.1,401.15 379.7,400.29 380.3,400.85 380.9,401.03 381.5,401.22 382.1,400.29 382.7,401.47 383.3,401.26 383.9,402 384.5,401.07 385.1,402.04 385.7,402.99 386.3,401 386.9,402.66 387.5,401.82 388.1,402.18 388.7,402.33 389.3,402.8 389.9,402.75 390.5,402.44 391.1,403.16 391.7,403.05 392.3,402.88 392.9,403.31 393.5,403.61 394.1,402.96 394.7,403.49 395.3,403.76 395.9,404.11 396.5,404.28 397.1,403.6 397.7,403.66 398.3,404.98 398.9,404.43 399.5,403.87 400.1,403.36 400.7,403.53 401.3,404.08 401.9,403.97 402.5,404.8 403.1,404.33 403.7,405.2 404.3,404.99 404.9,404.69 405.5,404.01 406.1,404.63 406.7,404.87 407.3,405.1 407.9,405.61 408.5,404.89 409.1,405.32 409.7,405.13 410.3,405.63 410.9,405.28 411.5,405.99 412.1,405.22 412.7,404.94 413.3,405.14 413.9,404.71 414.5,405.47 415.1,405.44 415.7,405.48 416.3,406.08 416.9,404.91 417.5,405.42 418.1,405.95 418.7,406.26 419.3,405.71 419.9,405.64 420.5,405.96 421.1,405.98 421.7,406.16 422.3,406.12 422.9,405.62 423.5,405.62 424.1,406.81 424.7,406.18 425.3,406.75 425.9,406.82 426.5,406.07 427.1,406.65 427.7,407.58 428.3,406.05 428.9,405.77 429.5,405.43 430.1,406.35 430.7,405.53 431.3,407.04 431.9,406.27 432.5,405.45 433.1,405.23 433.7,404.59 434.3,404.37 434.9,404.35 435.5,403.18 436.1,402.9 436.7,401.76 437.3,401.94 437.9,400.55 438.5,399.78 439.1,398.09 439.7,397.19 440.3,395.77 440.9,394.65 441.5,392.35 442.1,390.29 442.7,388.53 443.3,388.29 443.9,385.87 444.5,382.56 445.1,381.61 445.7,379.85 446.3,377.68 446.9,376.55 447.5,375.54 448.1,374.22 448.7,372.43 449.3,373.04 449.9,371.5 450.5,371.92 451.1,371.92 451.7,371.32 452.3,372.78 452.9,372.83 453.5,374.1 454.1,375.42 454.7,375.87 455.3,376.3 455.9,377.77 456.5,378.31 457.1,379.14 457.7,379.68 458.3,380.1 458.9,379.83 459.5,380.32 460.1,378.96 460.7,378.41 461.3,376.12 461.9,374.25 462.5,372.53 463.1,369.38 463.7,366.76 464.3,363.8 464.9,360.89 465.5,357.29 466.1,353.77 466.7,351.25 467.3,348.25 467.9,344.62 468.5,343.51 469.1,341.5 469.7,339.5 470.3,337.52 470.9,336.89 471.5,336.68 472.1,337.36 472.7,337.84 473.3,339.45 473.9,341.75 474.5,345.28 475.1,347.68 475.7,351.52 476.3,355 476.9,359.03 477.5,362.57 478.1,366.36 478.7,370.53 479.3,374.96 479.9,378.88 480.5,382.18 481.1,385.6 481.7,388.14 482.3,391.5 482.9,394.1 483.5,396.47 484.1,398.1 484.7,399.76 485.3,401.88 485.9,403.56 486.5,404.11 487.1,405.52 487.7,406.73 488.3,406.88 488.9,407.8 489.5,408.95 490.1,408.53 490.7,408.99 491.3,410.12 491.9,410.45 492.5,409.71 493.1,409.63 493.7,409.78 494.3,410.66 494.9,410.34 495.5,410 496.1,410.94 496.7,410.35 497.3,410.35 497.9,410.11 498.5,411.5 499.1,410.5 499.7,409.79 500.3,410.88 500.9,410.79 501.5,410.32 502.1,411.04 502.7,410.31 503.3,410.59 503.9,411.47 504.5,410.84 505.1,411.5 505.7,410.57 506.3,411.65 506.9,411.74 507.5,411.51 508.1,411.41 508.7,410.59 509.3,411.16 509.9,411.07 510.5,410.79 511.1,411.54 511.7,411.53 512.3,411.67 512.9,411.05 513.5,410.74 514.1,411.33 514.7,411.72 515.3,411.71 515.9,411.98" fill="none" stroke="#2a2a2a" stroke-width="1.25" stroke-linejoin="round" stroke-linecap="round" />
<polyline points="451.1,371.82 451.7,372.06 452.3,372.52 452.9,373.16 453.5,373.95 454.1,374.85 454.7,375.8 455.3,376.77 455.9,377.7 456.5,378.53 457.1,379.21 457.7,379.7 458.3,379.93 458.9,379.88 459.5,379.51 460.1,378.78 460.7,377.69 461.3,376.22 461.9,374.39 462.5,372.21 463.1,369.7 463.7,366.92 464.3,363.91 464.9,360.74 465.5,357.48 466.1,354.2 466.7,350.98 467.3,347.92 467.9,345.09 468.5,342.58 469.1,340.45 469.7,338.77 470.3,337.59 470.9,336.95 471.5,336.88" fill="none" stroke="#d42020" stroke-width="1.9" stroke-linejoin="round" stroke-linecap="round" />
<polyline points="412.1,405.47 412.7,405.51 413.3,405.55 413.9,405.59 414.5,405.63 415.1,405.67 415.7,405.71 416.3,405.75 416.9,405.79 417.5,405.83 418.1,405.87 418.7,405.91 419.3,405.95 419.9,405.99 420.5,406.03 421.1,406.06 421.7,406.09 422.3,406.13 422.9,406.16 423.5,406.19 424.1,406.22 424.7,406.25 425.3,406.27 425.9,406.29 426.5,406.31 427.1,406.32 427.7,406.32 428.3,406.31 428.9,406.29 429.5,406.25 430.1,406.19 430.7,406.11 431.3,406 431.9,405.85 432.5,405.66 433.1,405.42 433.7,405.12 434.3,404.76 434.9,404.32 435.5,403.79 436.1,403.17 436.7,402.45 437.3,401.62 437.9,400.67 438.5,399.6 439.1,398.41 439.7,397.1 440.3,395.67 440.9,394.12 441.5,392.48 442.1,390.74 442.7,388.94 443.3,387.1 443.9,385.23 444.5,383.38 445.1,381.56 445.7,379.82 446.3,378.19 446.9,376.7 447.5,375.38 448.1,374.27 448.7,373.38 449.3,372.74 449.9,372.36 450.5,372.26 451.1,372.43 451.7,372.88 452.3,373.59 452.9,374.55 453.5,375.73 454.1,377.12 454.7,378.68 455.3,380.38 455.9,382.19 456.5,384.07 457.1,385.99 457.7,387.93 458.3,389.84 458.9,391.71 459.5,393.52 460.1,395.23 460.7,396.85 461.3,398.35 461.9,399.73 462.5,400.99 463.1,402.13 463.7,403.14 464.3,404.04 464.9,404.83 465.5,405.52 466.1,406.12 466.7,406.63 467.3,407.06 467.9,407.43 468.5,407.74 469.1,408 469.7,408.21 470.3,408.4 470.9,408.55 471.5,408.67 472.1,408.78 472.7,408.87 473.3,408.95 473.9,409.02 474.5,409.08 475.1,409.13 475.7,409.18 476.3,409.22 476.9,409.27 477.5,409.31 478.1,409.34 478.7,409.38 479.3,409.42 479.9,409.46 480.5,409.49 481.1,409.53 481.7,409.56 482.3,409.6 482.9,409.63 483.5,409.67 484.1,409.7 484.7,409.74 485.3,409.77 485.9,409.8 486.5,409.84 487.1,409.87 487.7,409.91 488.3,409.94" fill="none" stroke="#5a3028" stroke-width="1.2" stroke-linejoin="round" stroke-linecap="round" />
<polyline points="434.3,406.83 434.9,406.86 435.5,406.89 436.1,406.93 436.7,406.96 437.3,407 437.9,407.03 438.5,407.07 439.1,407.1 439.7,407.14 440.3,407.17 440.9,407.21 441.5,407.24 442.1,407.27 442.7,407.31 443.3,407.34 443.9,407.37 444.5,407.4 445.1,407.42 445.7,407.45 446.3,407.47 446.9,407.48 447.5,407.49 448.1,407.49 448.7,407.47 449.3,407.44 449.9,407.38 450.5,407.3 451.1,407.18 451.7,407.02 452.3,406.8 452.9,406.52 453.5,406.15 454.1,405.7 454.7,405.13 455.3,404.43 455.9,403.58 456.5,402.57 457.1,401.36 457.7,399.95 458.3,398.3 458.9,396.41 459.5,394.27 460.1,391.87 460.7,389.19 461.3,386.26 461.9,383.08 462.5,379.67 463.1,376.06 463.7,372.3 464.3,368.43 464.9,364.5 465.5,360.58 466.1,356.74 466.7,353.05 467.3,349.59 467.9,346.43 468.5,343.64 469.1,341.29 469.7,339.42 470.3,338.1 470.9,337.35 471.5,337.18 472.1,337.61 472.7,338.63 473.3,340.21 473.9,342.31 474.5,344.88 475.1,347.87 475.7,351.21 476.3,354.83 476.9,358.64 477.5,362.59 478.1,366.58 478.7,370.57 479.3,374.48 479.9,378.27 480.5,381.88 481.1,385.29 481.7,388.46 482.3,391.37 482.9,394.02 483.5,396.41 484.1,398.54 484.7,400.41 485.3,402.05 485.9,403.46 486.5,404.67 487.1,405.7 487.7,406.56 488.3,407.28 488.9,407.88 489.5,408.37 490.1,408.78 490.7,409.11 491.3,409.37 491.9,409.59 492.5,409.76 493.1,409.91 493.7,410.02 494.3,410.12 494.9,410.2 495.5,410.27 496.1,410.33 496.7,410.38 497.3,410.43 497.9,410.48 498.5,410.52 499.1,410.56 499.7,410.59 500.3,410.63 500.9,410.67 501.5,410.7 502.1,410.74 502.7,410.77 503.3,410.81 503.9,410.84 504.5,410.88 505.1,410.91 505.7,410.95 506.3,410.98 506.9,411.02 507.5,411.05 508.1,411.09" fill="none" stroke="#2a8656" stroke-width="1.6" stroke-linejoin="round" stroke-linecap="round" />
<polyline points="430.1,406.58 430.7,406.62 431.3,406.65 431.9,406.69 432.5,406.72 433.1,406.76 433.7,406.79 434.3,406.83 434.9,406.86 435.5,406.89 436.1,406.93 436.7,406.96 437.3,407 437.9,407.03 438.5,407.07 439.1,407.1 439.7,407.14 440.3,407.17 440.9,407.21 441.5,407.24 442.1,407.28 442.7,407.31 443.3,407.35 443.9,407.38 444.5,407.41 445.1,407.45 445.7,407.48 446.3,407.52 446.9,407.55 447.5,407.59 448.1,407.62 448.7,407.66 449.3,407.69 449.9,407.73 450.5,407.76 451.1,407.8 451.7,407.83 452.3,407.86 452.9,407.9 453.5,407.93 454.1,407.97 454.7,408 455.3,408.04 455.9,408.07 456.5,408.11 457.1,408.14 457.7,408.18 458.3,408.21 458.9,408.25 459.5,408.28 460.1,408.32 460.7,408.35 461.3,408.38 461.9,408.42 462.5,408.45 463.1,408.49 463.7,408.52 464.3,408.56 464.9,408.59 465.5,408.63 466.1,408.66 466.7,408.7 467.3,408.73 467.9,408.77 468.5,408.8 469.1,408.83 469.7,408.87 470.3,408.9 470.9,408.94 471.5,408.97" fill="none" stroke="#20a8a8" stroke-width="1.3" stroke-linejoin="round" stroke-linecap="round" />
<polyline points="318.5,398.56 319.1,398.55 319.7,398.54 320.3,398.52 320.9,398.51 321.5,398.49 322.1,398.47 322.7,398.44 323.3,398.41 323.9,398.38 324.5,398.34 325.1,398.31 325.7,398.27 326.3,398.22 326.9,398.17 327.5,398.12 328.1,398.07 328.7,398.01 329.3,397.95 329.9,397.88 330.5,397.82 331.1,397.75 331.7,397.67 332.3,397.6 332.9,397.52 333.5,397.44 334.1,397.36 334.7,397.27 335.3,397.19 335.9,397.1 336.5,397.01 337.1,396.92 337.7,396.83 338.3,396.73 338.9,396.64 339.5,396.55 340.1,396.46 340.7,396.37 341.3,396.28 341.9,396.19 342.5,396.1 343.1,396.01 343.7,395.93 344.3,395.85 344.9,395.77 345.5,395.69 346.1,395.62 346.7,395.56 347.3,395.49 347.9,395.43 348.5,395.38 349.1,395.33 349.7,395.29 350.3,395.25 350.9,395.22 351.5,395.19 352.1,395.18 352.7,395.16 353.3,395.16 353.9,395.16 354.5,395.17 355.1,395.18 355.7,395.21 356.3,395.24 356.9,395.28 357.5,395.32 358.1,395.37 358.7,395.43 359.3,395.5 359.9,395.57 360.5,395.65 361.1,395.74 361.7,395.84 362.3,395.94 362.9,396.05 363.5,396.16 364.1,396.28 364.7,396.4 365.3,396.54 365.9,396.67 366.5,396.81 367.1,396.96 367.7,397.11 368.3,397.26 368.9,397.41 369.5,397.57 370.1,397.74 370.7,397.9 371.3,398.07 371.9,398.24 372.5,398.41 373.1,398.58 373.7,398.75 374.3,398.92 374.9,399.1 375.5,399.27 376.1,399.44 376.7,399.61 377.3,399.78 377.9,399.95 378.5,400.12 379.1,400.29 379.7,400.45 380.3,400.61 380.9,400.77 381.5,400.93 382.1,401.09 382.7,401.24 383.3,401.39 383.9,401.53 384.5,401.68 385.1,401.82 385.7,401.95 386.3,402.09 386.9,402.22 387.5,402.35 388.1,402.47 388.7,402.59 389.3,402.71 389.9,402.82 390.5,402.93 391.1,403.04 391.7,403.15 392.3,403.25 392.9,403.35 393.5,403.44 394.1,403.54 394.7,403.63 395.3,403.71 395.9,403.8 396.5,403.88 397.1,403.96 397.7,404.04" fill="none" stroke="#b08a18" stroke-width="1.5" stroke-linejoin="round" stroke-linecap="round" />
<line x1="322" y1="398.44" x2="323" y2="397.9" stroke="#444" stroke-width="0.7" />
<line x1="326.1" y1="397.71" x2="327.1" y2="397.12" stroke="#444" stroke-width="0.7" />
<line x1="330.2" y1="396.5" x2="331.2" y2="395.23" stroke="#444" stroke-width="0.7" />
<line x1="334.3" y1="396.48" x2="335.3" y2="396.59" stroke="#444" stroke-width="0.7" />
<line x1="338.4" y1="396.16" x2="339.4" y2="396.05" stroke="#444" stroke-width="0.7" />
<line x1="342.5" y1="395.16" x2="343.5" y2="394.7" stroke="#444" stroke-width="0.7" />
<line x1="346.6" y1="394.63" x2="347.6" y2="394.74" stroke="#444" stroke-width="0.7" />
<line x1="350.7" y1="395.85" x2="351.7" y2="395.79" stroke="#444" stroke-width="0.7" />
<line x1="354.8" y1="394.09" x2="355.8" y2="394.73" stroke="#444" stroke-width="0.7" />
<line x1="358.9" y1="394.55" x2="359.9" y2="394.83" stroke="#444" stroke-width="0.7" />
<line x1="363" y1="395.44" x2="364" y2="395.48" stroke="#444" stroke-width="0.7" />
<line x1="367.1" y1="398.27" x2="368.1" y2="397.9" stroke="#444" stroke-width="0.7" />
<line x1="371.2" y1="397.35" x2="372.2" y2="397.53" stroke="#444" stroke-width="0.7" />
<line x1="375.3" y1="398.8" x2="376.3" y2="398.6" stroke="#444" stroke-width="0.7" />
<line x1="379.4" y1="399.62" x2="380.4" y2="399.92" stroke="#444" stroke-width="0.7" />
<line x1="383.5" y1="401.58" x2="384.5" y2="401.1" stroke="#444" stroke-width="0.7" />
<line x1="387.6" y1="401.4" x2="388.6" y2="402.31" stroke="#444" stroke-width="0.7" />
<line x1="391.7" y1="402.03" x2="392.7" y2="402.39" stroke="#444" stroke-width="0.7" />
<polyline points="304.1,490.99 304.7,491.48 305.3,490.94 305.9,491.52 306.5,491.54 307.1,491.65 307.7,491.01 308.3,491.41 308.9,490.98 309.5,491.57 310.1,491.16 310.7,490.95 311.3,491.42 311.9,491.75 312.5,491.54 313.1,491.08 313.7,491.26 314.3,491.62 314.9,492.05 315.5,491.33 316.1,491.08 316.7,491.1 317.3,491.49 317.9,491.7 318.5,491.9 319.1,491.86 319.7,492.2 320.3,491.09 320.9,491.76 321.5,491.06 322.1,491.82 322.7,492.3 323.3,491.28 323.9,492.12 324.5,492.02 325.1,491.41 325.7,491.49 326.3,492.56 326.9,491.98 327.5,492.33 328.1,491.86 328.7,491.5 329.3,492.22 329.9,491.64 330.5,492.39 331.1,491.48 331.7,492.4 332.3,492.32 332.9,492.11 333.5,492.64 334.1,491.78 334.7,492.59 335.3,492.11 335.9,492.7 336.5,492.3 337.1,492.36 337.7,492.5 338.3,492.26 338.9,492.76 339.5,491.99 340.1,492.41 340.7,493.33 341.3,491.91 341.9,492.4 342.5,492.1 343.1,492.64 343.7,493.29 344.3,492.75 344.9,493.02 345.5,492.69 346.1,492.84 346.7,492.66 347.3,493.27 347.9,492.75 348.5,492.92 349.1,492.62 349.7,493.34 350.3,492.98 350.9,492.38 351.5,493.25 352.1,492.7 352.7,492.54 353.3,492.97 353.9,492.69 354.5,492.7 355.1,492.56 355.7,493.17 356.3,493.11 356.9,492.86 357.5,493.35 358.1,493.13 358.7,493.38 359.3,493.89 359.9,493.11 360.5,492.73 361.1,493.37 361.7,493.26 362.3,493.44 362.9,493.55 363.5,493.31 364.1,493.05 364.7,492.73 365.3,493.17 365.9,493.73 366.5,493.89 367.1,493.09 367.7,493.41 368.3,493.71 368.9,493.87 369.5,493.82 370.1,493.23 370.7,493.62 371.3,494.06 371.9,493.4 372.5,493.59 373.1,493.8 373.7,493.55 374.3,494 374.9,493.49 375.5,494.23 376.1,494.09 376.7,494.26 377.3,493.99 377.9,494.12 378.5,494.02 379.1,493.93 379.7,493.79 380.3,493.93 380.9,493.92 381.5,493.54 382.1,494.13 382.7,494.51 383.3,493.8 383.9,493.56 384.5,494.08 385.1,493.91 385.7,494.38 386.3,494.15 386.9,494.03 387.5,494.13 388.1,494.43 388.7,493.8 389.3,494.26 389.9,494.06 390.5,494.24 391.1,494.12 391.7,494.12 392.3,494.49 392.9,494.2 393.5,493.82 394.1,493.9 394.7,494.29 395.3,494.03 395.9,494.95 396.5,494.14 397.1,494.58 397.7,495.17 398.3,494.6 398.9,494.38 399.5,494.91 400.1,494.14 400.7,494.34 401.3,495.15 401.9,494.48 402.5,494.78 403.1,495 403.7,494.95 404.3,495.01 404.9,495.26 405.5,495.06 406.1,494.74 406.7,494.54 407.3,494.55 407.9,495.18 408.5,495.07 409.1,495.31 409.7,494.77 410.3,495.6 410.9,495.53 411.5,495.34 412.1,495.09 412.7,495.29 413.3,495.2 413.9,495.22 414.5,495.19 415.1,495.59 415.7,495.41 416.3,495.15 416.9,495.27 417.5,495.04 418.1,495.62 418.7,495.14 419.3,495 419.9,495.5 420.5,495.4 421.1,495.44 421.7,495.37 422.3,495.44 422.9,495.13 423.5,495.44 424.1,495.36 424.7,495.54 425.3,495.98 425.9,495.56 426.5,495.78 427.1,495.92 427.7,496.02 428.3,495.8 428.9,495.98 429.5,495.21 430.1,495.36 430.7,495.95 431.3,495.68 431.9,495.56 432.5,495.99 433.1,495.4 433.7,495.7 434.3,496.03 434.9,496.56 435.5,496.33 436.1,495.97 436.7,496.22 437.3,496.11 437.9,496.35 438.5,496.05 439.1,496.27 439.7,496.6 440.3,496.22 440.9,496.27 441.5,496.51 442.1,495.54 442.7,495.88 443.3,495.79 443.9,495.25 444.5,495.19 445.1,494.54 445.7,494.7 446.3,493.91 446.9,492.63 447.5,491.35 448.1,490.59 448.7,489.13 449.3,487.81 449.9,485.71 450.5,483.83 451.1,481.38 451.7,478.67 452.3,476.91 452.9,473.61 453.5,471.27 454.1,468.65 454.7,465.7 455.3,463.77 455.9,461.7 456.5,461.02 457.1,459.55 457.7,458.98 458.3,458.93 458.9,459.03 459.5,459.78 460.1,461.71 460.7,463.36 461.3,465.44 461.9,466.93 462.5,469.75 463.1,471.97 463.7,474.31 464.3,476.59 464.9,478.03 465.5,479.52 466.1,480.45 466.7,481.44 467.3,481.6 467.9,481.29 468.5,479.71 469.1,478.34 469.7,476.58 470.3,473.78 470.9,471.05 471.5,466.72 472.1,463.59 472.7,459.31 473.3,454.9 473.9,449.79 474.5,445.79 475.1,441.21 475.7,437.56 476.3,434.3 476.9,430.65 477.5,428.65 478.1,427.15 478.7,425.96 479.3,425.53 479.9,425.9 480.5,428.36 481.1,430.85 481.7,432.84 482.3,436.53 482.9,440.77 483.5,444.81 484.1,449.28 484.7,453.6 485.3,458.9 485.9,463.05 486.5,467.97 487.1,472.13 487.7,475.68 488.3,479.63 488.9,482.82 489.5,484.9 490.1,488.18 490.7,489.62 491.3,491.49 491.9,492.96 492.5,494.45 493.1,495.63 493.7,496 494.3,496.78 494.9,497.04 495.5,497.27 496.1,497.81 496.7,498.14 497.3,497.9 497.9,498.35 498.5,498.51 499.1,498.4 499.7,498.28 500.3,497.79 500.9,497.98 501.5,498.87 502.1,498.92 502.7,498.53 503.3,498.41 503.9,498.64 504.5,497.98 505.1,498.3 505.7,498.18 506.3,498.82 506.9,498.99 507.5,499.06 508.1,498.8 508.7,499.17 509.3,499 509.9,498.96 510.5,498.57 511.1,499.02 511.7,499.32 512.3,499.06 512.9,498.89 513.5,498.8 514.1,499.27 514.7,498.82 515.3,498.62 515.9,498.91" fill="none" stroke="#2a2a2a" stroke-width="1.25" stroke-linejoin="round" stroke-linecap="round" />
<polyline points="458.3,458.76 458.9,459.17 459.5,460.05 460.1,461.37 460.7,463.07 461.3,465.06 461.9,467.27 462.5,469.6 463.1,471.94 463.7,474.21 464.3,476.3 464.9,478.14 465.5,479.64 466.1,480.74 466.7,481.37 467.3,481.51 467.9,481.11 468.5,480.16 469.1,478.64 469.7,476.57 470.3,473.97 470.9,470.87 471.5,467.33 472.1,463.41 472.7,459.2 473.3,454.79 473.9,450.3 474.5,445.84 475.1,441.54 475.7,437.53 476.3,433.94 476.9,430.88 477.5,428.46 478.1,426.76 478.7,425.83" fill="none" stroke="#d42020" stroke-width="1.9" stroke-linejoin="round" stroke-linecap="round" />
<polyline points="426.5,495.71 427.1,495.73 427.7,495.75 428.3,495.78 428.9,495.8 429.5,495.82 430.1,495.84 430.7,495.87 431.3,495.89 431.9,495.91 432.5,495.93 433.1,495.96 433.7,495.98 434.3,496 434.9,496.02 435.5,496.04 436.1,496.06 436.7,496.08 437.3,496.1 437.9,496.12 438.5,496.13 439.1,496.14 439.7,496.13 440.3,496.12 440.9,496.09 441.5,496.05 442.1,495.97 442.7,495.86 443.3,495.69 443.9,495.47 444.5,495.17 445.1,494.77 445.7,494.26 446.3,493.6 446.9,492.79 447.5,491.8 448.1,490.6 448.7,489.19 449.3,487.56 449.9,485.7 450.5,483.62 451.1,481.34 451.7,478.89 452.3,476.32 452.9,473.67 453.5,471.03 454.1,468.46 454.7,466.05 455.3,463.86 455.9,462 456.5,460.51 457.1,459.46 457.7,458.89 458.3,458.83 458.9,459.27 459.5,460.21 460.1,461.6 460.7,463.4 461.3,465.53 461.9,467.92 462.5,470.49 463.1,473.16 463.7,475.86 464.3,478.51 464.9,481.05 465.5,483.43 466.1,485.63 466.7,487.61 467.3,489.36 467.9,490.89 468.5,492.2 469.1,493.31 469.7,494.22 470.3,494.97 470.9,495.57 471.5,496.05 472.1,496.43 472.7,496.72 473.3,496.95 473.9,497.12 474.5,497.25 475.1,497.36 475.7,497.43 476.3,497.5 476.9,497.54 477.5,497.59 478.1,497.62 478.7,497.65 479.3,497.68 479.9,497.7 480.5,497.73 481.1,497.75 481.7,497.78 482.3,497.8 482.9,497.82 483.5,497.84 484.1,497.87 484.7,497.89 485.3,497.91 485.9,497.93 486.5,497.96 487.1,497.98 487.7,498 488.3,498.02 488.9,498.05 489.5,498.07" fill="none" stroke="#5a3028" stroke-width="1.2" stroke-linejoin="round" stroke-linecap="round" />
<polyline points="445.1,496.41 445.7,496.43 446.3,496.45 446.9,496.47 447.5,496.5 448.1,496.52 448.7,496.54 449.3,496.56 449.9,496.59 450.5,496.61 451.1,496.63 451.7,496.65 452.3,496.67 452.9,496.7 453.5,496.72 454.1,496.74 454.7,496.76 455.3,496.78 455.9,496.8 456.5,496.81 457.1,496.82 457.7,496.83 458.3,496.83 458.9,496.81 459.5,496.79 460.1,496.74 460.7,496.66 461.3,496.55 461.9,496.39 462.5,496.16 463.1,495.86 463.7,495.45 464.3,494.92 464.9,494.24 465.5,493.38 466.1,492.3 466.7,490.98 467.3,489.38 467.9,487.48 468.5,485.24 469.1,482.64 469.7,479.68 470.3,476.35 470.9,472.67 471.5,468.68 472.1,464.4 472.7,459.92 473.3,455.31 473.9,450.66 474.5,446.09 475.1,441.71 475.7,437.65 476.3,434.02 476.9,430.93 477.5,428.49 478.1,426.78 478.7,425.85 479.3,425.73 479.9,426.44 480.5,427.94 481.1,430.19 481.7,433.12 482.3,436.63 482.9,440.6 483.5,444.93 484.1,449.5 484.7,454.18 485.3,458.86 485.9,463.44 486.5,467.83 487.1,471.97 487.7,475.81 488.3,479.3 488.9,482.43 489.5,485.19 490.1,487.59 490.7,489.65 491.3,491.4 491.9,492.85 492.5,494.05 493.1,495.02 493.7,495.8 494.3,496.43 494.9,496.92 495.5,497.3 496.1,497.59 496.7,497.82 497.3,497.99 497.9,498.12 498.5,498.23 499.1,498.31 499.7,498.37 500.3,498.42 500.9,498.46 501.5,498.49 502.1,498.53 502.7,498.55 503.3,498.58 503.9,498.61 504.5,498.63 505.1,498.65 505.7,498.68 506.3,498.7 506.9,498.72 507.5,498.74 508.1,498.77 508.7,498.79 509.3,498.81 509.9,498.83 510.5,498.86 511.1,498.88 511.7,498.9 512.3,498.92 512.9,498.95" fill="none" stroke="#2a8656" stroke-width="1.6" stroke-linejoin="round" stroke-linecap="round" />
<polyline points="447.5,496.5 448.1,496.52 448.7,496.54 449.3,496.56 449.9,496.59 450.5,496.61 451.1,496.63 451.7,496.65 452.3,496.68 452.9,496.7 453.5,496.72 454.1,496.74 454.7,496.77 455.3,496.79 455.9,496.81 456.5,496.83 457.1,496.86 457.7,496.88 458.3,496.9 458.9,496.92 459.5,496.95 460.1,496.97 460.7,496.99 461.3,497.01 461.9,497.04 462.5,497.06 463.1,497.08 463.7,497.1 464.3,497.13 464.9,497.15 465.5,497.17 466.1,497.19 466.7,497.22 467.3,497.24 467.9,497.26 468.5,497.28 469.1,497.31 469.7,497.33 470.3,497.35 470.9,497.37 471.5,497.4 472.1,497.42 472.7,497.44 473.3,497.46 473.9,497.49 474.5,497.51 475.1,497.53 475.7,497.55 476.3,497.57 476.9,497.6 477.5,497.62 478.1,497.64 478.7,497.66 479.3,497.69 479.9,497.71 480.5,497.73 481.1,497.75 481.7,497.78 482.3,497.8 482.9,497.82 483.5,497.84 484.1,497.87 484.7,497.89 485.3,497.91 485.9,497.93" fill="none" stroke="#2a60d0" stroke-width="1.2" stroke-linejoin="round" stroke-linecap="round" />
<rect x="303.4" y="232.8" width="213.6" height="277.8" fill="none" stroke="#1c1c1c" stroke-width="1.4"/>
<line x1="321.2" y1="510.6" x2="321.2" y2="508.6" stroke="#1c1c1c" stroke-width="1.1" />
<line x1="339" y1="510.6" x2="339" y2="507.4" stroke="#1c1c1c" stroke-width="1.1" />
<line x1="356.8" y1="510.6" x2="356.8" y2="508.6" stroke="#1c1c1c" stroke-width="1.1" />
<line x1="374.6" y1="510.6" x2="374.6" y2="507.4" stroke="#1c1c1c" stroke-width="1.1" />
<line x1="392.4" y1="510.6" x2="392.4" y2="508.6" stroke="#1c1c1c" stroke-width="1.1" />
<line x1="410.2" y1="510.6" x2="410.2" y2="507.4" stroke="#1c1c1c" stroke-width="1.1" />
<line x1="428" y1="510.6" x2="428" y2="508.6" stroke="#1c1c1c" stroke-width="1.1" />
<line x1="445.8" y1="510.6" x2="445.8" y2="507.4" stroke="#1c1c1c" stroke-width="1.1" />
<line x1="463.6" y1="510.6" x2="463.6" y2="508.6" stroke="#1c1c1c" stroke-width="1.1" />
<line x1="481.4" y1="510.6" x2="481.4" y2="507.4" stroke="#1c1c1c" stroke-width="1.1" />
<line x1="499.2" y1="510.6" x2="499.2" y2="508.6" stroke="#1c1c1c" stroke-width="1.1" />
<text x="303.4" y="523.7" font-size="10.3" font-weight="bold" text-anchor="middle" fill="#111" textLength="16.3" lengthAdjust="spacingAndGlyphs"  stroke="#111" stroke-width="0.36">172</text>
<text x="339" y="523.7" font-size="10.3" font-weight="bold" text-anchor="middle" fill="#111" textLength="16.3" lengthAdjust="spacingAndGlyphs"  stroke="#111" stroke-width="0.36">170</text>
<text x="374.6" y="523.7" font-size="10.3" font-weight="bold" text-anchor="middle" fill="#111" textLength="16.3" lengthAdjust="spacingAndGlyphs"  stroke="#111" stroke-width="0.36">168</text>
<text x="410.2" y="523.7" font-size="10.3" font-weight="bold" text-anchor="middle" fill="#111" textLength="16.3" lengthAdjust="spacingAndGlyphs"  stroke="#111" stroke-width="0.36">166</text>
<text x="445.8" y="523.7" font-size="10.3" font-weight="bold" text-anchor="middle" fill="#111" textLength="16.3" lengthAdjust="spacingAndGlyphs"  stroke="#111" stroke-width="0.36">164</text>
<text x="481.4" y="523.7" font-size="10.3" font-weight="bold" text-anchor="middle" fill="#111" textLength="16.3" lengthAdjust="spacingAndGlyphs"  stroke="#111" stroke-width="0.36">162</text>
<text x="517" y="523.7" font-size="10.3" font-weight="bold" text-anchor="middle" fill="#111" textLength="16.3" lengthAdjust="spacingAndGlyphs"  stroke="#111" stroke-width="0.36">160</text>
<text x="356.4" y="543.3" font-size="11.4" font-weight="bold" text-anchor="start" fill="#111" textLength="108.2" lengthAdjust="spacingAndGlyphs"  stroke="#111" stroke-width="0.4">Binding Energy (eV)</text>
<text x="287.6" y="411" font-size="10" font-weight="bold" text-anchor="start" fill="#111" textLength="78" lengthAdjust="spacingAndGlyphs" transform="rotate(-90 287.6 411)" stroke="#111" stroke-width="0.35">Intensity (a.u.)</text>
<text x="267.5" y="243.3" font-size="22.5" font-weight="bold" text-anchor="start" fill="#111" textLength="10.5" lengthAdjust="spacingAndGlyphs" stroke="#111" stroke-width="0.7">d</text>
<text x="309.5" y="251.9" font-size="9.9" font-weight="bold" text-anchor="start" fill="#111" textLength="81.5" lengthAdjust="spacingAndGlyphs"  stroke="#111" stroke-width="0.35">Commercial MoS<tspan font-size="7" dy="2.5">2</tspan></text>
<text x="313.6" y="342.1" font-size="9.9" font-weight="bold" text-anchor="start" fill="#111" textLength="24" lengthAdjust="spacingAndGlyphs"  stroke="#111" stroke-width="0.35">MoS<tspan font-size="7" dy="2.5">2</tspan></text>
<text x="310.9" y="433.6" font-size="9.9" font-weight="bold" text-anchor="start" fill="#111" textLength="57.3" lengthAdjust="spacingAndGlyphs"  stroke="#111" stroke-width="0.35">Etched MoS<tspan font-size="7" dy="2.5">2</tspan></text>
<text x="339.7" y="287.5" font-size="7.9" font-weight="normal" text-anchor="start" fill="#111" textLength="10.4" lengthAdjust="spacingAndGlyphs" stroke="#222" stroke-width="0.25">S<tspan font-size="5.2" dy="-2.9">6+</tspan></text>
<polygon points="341.1,293.7 340.12,290 342.71,290.23" fill="#111"/>
<polygon points="350.1,290.4 346.51,289.08 348.18,287.09" fill="#111"/>
<text x="444.2" y="267.7" font-size="7.9" font-weight="normal" text-anchor="start" fill="#111" textLength="12.8" lengthAdjust="spacingAndGlyphs" stroke="#222" stroke-width="0.25">S-O</text>
<polygon points="456.7,272.7 453.77,270.23 456.03,268.93" fill="#111"/>
<line x1="456.7" y1="272.7" x2="461" y2="288" stroke="#b0b0b0" stroke-width="0.5" />
<text x="458.6" y="255.2" font-size="7.9" font-weight="normal" text-anchor="start" fill="#111" textLength="12.4" lengthAdjust="spacingAndGlyphs" stroke="#222" stroke-width="0.25">S<tspan font-size="5.2" dy="-2.9">2−</tspan></text>
<polygon points="462.7,261.3 461.72,257.6 464.31,257.83" fill="#111"/>
<polygon points="468.8,261.3 466.35,258.36 468.79,257.47" fill="#111"/>
<line x1="462.7" y1="261.3" x2="460" y2="275" stroke="#b0b0b0" stroke-width="0.5" />
<line x1="468.8" y1="261.3" x2="472" y2="270" stroke="#b0b0b0" stroke-width="0.5" />
<text x="360.5" y="385.9" font-size="7.9" font-weight="normal" text-anchor="start" fill="#111" textLength="11.2" lengthAdjust="spacingAndGlyphs" stroke="#222" stroke-width="0.25">S<tspan font-size="5.2" dy="-2.9">6+</tspan></text>
<polygon points="358.3,390.5 360.5,387.37 361.99,389.5" fill="#111"/>
<line x1="358.3" y1="390.5" x2="353.3" y2="392.7" stroke="#b0b0b0" stroke-width="0.5" />
<text x="435.3" y="363.6" font-size="7.9" font-weight="normal" text-anchor="start" fill="#111" textLength="12.9" lengthAdjust="spacingAndGlyphs" stroke="#222" stroke-width="0.25">S<tspan font-size="5.2" dy="-2.9">2−</tspan></text>
<polygon points="444.4,372.7 441.47,370.23 443.73,368.93" fill="#111"/>
<polygon points="449.3,365.2 445.84,363.57 447.67,361.74" fill="#111"/>
<line x1="449.3" y1="365.2" x2="458.8" y2="375.8" stroke="#b0b0b0" stroke-width="0.5" />
<text x="457" y="451.8" font-size="7.9" font-weight="normal" text-anchor="start" fill="#111" textLength="12.3" lengthAdjust="spacingAndGlyphs" stroke="#222" stroke-width="0.25">S<tspan font-size="5.2" dy="-2.9">2−</tspan></text>
<polygon points="462.7,455.8 461.72,452.1 464.31,452.33" fill="#111"/>
<polygon points="468.9,455.8 466.45,452.86 468.89,451.97" fill="#111"/>
<line x1="468.9" y1="455.8" x2="471" y2="468" stroke="#b0b0b0" stroke-width="0.5" />
</svg>
</body></html>
